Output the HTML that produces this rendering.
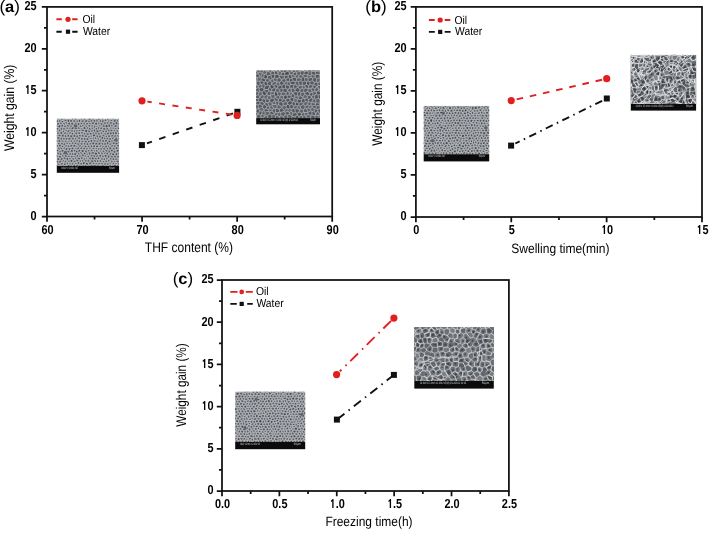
<!DOCTYPE html>
<html><head><meta charset="utf-8"><title>Weight gain figure</title>
<style>
html,body{margin:0;padding:0;background:#fff;}
body{width:709px;height:533px;overflow:hidden;}
svg{display:block;}
text{font-family:"Liberation Sans",Arial,Helvetica,sans-serif;fill:#000;text-rendering:geometricPrecision;}
.tk{font-size:13px;font-weight:bold;}
.one{font-family:NanumGothic,"Liberation Sans",sans-serif;font-size:11.6px;font-weight:800;}
.pl{font-size:16px;font-weight:bold;}
.pp{font-weight:normal;font-size:16.5px;}
.ti{font-size:14px;}
.ti2{font-size:13.5px;}
.lg{font-size:11.5px;}
.sb{font-size:3.2px;fill:#d0d0d0;}
</style></head>
<body>
<svg width="709" height="533" viewBox="0 0 709 533">
<defs><filter id="sb" x="-2%" y="-2%" width="104%" height="104%"><feGaussianBlur stdDeviation="0.38"/></filter></defs>
<rect width="709" height="533" fill="#fff"/>
<g filter="url(#sb)">
<rect x="56.8" y="118.8" width="62.3" height="47.1" fill="#abafb4"/>
<path fill="#44484d" d="M58.3 119.3L58.9 118.8L57.6 118.8L57.6 119.1ZM87.3 118.8L86.6 118.8L86.6 118.8L87.2 119ZM90.1 119.5L91 118.9L91 118.8L88.7 118.8L88.3 119.4ZM103.2 119.1L103.2 118.8L101.6 118.8L102.1 119.2ZM61.4 121.5L62.8 122.2L63.3 121.6L63.1 120.9L63 120.9L61.6 120.9ZM69 120.1L68.2 119.5L67.8 119.8L67.6 121.1L68.2 121.9L69.2 121.6ZM79.6 122L80 121.7L80.2 120.5L79.6 119.7L78.8 120.1L79.1 121.8ZM82.9 121.8L83.8 121.3L83.8 120.7L83 120.2L81.4 120.9L81.3 121.5ZM88.7 122.2L89.6 121.9L89.6 120.8L88.4 120.7L88.4 121.9ZM97.7 121.3L96.9 119.4L96.3 119.6L96.4 121.5L97.4 121.4ZM100.7 119.7L99.5 121.4L100.2 121.9L100.6 121.8L101.2 120.1ZM101.9 122L102.9 122.3L103.7 121.3L103.4 120.3L102.4 120.4ZM116 123.9L117.1 124.2L117.2 124.2L117.6 123L116.3 122.3L115.4 122.8ZM83.7 125.7L82.7 125L82 125.2L82.8 126.6ZM106 125.3L105.5 127.1L105.9 127.3L107.6 126.9L107.3 125.1L106.7 125ZM114.6 126.8L116.3 126.8L116.5 125.3L115.7 125.1L114.2 126.4ZM57.8 129.5L58.5 128.4L57.5 127.9L57 128.1L56.8 128.4L56.8 129.2ZM90.3 129.8L90.5 129.4L90 128L89.6 128L88.6 129.4ZM108.1 128L106.3 128.5L106.3 129.2L107.2 129.7L108.3 128.1ZM83.1 129.5L81.6 130.6L81.5 131L83.8 131L83.8 130.2ZM89.1 132.3L90.1 131.6L90 131L88.5 130.6L88.3 132ZM95.3 130.2L94.5 129.4L94.3 129.3L93.8 129.7L93.9 131.2L94.5 131.4L95 131ZM97.5 132.4L98.5 131.5L98.3 130.6L98 130.5L96.4 130.6L96.3 131.2ZM99.7 131.3L99.8 131.3L101.3 131L101.4 130.4L99.6 130.1L99.5 130.3ZM102.5 131.4L103.5 132.3L103.9 131.9L104 131.1L102.7 130.4ZM108.7 134L108.7 132.7L108 132.5L107 133L107.3 134.5L107.5 134.6ZM68.8 136.5L69.1 135.1L68.8 134.7L67.3 135.7L67.7 136.6L68 136.7ZM94.4 134.6L92.8 134.8L92.8 134.8L93.3 136.2L94.2 136.2L95 135.8L95.2 135.3ZM113.2 136.3L113.4 135.5L112.3 135.2L111.1 135.7L111.2 136.6ZM95 137.2L95.2 138.8L95.9 139.1L96 139L96.3 138.3L95.3 137ZM102.2 138.9L102.9 138.7L103.2 137.5L102 136.8L101.4 138.1ZM104.1 139L104.5 139.2L105.3 138.9L105.2 137.9L104.8 137.5L104.4 137.6ZM107.9 138.2L107.5 137.8L106.5 138.1L106.5 138.9L107.6 139.4ZM60.1 141.8L60.2 140.7L59.5 140L58.5 140.2L58.5 141.6ZM71.3 140.3L71.1 140.4L70.7 141.9L71.1 142.1L72.2 140.9ZM90.9 141.8L91.5 141.9L92.2 141.2L92.1 140.4L92 140.3L90.3 140.3ZM92.7 144.4L94 144L94.2 142.9L93 142.2L92.4 142.8L92.6 144.3ZM115.6 144.1L116.3 144.6L117.5 143.7L117.2 142.7L115.8 142.7L115.8 142.7ZM106.7 145.5L105.2 146.1L105.2 146.4L105.9 147.4L106.7 146.9L106.8 145.5ZM61 149.1L62.1 148.7L62.1 148.5L60.9 147.3L60.4 147.5ZM76.3 148.1L75 147.8L74.7 148L74.7 148.1L76.3 149ZM77.7 149.4L79.1 148.6L79 147.9L78.3 147.3L77.6 147.9L77.5 149.3ZM117.3 148.6L117.4 147.6L116.6 147.1L115.7 148L116 149.3ZM57.2 151.3L58.1 151.2L58.4 150.6L57.5 149.7L56.8 150.3L56.8 151ZM70.8 151.5L71.7 151.8L72.8 151.7L72.7 150.6L71.2 150.1L70.6 150.9ZM75.6 152L77 152.7L77.4 152.3L77.1 150.5L76.8 150.3ZM112.9 150.3L111.9 149.4L110.9 150.3L111.3 151.2L112.1 151.6ZM78.8 154.5L79.8 154.3L78.8 153.1L78.4 153.1L77.9 153.6ZM97.2 154.1L96.8 152.9L95.6 152.6L95.3 152.7L94.8 154L95.9 154.8ZM112 154.7L113.5 155.2L114.1 154.6L114.1 154.1L112.7 153.2ZM66.2 157L66.8 156.6L66.9 156.1L65.6 155.1L64.9 155.7L64.8 156.3ZM73.9 155.9L73.8 156L73.6 156.9L74 157.1L75.1 156.3ZM77.8 156.7L77.9 155.4L77.2 154.7L76.5 156L76.6 156.2L77.3 156.9ZM61.5 160L62.5 159L62.2 157.8L62.1 157.8L60.6 158.9L60.7 159.5ZM67 159.9L68.2 159.3L68 158.1L67.4 157.7L66.8 158.1L66.6 159.5ZM76.4 158.1L76.4 157.9L75.9 157.3L74.9 158L75.3 159.1ZM93.6 159.1L93.7 158.1L92.8 157.5L91.9 157.7L91.9 159.2L93.4 159.3ZM99.6 158.4L98.6 157.2L97.7 157.9L98.1 158.9L98.8 159.1L99.6 158.6ZM70.6 160.4L70.8 161.9L71.1 162.1L72.4 161.6L72.5 160.8L71.5 159.8ZM85.8 161.7L86.1 161.7L86.6 159.8L85.9 159.7L85 161ZM95.8 161.9L95.8 160.6L94.3 160.1L94.3 160.1L94.4 161.3L95.4 162ZM85.8 163.7L87.5 164.7L88.1 164.2L87.8 163.3L86.6 162.9L86.1 163ZM118 163.7L117.9 163.9L119.1 164.7L119.1 163ZM60.1 165.7L59.7 165.9L60.4 165.9ZM100.1 165.7L100 165.9L100.6 165.9L100.5 165.6ZM113.9 165.9L115.9 165.9L115.9 165.2L114.8 165L113.7 165.3ZM117.2 165L117.2 165L117.1 165.9L118.7 165.9Z"/>
<path fill="#565a5f" d="M61.4 119.7L62.5 119.6L62.3 118.8L60.7 118.8ZM64.6 118.9L64.6 118.8L63.6 118.8L63.7 119.6ZM67.1 118.8L67.1 118.8L67 118.8ZM70.6 118.8L70.6 118.8L69.4 118.8L69.8 119.1ZM78.5 118.8L77.9 118.8L77.9 118.9L78 119ZM98.7 120.4L99.8 118.8L98.1 118.8ZM109.8 119.1L109.9 119.2L110.9 118.8L109.7 118.8ZM56.8 120.5L56.8 121.6L57.1 121.9L58 121.9L57.9 120.5L57.1 120.3ZM77.5 120.1L77.4 120.1L76.4 120.7L76.4 121.4L77.5 121.9L77.9 121.9ZM112.6 121.1L112.6 120.7L111.6 119.9L110.4 120.3L110.5 120.9ZM118 121.8L117.9 120.2L117.6 119.8L116.9 119.9L116.9 121.2ZM76.1 124L76.3 123.9L76.7 122.9L75.9 122.5L74.9 123.2ZM80.5 122.9L80.7 124L81.2 124.2L82.3 123.8L82.4 122.9L80.7 122.7ZM89.1 123.9L90.6 124.2L90.4 123.2L90.1 123L89.1 123.3ZM94 122.9L93.1 122.1L91.7 123.1L91.9 124L93.6 124.1L93.8 124ZM99.4 123.7L99.4 122.9L98.5 122.3L98.2 122.4L98.3 124.5ZM100.6 123.1L100.6 123.8L101.7 125.4L102.6 123.6L102.6 123.5L101 123ZM112.4 122.4L110.3 122.1L109.7 123L109.7 123.2L110.6 123.6L111.8 123.4ZM113.7 125.2L114.8 124.3L114.2 123.1L113.5 122.8L112.9 124ZM65.4 127.2L65.9 126.6L65.8 125.4L64.3 125.8L64 126.6ZM90.3 125.4L88.7 125.1L88.3 125.5L88.3 125.7L89.5 126.8L90 126.8ZM92.7 126.5L93 125.3L91.6 125.3L91.4 126.5ZM93.9 127L94.5 128.1L94.5 128.1L95.2 127.1L94.9 125.7L94.3 125.1ZM103 126.7L104.4 126.7L104.7 125.2L103.5 124.6L102.6 126.4ZM111.2 124.8L111.3 126.2L112.2 126.4L112.8 126.1L111.9 124.7ZM91.6 128.8L93 128.8L93.3 128.5L92.9 127.8L91.2 127.8ZM98.9 129.1L99.3 127.6L98.5 127.1L98 127.6L98.5 129.3L98.6 129.4ZM104.4 129.9L105 129.3L105.1 128.3L104.6 127.9L103.4 127.9L103.2 129.3ZM114.9 128.6L116.3 129.3L116.6 129L116.2 128L114.9 128.1ZM57.8 131.4L57.6 130.7L56.8 130.5L56.8 131.7ZM68.3 132.2L69.4 130.9L69.4 130.6L68.7 130.2L68.1 130.3L67.1 132ZM78.8 131L80.3 131.2L80.3 130.5L79.8 130L78.7 130.2ZM91.6 130L91.2 130.6L91.4 131.5L91.7 131.7L92.7 131.3L92.6 130ZM59 132.8L58.5 132.5L56.9 132.9L57.1 133.7L57.8 134.1L59.1 133.3ZM76.2 134.3L77.3 134L77.1 132.8L75.9 132.6L75 133.5ZM98.1 133.6L97.9 134.2L98.6 134.6L100.1 134.3L99.2 132.5ZM60.5 135.2L59.7 134.4L58.5 135.2L58.4 135.9L60.5 136.3ZM62.5 136.8L63.5 136.5L63.8 135L63.2 134.6L61.8 135.3L61.7 136.3ZM71 135.2L70.3 135.4L70 136.8L71.1 137.5L72.3 136.6L72.3 135.6ZM80.7 136.5L80.5 134.9L78.9 135.1L79.1 136.3ZM89.8 137L89.5 135.7L89.4 135.7L88.1 136.5L88.1 136.9L89 137.8ZM108.7 137.3L109.9 136.7L109.9 135.6L109.3 135.2L108.1 135.6L108.3 136.8ZM57.9 137.1L57.3 137.7L57.5 138.6L58.1 139L59.2 138.8L59.7 137.4ZM84 137.7L83.8 137.9L84 139.8L84.3 140.1L85.2 139.7L85.4 138.2ZM88.5 139L87.3 137.9L86.6 138.2L86.4 139.8L87.4 140.3L88.6 139.4ZM115.9 138.7L117 138.4L117.2 137.9L116.8 137.2L115.3 138.3ZM77.9 139.9L77.3 139.4L76.3 140.6L76.6 141.5L77.2 141.8ZM84.7 141.9L86.1 142.4L86.9 141.9L86.9 141.4L85.7 140.8L84.7 141.2ZM103.5 142L103.8 141.8L103.8 140.3L103.3 139.9L102.5 140.1L102.1 141.6ZM58.1 144L58.4 144.2L59.8 143.5L59.8 143L58.1 142.8ZM76.2 144.2L76.5 142.9L76 142.6L74.6 143.1L74.5 143.7ZM77.4 144.6L78.1 145.2L79.4 144L79.3 143.7L77.7 143.1ZM82.7 143.5L81 143.1L80.6 143.5L80.6 143.9L81.7 144.8L82.7 144.3ZM85.5 144.5L85.5 143.6L84.2 143L83.9 143.3L83.9 144.3L84.2 144.6ZM97.2 144.3L97.3 143.2L96 142.6L95.4 142.9L95.3 144.2L95.7 144.7ZM101.6 144L102.5 144.8L103.2 144.7L103.1 143.2L101.6 142.8ZM104.3 143L104.5 144.9L104.6 145L105.9 144.5L105.5 142.9L104.6 142.7ZM65.8 146.8L66.6 146.7L66.7 145.2L66.2 145L65 146.1ZM71.6 144.8L70.2 145.3L70.7 146.8L70.9 146.8L72.2 146.3L72.2 145.2ZM76.8 146.9L77.5 146.3L76.7 145.6L76 146.7ZM107.9 146.9L108.5 147.1L109.3 146.1L108.6 145.4L108 145.5ZM117 145.6L117 145.8L118.1 146.6L118.9 146.2L118.9 144.9L118.3 144.7ZM90 149.1L90.8 148.3L90.1 147.5L89 148.1L89.4 148.7ZM100.5 149.5L101.9 149.8L102.1 149.6L101.9 148.6L101 147.9L100.4 148ZM103.2 148.6L103.3 149.3L104.4 149.5L105.1 148.8L105.1 148.5L104.5 147.5ZM114 149.5L114.7 149.5L114.5 148.2L113.2 147.7L112.5 148.2L112.5 148.3ZM64.5 151.8L65.7 152.7L66.3 152.2L66.3 151.1L64.8 150.7ZM68 150.6L67.5 150.9L67.6 152.1L68.7 152.5L69.6 151.7L69.4 151.3ZM74.3 151.7L75.5 150L74.4 149.4L73.9 150.3L74 151.7ZM87.5 150.5L88.4 151.4L89.4 150.9L89.4 150.2L88.9 149.9ZM104.3 151.3L104.1 150.7L102.9 150.5L102.7 150.8L102.7 151.2L103.5 152.4ZM108.3 151.9L108.9 152.9L110.1 151.5L109.8 150.6L109 150.5L108.7 150.6ZM68.1 154.5L68.1 153.7L67 153.2L66.2 153.8L66.2 154L67.6 155ZM70.5 154.9L70.5 154.8L70.9 152.9L70.4 152.7L69.4 153.5L69.4 154.4ZM91.8 153.5L93 153.9L93.6 153.7L94 152.6L93 152.1L91.7 152.5ZM102.9 153.6L101.9 152.3L101.3 152.9L101.2 153.9L102 154.2L102.9 154.1ZM118.1 152.9L118.7 154.5L119.1 154.6L119.1 152.5L119.1 152.5ZM68.7 157L69.9 156.8L69.9 156L68.9 155.6L68.1 156.1L68.1 156.6ZM91.4 156.5L92.4 156.3L92.4 155L91.5 154.7L90.5 155.8ZM98 156.1L97.9 155.1L96.3 156L96.2 156.7L96.9 157ZM100.5 154.9L99.2 155.3L99.3 156.1L100.4 157.4L100.6 157.3L101.2 155.2ZM71 158.6L70.4 157.9L69.2 158.2L69.4 159.2L69.9 159.4L71 158.6ZM83.5 159.2L84.2 159.9L84.9 158.9L84.5 158.1L84.1 157.9ZM96.4 159.5L96.9 159.2L96.5 158.2L95.5 157.8L94.9 158.2L94.8 158.9ZM111.3 159.5L111.5 158.5L110.3 158.1L109.8 158.8L110.6 159.8ZM116.7 161.8L117.5 162.5L118.6 161.8L118.7 161L118.2 160.5L116.5 161ZM70.1 163L69.5 163.2L69.2 164L70.3 164.5L70.5 164.3L70.5 163.2ZM81.6 164.8L82 164.6L81.6 162.7L81.6 162.7L80.5 163L80.3 164.3ZM89 163L89.3 164.1L89.8 164.4L91.5 163.8L91.5 163.6L90.1 162ZM115.4 163.8L116.4 164.1L116.6 163.8L116.7 163.5L116 162.9L115.4 163.1ZM58.1 165.9L56.8 165L56.8 165.9L58.1 165.9ZM73.6 165.9L74.9 165.9L75 165.1L74.3 164.7L73.6 165.7ZM76.2 165.9L77.8 165.9L77.9 165.3L77.1 164.8L76.3 165.2ZM79.1 165.9L81 165.9L79.6 165.3L79.2 165.5ZM85.4 165.9L86.6 165.9L86.7 165.7L85.2 164.8L85 165Z"/>
<path fill="#4a4e53" d="M72.7 119.4L73.5 118.8L73.5 118.8L71.9 118.8L71.8 119ZM76.6 119.1L76.6 118.8L74.7 118.8L74.7 118.9L75.7 119.6ZM92.9 119.5L94.1 118.8L92.3 118.8L92.3 118.9ZM107.4 119.7L108.5 119.1L108.4 118.8L107 118.8L107 118.9ZM118.6 119.1L118.8 119.3L119.1 119.3L119.1 118.8L118.8 118.8ZM66.4 120.8L66.5 120L65.5 119.7L64.3 120.7L64.5 121.2ZM71.9 121.4L72.1 120.5L71.1 120L70.3 120.2L70.4 121.7L70.8 121.9ZM90.9 122.1L92.4 121.1L92.2 120.6L91.6 120L90.8 120.5L90.8 122ZM93.5 120.6L93.7 120.9L94.8 121.9L95.2 121.7L95 119.7ZM114.5 121.9L115.6 121.2L115.7 119.7L115.2 119.4L113.9 120.7L113.8 121.6ZM58.9 124L58.6 123.1L58.5 123.1L57.3 123.2L56.8 124L58 124.7ZM63.4 123.3L63.3 123.6L64.1 124.6L65.1 124.3L64 122.7ZM57.3 125.8L56.8 125.5L56.8 126.8L57.1 126.7ZM60.4 126.8L60.1 125.2L59.7 125L58.6 125.8L58.3 126.9L59.5 127.6L59.5 127.6ZM67.3 124.9L67 125.1L67.1 126.3L68.4 126.6L68.9 126.2L69 125.8ZM70.3 125.8L70.2 126.3L71 126.9L72.2 126.1L70.8 125.5ZM109.2 124.3L108.5 124.8L108.8 127L109 127.1L110 126.4L109.9 124.7ZM63.5 129.6L64.2 129.7L65 128.4L65 128.4L63.2 127.7L63.2 127.7ZM71.6 128.9L73.2 128.9L73.5 128.7L73.6 127.6L73 127L71.6 128ZM79.5 128.8L79.7 128L78.7 127.1L78.4 127.5L78.5 129ZM97.2 129.3L96.8 127.9L96.1 127.9L95.6 128.7L96.2 129.4ZM111.7 129.7L110.6 129.9L110.6 131.1L111.9 131.3L112.6 130.9L112.6 130.4ZM66.4 134.4L66.7 134.6L68.2 133.7L68.1 133.4L67 133.3ZM72.9 132.9L72 132.9L71.7 134.1L72.7 134.4L73.5 133.5ZM81.4 133.7L82.2 133.5L83.2 132.3L81.3 132.2ZM90.1 134.6L91.7 134.3L91.7 134.3L91.2 132.9L90.8 132.7L89.8 133.3L89.9 134.5ZM115.4 134L116.5 134.1L116.8 133.9L117 133.1L115.5 132.1L115 132.3ZM76.7 135.5L76.4 137.1L77.2 137.7L77.9 136.7L77.7 135.2ZM85.8 135.1L84.9 135.9L84.7 136.6L86 137.1L86.8 136.8L86.9 136.3ZM106.9 135.7L106.8 135.6L105.8 136L105.6 136.6L106 136.9L107 136.6ZM114.4 136.8L114.6 137.2L116.3 136.1L116.1 135.4L115 135.2L114.6 135.4ZM78.9 139.1L79.7 139.1L80.3 137.7L78.9 137.5L78.1 138.5ZM108.9 139.3L110.5 139.7L110.9 139.3L110.4 137.9L109.1 138.5ZM57.3 140L57 139.8L56.8 139.9L56.8 141.8L57.2 141.9ZM105.9 140L105 140.4L105.1 141.6L105.8 141.7L107 140.9L107.1 140.5ZM108.3 141.1L109.4 142.4L110.1 142.1L110 140.8L108.3 140.4ZM56.9 143.1L56.8 143.1L56.8 143.8L56.9 143.8ZM87.2 145.1L88.2 144.4L88.2 143.7L87.4 143.1L86.8 143.5L86.8 144.7ZM112.6 143L112.9 143.7L113.8 144.1L114.4 143.9L114.6 142.7L113.5 142.2ZM57.3 145L56.8 145.2L56.8 146.6L57.6 146.7L57.9 146.6L57.6 145.3ZM59.1 146.3L59.6 146.5L60.5 146L61 145.3L60.3 144.6L58.9 145.3ZM74.5 146.6L75.4 145.2L73.9 144.8L73.5 145.1L73.4 146.4L74.1 146.9ZM89.5 146.4L89.4 145.7L88.9 145.5L87.8 146.3L87.7 146.8L88.1 147.1ZM97.6 145.5L96.1 145.9L96 147L97.7 147.1L98.3 146.6L98.3 146.2ZM58.7 147.5L58.4 147.7L58.2 148.6L59.3 149.7L59.8 149.5L59.2 147.7ZM63.4 148.8L64.2 149.3L64.9 147.6L64.3 147.2L63.4 148.4ZM70.3 149.1L70.3 148L70.2 147.9L68.6 148.4L68.6 149.5L69.7 150ZM81.3 147.2L80.3 147.9L80.4 148.6L80.9 149L82 148.7L82 147.9ZM83.3 148.8L84.5 149.4L84.6 149.3L85 148.4L84 147.4L83.3 147.9ZM93.3 149.3L94.4 148.7L94.4 148.4L92.8 148.1L92.4 148.4ZM109.3 148L109.5 149.3L110 149.4L111.3 148.3L111.3 148L110.2 147ZM80.2 150L79.7 149.7L78.4 150.4L78.6 151.9L78.9 151.9L80.1 151ZM87.4 152.3L87.4 152.2L86.1 150.8L85.2 150.5L85.1 150.5L85 151.3L86.4 152.5ZM101.4 151.1L101.4 150.9L100.1 150.7L99.7 151L100.6 151.8ZM118.8 150.3L117.9 149.7L116.4 150.5L116.7 151.6L117.3 151.8L118.6 151.3ZM60 153.6L59.7 154.8L60.9 155L61.6 153.7L61.6 153.4ZM75.6 155.2L76.3 153.8L74.5 152.9L74.3 152.9L74.3 154.8ZM84.7 154.4L85.2 154.2L85.5 153.4L84.3 152.4L83.5 153.2ZM105.1 153.8L105.5 152.4L105.1 152.2L104.1 153.6L104.1 154ZM107.6 154.4L108.2 154.2L108.2 154.2L107.3 152.6L106.7 152.7L106.4 153.9ZM72.4 157L72.5 156.1L71.2 155.8L71.2 155.9L71.2 157L71.7 157.5ZM79.2 155.7L79.1 156.6L80.1 156.8L80.6 156.2L80.5 155.5ZM95.1 155.8L94 154.9L93.7 155L93.6 156.5L94.4 157L94.9 156.7ZM59.3 158.9L58 158L57.3 158.4L57.1 159.5L58.7 160.1L59.4 159.6ZM79 159.6L80 158.9L79.8 158L78.5 157.8L77.7 158.1L77.6 158.2ZM114.1 159.7L114.1 158.8L113.5 158.2L112.7 158.6L112.6 159.6L113.5 160.1ZM57.3 162.5L58.2 162.3L58.2 161.3L56.8 160.7L56.8 161.9ZM83.5 161L82.5 160L82 160.1L82.2 161.6ZM91.5 160.5L90.8 160.8L90.8 160.9L92.1 162.4L93.2 161.4L93.1 160.5ZM84.2 162L82.9 162.6L83.2 164.2L84 164.2L84.5 163.6L84.9 162.6ZM95.5 164L96.4 164.5L96.9 163.7L96.9 163.4L96.3 163.1L95.8 163.2ZM68.1 165.9L69.6 165.9L69.7 165.6L68.6 165.1L67.8 165.7ZM101.8 165.6L101.9 165.9L103.8 165.9L103.8 165.7L103.4 165.3ZM106.4 165.6L105.3 165.9L106.8 165.9ZM109.9 165L108.8 165.9L110.4 165.9L110.8 165Z"/>
<path fill="#5c6065" d="M81.1 119.6L82.4 119.1L82.3 118.8L80.5 118.8L80.5 118.8ZM75.1 120.7L74.1 119.9L73.3 120.5L73.2 121.6L74 122.3L75.2 121.5ZM86.2 120L85.1 120.8L85 121.4L85.6 122.2L87.2 121.7L87.2 120.3L87.2 120.2ZM72.6 124.9L73.4 123.4L72.4 122.6L71.3 123L71.3 124.4ZM79.5 124.3L79.2 123.2L78.6 123L77.9 123.1L77.5 124.3L78.6 125.4ZM84.9 124.4L84.8 123.1L84.2 122.5L83.6 122.8L83.5 124L84.5 124.7ZM107 123.8L107.7 123.9L108.5 123.3L108.5 123.1L106.9 121.9L106.5 122.1ZM97.7 126.2L97.6 125.9L97.5 125.8L96.2 125.9L96.4 126.7L97.1 126.7ZM99.8 124.9L98.9 125.7L99 126L100.1 126.6L100.7 126.3ZM61.5 130.2L62.2 129.8L61.9 127.8L61.3 127.7L60.5 128.4ZM68 127.8L66.7 127.5L66.2 128.2L66.2 128.2L67.8 129.1L68.2 129ZM69.3 127.6L69.4 129.2L70 129.5L70.3 129.2L70.4 128L69.5 127.3ZM77.1 127.8L75.3 127.6L74.9 127.8L74.8 128.7L75.6 129.3L77.2 129.1ZM81 129.5L82.4 128.5L82.3 128.2L80.9 128.3L80.7 129.2ZM100.6 127.7L100.2 128.9L102 129.3L102 129.3L102.2 127.6L101.7 127.2ZM58.8 130.3L59.1 131.4L59.4 131.6L60.4 130.8L59.5 129.1ZM66.8 130L65.8 129.4L65.2 130.4L65.4 130.8L66.1 131.2ZM62.5 133.5L61.3 131.6L60.2 132.6L60.3 133.3L61.3 134.2ZM64.6 134L65.3 133.9L66 132.6L65.9 132.5L65.1 132.1L63.9 133.6ZM70.8 132.5L70.1 132L69.3 133L69.5 133.6L70 134.2L70.5 134.1ZM85.3 133.3L84.5 132.7L83.4 134L84.3 134.8L85.3 134ZM93.3 132.3L92.5 132.7L92.8 133.6L94 133.4L94 132.5ZM105.5 134.8L106.1 134.6L105.8 133.2L104.7 132.9L104.1 133.4ZM118.1 133.8L118.9 134L119.1 134L119.1 132.8L118.7 132.6L118.2 133.2ZM73.5 135.3L73.5 136.5L74.6 137L75.2 136.8L75.4 135.3L74.3 134.5ZM97.9 135.7L97.2 135.2L96.4 135.5L96.2 136.1L97.2 137.4L98 137.2ZM102.3 135.5L103.9 136.5L104.4 136.3L104.6 135.7L103.3 134.4L102.3 135.3ZM60.4 139.2L61 139.7L62.1 139.4L61.9 137.8L61.1 137.4ZM73 137.6L71.7 138.5L71.8 139.1L72.9 139.8L73.5 139.5L73.9 138ZM75.6 138L75.1 138.1L74.8 139.5L75.5 139.7L76.4 138.6ZM92.8 139.4L92.9 139.4L93.9 138.9L93.8 137.5L93.1 137.4L92.9 137.7ZM112.1 139L112.8 139.1L113.7 138.3L113.4 137.6L111.7 137.8ZM118.4 138.2L118.2 138.8L119.1 139.9L119.1 138ZM65 142.1L67 141.3L66.9 141L65.1 140.7L64.7 140.9L64.7 141.9ZM78.4 142L79.8 142.5L80.2 142.1L80.1 140.7L79.8 140.3L79.1 140.3ZM93.5 141.1L94.9 141.8L95.4 141.5L95.4 140.2L94.6 140L93.4 140.5ZM112.4 140.3L111.8 140.2L111.3 140.6L111.3 142L111.7 142.2L112.7 141.2ZM65.9 143.1L66.4 143.8L67.3 144.1L67.6 143.9L67.8 142.9L67.4 142.4ZM73.4 142.7L72.9 142L71.9 143.1L72.1 143.7L72.8 144.1L73.2 143.8ZM91.1 143.1L90.6 143L89.4 143.8L89.5 144.4L90 144.6L91.3 144.2ZM99.6 146.6L99.9 146.8L100.9 146.7L101.5 145.6L101 145.1L99.5 146.2ZM112 147L112.6 146.6L113 145.1L112.5 144.9L111 146.1ZM113.9 146.7L114.9 147L115.8 146.1L115.7 145.7L114.8 145.1L114.3 145.3ZM56.8 147.8L56.8 148.6L56.9 148.5L57.1 147.9ZM87.7 148.3L87.1 147.9L86.3 148.6L85.9 149.4L86.4 149.6L88.1 148.9ZM99.3 149.7L99.1 147.7L99 147.7L98.5 148.1L98.2 149.4L98.7 150.2ZM118.6 147.7L118.5 148.7L119.1 149.1L119.1 147.5ZM59.2 151.7L59.8 152.4L60.9 152.2L60.3 150.6L59.6 151ZM97.2 150.1L96 150.1L96.1 151.4L97.1 151.7L97.7 151ZM114.6 152.9L115.5 152L115.2 150.7L114.1 150.8L113.3 152.1ZM65 154L65 153.8L63.7 152.7L62.8 153.2L62.8 153.5L64.3 154.6ZM72.1 153L71.8 154.7L73 155L73.1 154.9L73 152.9ZM82 153.2L80.7 152.1L80 152.6L81.1 153.9ZM87 155L87.8 154.7L87.4 153.5L86.7 153.7L86.4 154.6ZM100 153.8L100 152.9L98.7 151.8L98 152.5L98.5 154L98.6 154.1ZM117.5 154.8L116.8 153L116.4 152.8L115.4 154L115.4 154.5L116.8 155.2ZM57.5 156.9L57.9 155.7L56.8 155.1L56.8 157.2L56.8 157.2ZM83.8 155.2L82.7 154.1L81.7 155L81.8 155.9L83.4 156.3ZM108.8 158.1L109.5 157.1L109.4 155.7L108.8 155.3L108.1 155.6L107.5 156.8ZM116.3 157.3L116.2 156.3L114.9 155.6L114.3 156.1L114.3 157.2L114.9 157.8ZM63.7 158.7L64.9 159.3L65.4 159.2L65.5 158.1L64.1 157.3L63.5 157.7ZM81.5 157.1L81 157.7L81.2 158.8L81.4 158.9L82.4 158.8L82.9 157.5ZM62.5 161.5L63.1 161.8L64 160.2L63.3 159.9L62.3 160.9ZM68.9 160.4L67.5 161.1L67.5 161.2L69.1 162.1L69.5 161.9L69.4 160.5ZM73.6 161.9L74.1 162.3L75.7 161.6L75.1 160.4L73.7 161ZM79.5 161L80.2 161.8L81 161.6L80.7 159.9L79.5 160.8ZM102.8 161.2L102.7 161.6L103.7 162.5L104.3 162L104.1 161.2L103 161.1ZM111.9 162.5L112.8 161.5L112.8 161.2L111.8 160.6L110.9 161L110.9 161.2ZM114.9 162L115.4 161.8L115.2 161L114.7 160.8L114.1 161.2L114.1 161.5ZM62.1 162.7L60.6 163.9L60.6 164.6L61.1 164.8L62.6 164.2L62.8 163.1ZM93.9 162.5L92.7 163.6L92.7 164L93.2 164.4L94.2 163.8L94.5 162.9ZM98.1 163.3L98.2 163.5L99.8 164.5L100 164.4L100.1 163.2L99 162.7ZM103 164.1L103 163.6L102 162.7L101.3 163.1L101.3 164.5ZM104.2 163.6L104.2 164.4L104.7 164.8L106 164.4L106.1 163.4L105.1 163ZM113 164.2L114.1 163.9L114.2 163.1L113.5 162.6L112.5 163.7L112.5 163.9ZM63 165.4L61.8 165.9L63.4 165.9ZM88.8 165.2L88 165.9L88 165.9L89.2 165.9L89.2 165.4ZM97.2 165.5L97.2 165.9L98.5 165.9L98.8 165.3L97.8 164.7ZM111.8 165.9L112.6 165.9L112.4 165.3L112.1 165.2Z"/>
<path fill="#505459" d="M85.4 118.8L83.6 118.8L83.7 119.1L84.5 119.7L85.4 119.1ZM59.3 121.9L60.1 121.4L60.4 120.4L59.8 119.7L59.2 120.3ZM104.9 121L105.6 121.1L106.4 120.7L106.5 120.6L105.9 119.6L104.6 120ZM62.1 123.3L62.1 123.2L60.6 122.5L59.9 123L60.1 123.8L60.6 124.1ZM70.1 122.9L69.8 122.7L68.4 123.1L68.1 123.9L69.7 124.7L70.1 124.5ZM86.1 123.4L86.1 124.2L87.4 124.6L87.8 124.2L87.9 123.1L87.6 122.9ZM96 122.7L95.3 123.1L95 124.1L95.7 124.7L97 124.6L97 122.7ZM103.8 123.2L103.8 123.3L105.4 124.2L105.8 124L105.2 122.3L104.6 122.2ZM118.4 124.3L119 124.6L119.1 124.6L119.1 123.1L118.9 123.1ZM62.4 126.7L62.8 126.5L63.1 125.4L62.4 124.6L61.3 125.2L61.6 126.5ZM73.6 125.9L74.4 126.7L74.7 126.5L75.2 124.9L74.3 124.3L73.6 125.8ZM76.6 125.1L76.5 125.2L76.1 126.4L77.5 126.6L77.8 126.3ZM80.7 127.1L81.6 127L80.7 125.3L80.3 125.2L79.6 126.2ZM86.2 126.9L87.1 125.9L87.1 125.9L85.6 125.4L85.1 125.8ZM85.6 128.1L84.4 126.8L83.5 127.8L83.7 128.4L84.6 129.2L85.5 128.7ZM88.4 127.5L87.8 126.9L86.8 128.1L86.8 128.6L87.5 128.8ZM117.9 128.8L118.7 129.1L119.1 128.9L119.1 127.8L117.4 127.6ZM62.5 131.1L63.3 132.4L64.2 131.2L64 130.9L63.1 130.8ZM72.6 131.7L72.8 130.2L71.2 130.2L70.6 130.6L70.6 130.8L71.7 131.6ZM76.2 130.5L76.3 131.4L77.4 131.6L77.6 131.3L77.5 130.3ZM86 132.3L87 131.9L87.3 130L86.2 129.7L85.1 130.3L85 131.5ZM105.2 131.7L106.2 132L107.1 131.5L106.9 131L105.8 130.3L105.2 131ZM108.1 130.6L108.3 131.3L109.2 131.5L109.4 131.3L109.4 129.6L109.1 129.2ZM78.5 133.9L80.1 133.7L80 132.5L78.6 132.2L78.4 132.4ZM95.2 132.4L95.2 133.6L96 134.3L96.7 134.1L96.9 133.4L95.5 132.2ZM110 134.1L110.6 134.6L111.6 134.1L111.4 132.5L110.1 132.3L109.9 132.5ZM112.6 132.3L112.8 134L114 134.4L114.1 134.3L113.7 132.3L113.2 132ZM57.1 136.2L57.2 135.2L56.8 135L56.8 136.5ZM64.8 136.7L65.3 137.1L66.4 136.7L66 135.8L65.4 135.1L65 135.2ZM82.4 134.8L81.7 134.9L81.9 136.5L83.1 136.8L83.5 136.6L83.6 135.8ZM101.1 135.8L101 135.5L101 135.5L99.1 135.8L99.3 137.3L100 137.7L100.2 137.6ZM63.4 139.4L64.1 139.8L64.3 139.7L64.5 138.1L64 137.7L63.1 137.9ZM67.3 137.8L67.2 137.7L65.8 138.2L65.6 139.5L67 139.7ZM70.5 138.6L69.2 137.7L68.6 137.9L68.3 139.6L70.3 139.5L70.6 139.2ZM81 139.8L82.7 139.5L82.6 138L81.7 137.8L80.8 139.6ZM98.6 138.3L97.5 138.7L97.3 139L98.6 139.7L99.1 138.6ZM74.3 141.9L75.3 141.5L75.1 140.9L74.1 140.6L73.6 140.9ZM88.1 141.3L88.1 142L88.9 142.6L89.7 142.1L89 140.6ZM61 143.6L62 144.5L62.2 144.4L62.7 143.2L61 142.8ZM64.1 145.2L65.2 144.2L64.6 143.3L64.1 143L64 143.1L63.4 144.7ZM98.6 143.1L98.5 144.6L98.9 145.1L100.3 144L100.3 142.8L99.3 142.6ZM108.2 144.1L108.5 143.3L107.5 142.1L106.7 142.6L107.1 144.3L107.4 144.4ZM61.8 146.4L62.7 147.3L63.4 146.3L62.6 145.6L62.2 145.7ZM79.6 146.8L80.9 146L80.9 145.8L80 145L78.9 146.2ZM83.4 146.3L83.4 145.5L83.2 145.4L82.2 145.9L82.1 146.2L82.7 146.8ZM84.7 146.4L85.8 147.4L86.5 146.8L86.5 146.2L85.9 145.7L84.7 145.8ZM91.7 147.3L92 147.1L92 145.4L91.9 145.3L90.7 145.7L90.8 146.4ZM93.3 146.9L94.7 147.2L94.9 145.6L94.4 145.2L93.2 145.5ZM103.9 146L103.7 145.9L102.7 146L102 147.2L102.5 147.5L103.9 146.3ZM67.4 148.3L66.9 147.9L66.1 148L65.4 149.6L66.8 149.9L67.3 149.5ZM72.7 147.4L71.6 147.9L71.6 148.9L73 149.4L73.5 148.4L73.4 147.9ZM95.7 148.8L95.7 148.9L97 148.9L97.2 148.3L95.6 148.2ZM106.4 148.6L106.4 148.7L108.2 149.5L108.2 149.5L108.1 148.3L107.4 148ZM63.2 151.6L63.6 150.4L62.7 149.8L61.5 150.3L62.2 152.1ZM83.7 151.2L83.9 150.5L82.6 149.9L81.4 150.2L81.4 151L82.8 152.2ZM93.7 151.1L94.8 151.6L94.9 151.5L94.8 149.9L93.8 150.5ZM105.9 149.8L105.3 150.3L105.5 151L106.4 151.5L107.1 151.4L107.4 150.5ZM58.8 153.2L58.2 152.4L57.5 152.5L57.2 153.8L58.4 154.6ZM109.5 154.2L110.1 154.7L110.7 154.6L111.5 152.7L111 152.4L109.5 154.2ZM58.8 157L59.9 157.8L61.2 156.9L60.8 156.2L59.1 155.9ZM84.9 156.9L86.1 156.3L86.2 156L85.5 155.4L85 155.6L84.6 156.8ZM89.2 156.1L88.5 155.8L87.4 156.2L87.4 156.5L88.3 157.5ZM105.1 156.9L106.3 156.4L106.8 155.4L105.5 155L104.5 155.2L105 156.8ZM118 157.7L119.1 156.7L119.1 156L119.1 155.9L118.4 155.7L117.5 156.2L117.5 157.4ZM73.3 159.8L74.1 159.5L73.6 158.3L73.1 158.1L72.2 158.7L72.2 158.7ZM102.7 158.5L101.3 158.3L100.8 158.7L100.8 158.7L102.3 160L102.4 160ZM104.4 160L105 159.5L104.5 158L104 158.3L103.7 159.9ZM115.8 159.9L117.6 159.3L117.5 158.9L116.8 158.4L115.3 159L115.3 159.7ZM119.1 159.6L119.1 158.4L118.7 158.8L118.9 159.4ZM59.5 161.2L59.4 162.5L59.9 162.8L61.3 161.7L61.1 161.2L60.2 160.6ZM76.2 160L77 161.4L78.3 160.8L78.3 160.6L76.9 159.3ZM97.4 162.3L98.3 161.6L98.3 160.3L97.7 160.2L97 160.5L97 162.1ZM106.6 162.3L106.9 162.1L106.6 160.6L105.9 160.4L105.3 160.9L105.5 161.8ZM58.7 163.5L57.5 163.7L57.4 163.9L58.9 164.9L59.4 164.6L59.3 163.9ZM64 163.5L63.9 164.5L64.4 165.1L65.8 164.8L65.4 163.6ZM74.7 163.5L75.7 164.1L76.5 163.7L76.4 162.7L74.7 163.4ZM77.8 163.7L78.7 164.3L79 164.2L79.3 162.7L78.7 162L77.6 162.5ZM107.2 164.6L107.8 165.1L108.8 164.3L107.9 162.9L107.8 162.9L107.4 163.3ZM70.9 165.9L72.2 165.9L71.2 165.3L71 165.5ZM83.9 165.5L82.8 165.5L82.4 165.8L82.4 165.9L84.1 165.9ZM92 165L90.4 165.5L90.5 165.9L92.6 165.9L92.5 165.5ZM93.9 165.9L96 165.9L96 165.7L94.7 165L93.8 165.5Z"/>
<path fill="#62666b" d="M113.2 119.6L114.1 118.8L112.4 118.8L112.4 118.9ZM109 121.9L109.3 121.3L109.2 120.2L107.7 120.9ZM66.8 123.7L67.2 122.7L66.7 122L65.2 122.3L66.4 123.9ZM117.6 126.4L118.6 126.5L118.3 125.7L117.7 125.4ZM110.3 128.7L111.4 128.5L111.5 127.5L110.8 127.4L109.8 128ZM112.6 128.8L113.1 129.3L113.6 128.7L113.7 127.7L113.3 127.2L112.8 127.4ZM75 131.7L74.9 130.3L74.1 129.8L74.1 129.8L73.9 132.1L74.2 132.5ZM113.8 130.4L113.8 130.9L114.3 131.2L115.2 130.9L115.5 130.3L114.4 129.8ZM117.5 130L116.8 130.4L116.4 131.2L117.6 132L118 131.6L118.1 130.2ZM88.6 133.4L87.6 133.1L86.5 133.4L86.5 134L87.7 135.3L88.7 134.6ZM102.7 133.3L101.6 132.2L100.6 132.4L101.5 134.3ZM92 136.8L92.2 136.6L91.7 135.6L90.8 135.8L91 136.6ZM118.9 136.7L118.4 135.2L117.5 134.9L117.3 135L117.5 136.1L118.1 137ZM91.6 139L91.6 138L90.7 137.9L89.7 138.8L89.8 139ZM63.4 142L63.5 140.9L62.7 140.5L61.4 140.9L61.4 141.6L63.4 142ZM68.2 141.4L68.7 142L69.5 141.7L69.7 140.8L68.2 140.9ZM81.4 141L81.4 141.9L83.1 142.3L83.4 142L83.5 141L83.2 140.7ZM96.6 141.5L97.9 142L98.5 141.6L98.3 141L96.7 140.1ZM100.3 138.9L99.5 140.6L99.7 141.4L100.8 141.6L101.3 139.7L100.4 138.9ZM115 141.5L115.1 139.7L114.5 139.3L113.6 140L113.9 141ZM117.3 139.6L116.4 139.8L116.3 141.4L117.3 141.4L118.1 140.7ZM70.8 143.7L70.7 143.4L70 142.9L69 143.2L68.9 143.9L69.5 144.2ZM110.2 145.2L111.6 144L111.3 143.4L110.7 143.2L109.7 143.6L109.4 144.5ZM118.3 142.2L118.7 143.5L119.1 143.6L119.1 142.1L118.8 141.7ZM68.9 145.4L68.2 145L68 145.1L67.8 147L68.1 147.3L69.4 146.9ZM90.7 151.1L91.1 151.4L92.5 151L92.5 150.3L91.5 149.3L90.7 150.2ZM89.1 154.6L89.6 154.9L90.6 153.7L90.4 152.4L89.9 152.1L88.6 152.7L88.5 152.9ZM63.5 156.2L63.6 155.6L62.4 154.7L61.9 155.7L62.4 156.6L62.7 156.7ZM102.4 155.4L101.9 157.1L103.3 157.3L103.8 157L103.2 155.3ZM111.2 155.7L110.7 155.9L110.7 156.9L112.1 157.5L113.1 157L113.1 156.3ZM86 158.4L87.3 158.6L87.5 158.5L86.6 157.5L85.8 157.9ZM90.3 159.7L90.7 159.5L90.7 157.5L90.1 157.1L89 158.6ZM106.2 159.2L107 159.4L107.7 158.8L106.6 157.6L105.8 157.9ZM65.6 162.4L66.3 161.4L66.3 161L65.7 160.4L65.3 160.5L64.3 162.3ZM89.6 160.7L88.2 159.5L88 159.7L87.4 161.8L88.2 162.1L89.6 160.8ZM100.1 159.7L99.6 160.1L99.6 161.5L100.6 162.1L101.4 161.5L101.5 161ZM108.1 161.7L108.1 161.7L109.7 161L109.7 160.7L108.8 159.5L107.8 160.3ZM67.1 164.7L67.9 164L68.2 163L67.1 162.4L66.5 163.1ZM71.8 164.2L72.7 164.8L73.5 163.8L73.4 163.4L72.8 162.8L71.8 163.2ZM109.2 162.6L110 163.7L111.3 163.7L111.3 163.7L110.1 162.2Z"/>
<circle cx="65.5" cy="152.7" r="1.6" fill="#5e6268"/>
<circle cx="116" cy="140" r="1.6" fill="#5e6268"/>
<circle cx="75.5" cy="125.9" r="1.6" fill="#5e6268"/>
</g>
<rect x="56.8" y="165.9" width="62.3" height="6.9" fill="#0b0b0b"/>
<text x="61.2" y="168.5" class="sb" textLength="17" lengthAdjust="spacingAndGlyphs">10kV x1.00k SE</text>
<text x="109" y="168.5" class="sb" textLength="6" lengthAdjust="spacingAndGlyphs">50&#956;m</text>
<g filter="url(#sb)">
<rect x="256.2" y="70.4" width="63.8" height="47.7" fill="#9fa2a8"/>
<path fill="#5c6065" d="M256.3 70.6L256.3 70.4L256.2 70.4L256.2 70.7ZM257.2 70.7L258.3 72.4L259.6 71.9L259.8 70.4L257.2 70.4ZM260.5 72L262 72.7L263.1 70.4L260.8 70.4ZM301.8 70.4L299.6 70.4L299.7 71.2L299.9 71.2ZM312.2 71.1L314.9 71.2L315 71L315.2 70.4L312.2 70.4ZM257.6 72.9L256.7 71.5L256.2 71.7L256.2 73.9ZM260.4 76.5L260.5 76.5L261.9 73.6L260 72.7L258.6 73.2ZM266.6 74L267.7 75.7L270.5 74.5L270.6 74.3L270.2 72.9L268.1 71.8L267.3 72.1ZM310.7 75.3L311.2 74.1L311 72.3L308.7 72.3L308.3 74.5ZM270.4 79.4L271.7 78.5L270.6 75.5L268 76.6L267.7 77.9ZM283.8 78.1L283.9 76.4L280.6 75.7L279.9 76L279.8 77.2L281.6 79.1ZM291.6 75.1L292.5 77.3L294.9 76.6L294.9 76.4L292.7 74.8ZM299.3 75.7L299.2 77.1L301.1 78.1L302.6 76.4L302.5 76L300.7 75.1ZM265.9 80.8L267.4 82.2L269.7 80.1L267.2 78.7L266.2 79.4ZM276.7 79.1L274.6 78.2L273.5 78.9L274.8 81L276.5 81.3ZM281 80.3L281 79.8L279.2 77.9L277.6 79L277.4 81.5L279.3 82.1ZM300.8 78.9L298.7 77.9L296.9 78.7L296.8 80.7L298.3 81L300.7 80.4ZM307.6 80.7L307.6 78.6L307 77.9L305.1 78L305.3 80.8L306.5 81.2ZM290 84.3L289.6 82.5L289 82L288.6 82L287.3 84.6L289.3 85.4ZM298.9 85.2L298 81.8L296.5 81.5L295.8 82.1L295.5 83.6L297.9 85.8ZM319.7 82.3L318.2 82.9L318.5 85.1L320 85L320 82.5ZM257.9 87.3L257.9 86.1L256.9 85.5L256.2 85.7L256.2 88ZM260.5 84.5L258.8 86.1L258.8 87.4L259 87.6L261.7 87.3L261 84.7ZM262.7 87.4L263.9 88.1L264.9 85.9L263.5 84.3L262 84.7ZM294.9 88.8L297.3 86.8L297.4 86.6L295 84.4L294.3 85L293.9 87.9ZM299.9 89L301.7 87.8L301.7 85.7L299.6 85.9L298.3 86.7L298.2 86.9ZM309 87.8L310.6 88.1L312.1 87L312.5 85.4L310.3 84.7L309 86ZM318.3 86L317.8 86.7L319.2 88.8L320 88.6L320 85.9ZM268.6 89.4L269.3 90.6L271.1 91.2L271.1 91.2L271.3 89.5L269.7 87.2ZM292.3 92L293 92.5L293.1 92.5L294.7 91.2L294.5 89.7L293.2 88.6L291.3 88.7ZM303.3 89.6L302.1 88.6L300.3 89.9L300.1 91.3L301.1 91.8L303.3 91.9ZM314.4 91.1L314.3 89.2L312.5 87.9L311.3 88.7L312.7 91.4ZM280.7 92.9L279.8 92.3L277.8 92.8L278.4 95.3L279.6 95.7L280.6 94.9ZM286.3 92.9L286.4 94.4L286.9 94.9L289.1 94.6L288.5 92.2L287.5 91.6ZM303.7 92.8L301.3 92.7L301 95.5L302.8 96.5L304.2 93.9L304 93.1ZM313.2 94.7L314.9 94.8L316.1 93.7L315.7 92.5L314.8 92L313 92.3ZM262.6 95L260.1 96.9L260.1 97.2L262.6 98.4L263.4 98.1L263.6 95.9ZM271.9 97.5L273.7 97.9L274.6 96.9L274.7 96.7L274 95L270.7 95.6ZM291.5 95.6L291.6 96.7L293.7 97.4L294.5 96.1L293.1 93.5ZM312.1 97.2L313.4 98.3L313.7 98.3L314.4 95.7L313 95.6L311.9 96.8ZM278.1 99.6L275.1 97.8L274.4 98.5L274.8 100.3L275.6 100.7L277.9 100.7ZM319.8 101.9L319.2 99.3L318.2 98.7L316.2 99.5L316.5 102.4L319.2 102.5ZM278.1 101.6L276 101.6L276.3 104.3L277.2 104.9L278.1 104.2L278.6 102.2ZM283.4 103.3L283.7 105L285.6 105.3L287.2 104L287.1 102.8L286 101.8ZM299.2 105.1L300.3 105.9L302.8 104L302.8 103.6L301.5 102.6L299.3 103.6ZM308.1 104.2L309.1 105.2L310.9 104.5L310.7 102.8L308.7 102.3ZM311.8 104.7L312.3 105.5L315 104.7L315.1 103.7L311.6 102.7L311.6 102.7ZM272.5 109L273.2 108.4L271.8 106.1L270 106.7L269.9 108ZM285.4 106.2L283.4 105.9L282.5 106.8L282.3 107.3L284.3 109.7L286 108ZM300.8 106.6L301.2 108.5L303.4 109L304.7 107.8L304.6 106.6L303.2 104.8ZM305.5 106.6L305.6 107.7L306.6 108L308.3 107.7L308.5 105.9L307.6 104.9ZM309.2 107.7L310.4 108.1L311.5 107.1L311.6 106.1L311.2 105.4L309.4 106.1ZM316.5 106.4L316.6 108.5L317.6 109L319.6 108.3L319.5 106.5L319.1 105.8ZM269.1 109.8L269.4 111.1L269.7 111.5L271.6 110.6L272 109.8L269.6 108.9ZM272.4 110.8L274.5 112.9L275.1 112.2L275 109.1L273.9 109L273 109.8ZM290.8 109.3L289.9 108.8L288.7 109.3L288.3 111.1L289.4 112L290.6 110.8ZM307.5 112.1L306.2 108.8L305.3 108.5L304 109.7L304.1 111.9L304.3 112ZM308.7 108.5L307.2 108.8L308.2 111.5L310.5 110.5L310.1 109ZM318.1 110.9L319.9 113.2L320 113L320 109.1L318.1 109.8ZM257.5 114.1L256.2 112.5L256.2 115.3L256.2 115.3ZM276.9 115.2L277.7 113.1L275.8 112.9L274.9 113.8L274.8 114.2L275.7 115.4ZM279.8 112.7L278.6 113.1L277.8 115.3L279.5 116.1L280.5 115.2L279.9 112.8ZM280.8 112.9L281.3 115L283.5 115.9L285 114.5L284.6 112.4L284.1 111.9ZM304.7 115.4L303.7 112.7L303.7 112.7L302.2 113.7L301.9 115.2L302.6 115.7ZM305.8 115.5L307.7 114.1L307.4 113L304.7 112.9L305.6 115.4ZM267.3 117.8L266.8 116.3L265.7 115.8L264 117.9L264.1 118.1L267 118.1ZM275.1 116.1L274.1 114.8L272.3 115.4L272.2 118.1L274.9 118.1ZM278.9 117.7L279.1 116.9L277.2 116L276 116.3L275.8 118.1L278.3 118.1ZM287 115.6L285.6 115.2L284.1 116.6L284.3 118.1L287.1 118.1L287.5 117.9ZM287.9 115.5L288.4 117.7L289.2 118.1L290.8 118.1L290.9 118L291.6 116.2L291.4 115.8L289.5 114.8ZM315.8 115.7L315.5 115.9L315.4 118.1L318.6 118.1L318.3 116ZM319.2 115.8L319.6 118.1L320 118.1L320 115.4L319.7 115.3Z"/>
<path fill="#565a5f" d="M267 71.2L267.8 71L268 70.4L266.1 70.4ZM270.5 72.1L271.7 70.7L271.6 70.4L269 70.4L268.7 71.1ZM274.3 71.1L275 70.4L272.5 70.4L272.6 70.5ZM278.1 72L279.1 70.6L279.1 70.4L276.5 70.4ZM291.4 70.4L288.2 70.4L288.2 70.7L289.3 71.9L291.3 70.7ZM296.3 71.6L296.6 71.9L298.8 71.2L298.7 70.4L296 70.4ZM307.1 70.7L307.1 70.4L303.7 70.4L304.4 71.1ZM271.4 73.9L274.2 73.9L274 72L272.3 71.4L271.1 72.7ZM282.2 72.9L281.2 74.9L284.1 75.6L284.5 75.1L284 73.1L283.2 72.5ZM299.6 72.1L299.3 72L297 72.7L297.2 73.9L299 74.9L300.2 74.3ZM302.9 70.9L300.5 72L301.1 74.3L302.8 75.1L303.4 74.2L303.8 71.8ZM315.4 74.5L314.7 72.1L311.9 72L311.8 72L312.1 73.9L315.1 75.1ZM319.4 73.8L319.9 73.2L319.9 73L319.2 72.2L315.6 71.7L315.5 71.8L316.2 74ZM257.9 73.8L256.2 75L256.2 76.4L257.3 77.2L259.4 76.6ZM287.8 75.7L285.2 75.7L284.8 76.2L284.7 78.2L285.6 78.8L287.9 77.3ZM303.4 75.8L303.4 76.2L304.8 77.1L306.8 77L307.1 75.3L304 74.9ZM320 74.4L319.5 77.9L320 78.2L320 74.4ZM285.2 79.7L284.2 78.9L281.9 80L281.9 80.3L284.2 82.4L285.6 80.7ZM309.6 81.2L311.9 80.2L312.1 78.6L311 77.8L308.5 78.7L308.5 80.6ZM312.8 80.3L314.5 82.1L315.8 81.6L316.2 78.5L315.1 77.7L313 78.7ZM256.4 84.7L256.2 83.6L256.2 84.7ZM257.1 81.4L256.7 81.7L257.3 84.8L258.3 85.3L259.9 83.9L259.4 82ZM260.3 81.7L260.8 83.7L261.4 83.9L263.3 83.5L263.7 82.2L260.9 81.1ZM273.5 85L275.7 83.6L276.2 82.2L274.6 81.9L272.1 84.1L272 84.3ZM298.9 81.8L299.8 84.9L301.8 84.8L301.9 82.1L301 81.3ZM304.8 81.6L302.8 82.3L302.7 84.7L304.3 85L306 84L306.1 82ZM313 84.6L313.3 84.4L313.9 82.7L312.2 81L310.1 82L310.5 83.9ZM317.3 82.9L316.2 82.4L314.8 82.9L314.2 84.5L316.9 86.3L317 86.3L317.6 85.4ZM275.9 84.5L274.1 85.7L274.9 87.1L276.1 88L277 87.6L277.6 86.5ZM289.1 86.3L286.7 85.3L286 85.4L286 88.1L287.5 89.1L289.2 87.7ZM293 87.7L293.4 85.1L290.7 84.9L290 86.1L290.1 87.6L290.7 87.8ZM256.2 91L258.8 91.8L259.1 91.6L258.4 88.3L258.3 88.1L256.2 89L256.2 90.9ZM264.4 90.3L266.8 92.9L268.4 91L267.8 89.9L264.6 89.9ZM272.2 89.6L272 91.1L274.5 91.6L274.9 91.3L275.5 88.7L274.5 88ZM282.1 88.6L280.1 89.6L280.3 91.6L281.2 92.1L282.5 91.5L282.5 88.9ZM287.1 89.9L285.5 88.8L283.4 89.1L283.4 91.4L285.8 92.2L287 90.9ZM307.2 91L307.6 88.9L306 88.5L304.2 89.6L304.3 92.2L304.5 92.3ZM257.8 94.5L258.3 92.6L256.2 91.9L256.2 94.9ZM269.1 91.5L267.2 93.7L267.3 94.2L268.5 95.1L269.8 95.1L269.9 95L270.6 92ZM299.6 92L298 92.6L298.1 95.5L298.3 95.8L300.1 95.4L300.4 92.5ZM305 93.7L307.8 95.5L309 94.9L309.3 93.4L307.5 91.8L304.9 93.1ZM312.4 94.9L312.2 92.5L310.2 93.5L309.9 95L311.4 96.1ZM278.5 98.7L279.3 97.6L279.3 96.6L278 96.1L275.6 97ZM300.4 96.2L298.7 96.7L298.7 98.5L301.2 99.3L302.6 97.7L302.5 97.4ZM262.9 99.2L262.4 101L264.5 103.1L265.4 102.3L265 99.5L263.8 98.9ZM269.1 100.4L267.1 99.1L265.9 99.5L266.3 102.1L267.8 102.3L269.2 101.3ZM282.1 101.7L282.9 102.5L285.5 101.1L285.2 99.9L283.8 99.3L282.8 99.8ZM286.1 99.7L286.4 101L287.6 102L289.6 100.4L289.4 99L287.6 98.4ZM291.4 97.6L290.3 98.8L290.5 100.3L292.4 101.4L293 101.2L293.6 98.4L293.6 98.3ZM302 101.9L303.2 102.8L305.1 101.4L304.2 98.9L303.2 98.4L301.8 99.9ZM305.1 98.9L305.9 101.2L308.1 101.4L308.1 99.7L307.1 98.3ZM309 99.8L309 101.4L311 102L311.2 101.9L312.7 98.9L311.7 98ZM256.3 103.9L258 104.5L259.5 103.8L259.6 102.3L258.6 101.6L256.4 102.2ZM260.4 103.8L262.5 105.2L263.9 103.9L264 103.8L261.8 101.7L260.5 102.4ZM267.6 103.2L266 102.9L264.9 104L264.8 104L267 106L268.2 105.6ZM292.8 102.2L292.3 104.1L293.8 105.7L294.9 104.9L295.2 102.7L293.4 102ZM319.8 105.2L320 105.6L320 103L319.8 103.1ZM256.7 108.6L258 108.2L257.6 105.4L256.2 104.8L256.2 108.2ZM262 106.9L262.1 106L259.9 104.6L258.5 105.3L258.9 108ZM293.1 108L293.3 106.4L291.7 104.8L290 105.5L290.4 108.1L291.4 108.6ZM259.3 111L258.3 109L257 109.4L256.4 111.4L258.1 113.3ZM268.2 110L265.9 109L264.4 109.7L264.3 110.4L265.1 111.4L268.4 111ZM276.7 108.7L275.9 109L276 112L278.2 112.3L279.3 111.9L278.9 109.7ZM281.8 108.1L279.8 109.5L280.3 112L280.4 112.1L283.8 111.1L283.8 110.5ZM294.5 109.6L293.5 108.9L291.7 109.4L291.5 110.8L293.4 112.6L294.8 112ZM297 112.9L298.7 111.6L299.1 109.9L296.9 109.1L295.4 109.6L295.7 112ZM260.6 114.8L260.9 114.6L262 111.6L260 111.5L258.7 113.9ZM270.1 113.5L272 114.6L273.9 113.9L274 113.7L271.8 111.4L270.1 112.3ZM289 112.8L287.7 111.8L285.5 112.5L285.8 114.3L287.3 114.8L289 114ZM293.6 113.5L292.3 115.5L292.4 115.8L294.7 116.2L296.8 114.7L296.6 113.7L295.2 112.8ZM310.8 115L311.3 114.7L311.5 111.8L310.9 111.3L308.3 112.5L308.3 112.6L308.6 113.9ZM313.6 111.6L312.4 111.9L312.2 114.6L315 115.1L315.2 115L315.2 113.7ZM260.5 117L260.2 115.6L258.2 114.7L256.9 115.9L257.5 118.1L259 118.1ZM268.2 117.6L269.3 118.1L271.3 118.1L271.4 115.3L269.7 114.3L267.7 116.1ZM294.5 117.1L292.4 116.7L291.8 118.1L294.8 118.1ZM302.1 116.4L301.3 115.9L299.4 116.7L299.5 117.7L300 118.1L302.3 118.1ZM311.3 115.8L310.9 117.5L312.2 118.1L314.5 118.1L314.6 116L311.8 115.5Z"/>
<path fill="#505459" d="M280 70.6L281.9 72L282.8 71.7L282.9 70.4L280 70.4ZM283.7 71.8L284.5 72.3L287.3 70.7L287.3 70.4L283.8 70.4ZM294 72.1L295.4 71.6L295.1 70.4L292.3 70.4L292.2 70.8ZM308.5 71.4L311.2 71.4L311.3 71.3L311.3 70.4L308 70.4L308 70.9ZM319.8 71.6L320 71.7L320 70.4L319.7 70.4ZM277.5 73.8L277.6 72.9L275.7 70.9L274.9 71.8L275.1 74ZM293.4 74.2L295.2 75.5L296.3 74L296.1 72.6L295.8 72.4L294.2 72.9ZM304.3 74L307.4 74.4L307.9 72L307.4 71.6L304.7 72ZM271.3 74.9L272.5 78.3L272.7 78.3L274.1 77.4L274.3 74.8L271.4 74.8ZM278.9 77.1L279 75.9L277.7 74.7L275.2 74.9L275.1 77.4L277.1 78.3ZM291.7 77.8L290.7 75.2L289.5 74.7L288.7 75.5L288.8 77.3L289.8 78.4ZM315.7 77L316.8 77.9L318.6 77.7L319 74.7L316.2 74.9L315.7 75.7ZM263.3 78.5L261.8 78.5L261.3 80.3L264.2 81.5L265 80.7L265.3 79.4ZM289.2 79L288.3 78.1L286.2 79.6L286.5 80.5L288.3 81.2L288.8 81.1ZM290.1 81.7L292.6 80.7L291.8 78.7L290.1 79.3L289.6 81.4ZM293.5 80.6L295.3 81.3L295.9 80.8L296 78.6L295.1 77.5L292.5 78.2ZM302.5 81.4L304.4 80.8L304.2 77.8L303.1 77.1L301.7 78.8L301.6 80.6ZM265.4 81.6L264.7 82.2L264.2 83.7L265.6 85.3L267.5 84.7L267 83.1ZM268.4 84.7L269.6 85.2L271.1 84.3L271.2 83.9L270.2 80.8L267.9 83ZM281.7 85L283.7 83.8L283.7 83.3L281.4 81.1L279.9 82.7L280.6 84.5ZM293.8 84.2L294.6 83.6L294.9 82.1L293.1 81.4L290.5 82.5L290.8 84ZM306.9 84L308.5 85.2L309.6 84.1L309.2 82L308 81.4L307 81.9ZM265.8 86.1L264.5 88.8L264.6 89L267.8 89L269.1 86.2L269.2 86L268 85.5ZM278 87.8L279.6 88.9L281.7 87.8L281.3 85.8L280.3 85.4L278.5 86.8ZM285.1 85.3L284.1 84.6L282.2 85.7L282.6 87.8L283.1 88.2L285.1 87.9ZM306.4 84.8L305 85.6L306.2 87.6L308 88.1L308.1 88L308.1 86ZM313 87.1L314.7 88.4L316.1 86.8L313.7 85.2L313.5 85.3ZM262.2 88.1L259.4 88.5L260 91.3L261.8 91.5L263.5 90.1L263.8 89.4L263.7 89.1ZM295.4 89.6L295.6 91.1L297.5 91.8L299.2 91.2L299.4 89.8L297.7 87.7ZM293.9 93L295.3 95.6L297.2 95.3L297.1 92.6L295.2 91.9ZM317 93.6L318.2 94.7L320 94.1L320 92.5L318.4 91.1L316.6 92.4ZM258.6 98.1L259.3 97.4L259.2 96.9L258 95.3L256.2 95.8L256.2 98.1ZM290.6 95.8L289.6 95.4L287.4 95.8L287.8 97.5L289.6 98.1L290.8 96.9ZM309.4 95.7L308.1 96.3L307.8 97.7L308.7 99L311.1 97.3L311 97ZM314.6 98.4L315.7 98.8L317.8 97.9L317.7 95.4L316.6 94.4L315.4 95.5ZM318.6 95.5L318.7 98L319.6 98.5L320 98.3L320 95ZM258.3 100.8L258.3 99L256.2 99L256.2 101.3ZM270 100.3L270.1 101.3L272.1 102.4L273.9 100.5L273.5 98.8L271.8 98.4ZM279.9 98.3L279 99.5L278.8 101L279.3 101.6L281.3 101.4L281.9 99.7ZM298.1 99.5L297.4 101.8L298.9 102.8L301.1 101.8L300.9 100.1L298.3 99.4ZM279.5 102.5L279 104.3L282 106L282.8 105.3L282.4 103.3L281.5 102.3ZM288 102.8L288.1 103.9L289.5 104.7L291.5 103.9L291.9 102.1L290.1 101.1ZM316.3 103.3L316 103.5L315.8 104.9L316.2 105.6L318.9 104.9L318.9 103.4ZM266.3 106.6L264.3 104.8L263 106L262.9 107.1L264.1 108.8L265.6 108.1ZM269.1 106.6L268.7 106.4L267.2 106.8L266.5 108.2L268.4 109.1L269 108.2ZM315.2 105.6L312.5 106.4L312.4 107L315.4 108.6L315.7 108.5L315.6 106.2ZM316.1 109.3L315.6 109.4L314.3 111.1L315.7 112.8L317.2 110.9L317.2 109.8ZM297.7 114.7L299.1 115.9L301 115.1L301.3 113.7L299.1 112.4L297.5 113.7ZM304.1 118.1L305.4 118.1L305.7 117.8L305.4 116.4L305.2 116.2L303 116.5L303.2 117.9ZM260.9 117.8L260.5 118.1L261.2 118.1Z"/>
<path fill="#62666b" d="M316 70.9L318.9 71.2L318.7 70.4L316.1 70.4ZM264.6 73.8L265.8 73.6L266.4 71.9L264.7 70.4L264.1 70.4L262.7 73.2ZM278.5 72.9L278.4 74.1L279.6 75.2L280.2 74.9L281.3 72.7L279.7 71.4ZM289.7 72.7L289.9 73.8L291.1 74.3L292.5 73.9L293.3 72.7L291.6 71.5ZM264 74.6L262.6 74.1L261.3 77L261.7 77.6L263.1 77.6ZM296.9 74.7L295.8 76.3L295.8 76.8L296.6 77.9L298.3 77.1L298.5 75.6ZM307.7 77.3L308.2 77.9L310.6 77L310.5 76.2L308.1 75.3ZM311.9 74.8L311.4 76L311.5 77L312.7 77.9L314.8 76.9L314.8 75.9ZM256.8 77.9L256.2 77.5L256.2 80.9L256.6 80.7ZM257.7 78.1L257.5 80.6L259.6 81.1L260.4 80.4L261 78.1L260.5 77.4L260.1 77.3ZM271.9 83.1L273.9 81.3L272.6 79.2L272.3 79.2L270.9 80.1ZM319.8 79.1L318.9 78.6L317.1 78.7L316.7 81.7L317.7 82.1L319.4 81.5ZM276.5 83.8L278.2 85.9L279.7 84.7L279 83L277.1 82.4ZM286.2 81.4L284.7 83.3L284.6 83.9L285.6 84.6L286.4 84.5L287.7 81.9ZM302.6 87.8L303.7 88.8L305.3 87.9L304.1 85.9L302.6 85.6ZM276.4 88.9L275.8 91.4L277.3 92L279.4 91.5L279.2 89.6L277.3 88.5ZM289.8 88.5L288 89.9L287.9 90.8L289 91.5L291.3 91.8L290.3 88.6ZM308.5 88.8L308.1 91.1L309.8 92.6L311.8 91.7L310.4 89L308.7 88.7ZM316.1 91.6L318.1 90.2L318.4 89.4L317 87.2L315.2 89.1L315.3 91.2ZM319.3 89.7L319 90.4L320 91.3L320 89.5ZM259.7 96.1L262.1 94.2L261.6 92.4L259.8 92.2L259.2 92.6L258.6 94.7ZM270.9 94.7L273.9 94.1L274.1 92.4L271.6 91.9L271.5 92ZM283 92.2L281.6 92.9L281.5 94.8L283.5 95.6L285.5 94.4L285.4 93.1ZM291.8 92.7L289.5 92.5L290.1 94.6L290.9 94.9L292.3 93.1ZM264.3 98.1L265.4 98.7L266.8 98.2L267.8 95.7L266.8 94.9L264.5 96ZM269.8 96L268.7 96L267.7 98.4L269.5 99.6L271 97.9ZM283.3 98.5L283.2 96.4L281.2 95.7L280.2 96.5L280.2 97.5L282.4 99ZM297.6 98.7L297.8 98.6L297.8 96.5L297.5 96.2L295.3 96.5L294.4 97.9ZM303.4 97.1L303.5 97.5L304.6 98.1L306.9 97.4L307.2 96.2L304.8 94.6ZM297.2 99.6L294.4 98.9L294 101.2L295.8 101.9L296.6 101.6ZM315.3 99.6L314 99.1L313.6 99.2L312.2 101.9L315.4 102.8L315.6 102.6ZM271.7 105.2L271.9 104.5L271.7 103.3L269.7 102.1L268.4 102.9L269.1 105.6L269.6 105.9ZM274.5 101.2L272.6 103.1L272.8 104.1L275.4 104.1L275.1 101.4ZM305.7 102L303.7 103.5L303.8 104L305.1 105.8L307.2 104.1L307.8 102.3ZM274.1 108.1L275.3 108.3L276.3 107.9L276.7 105.6L275.8 105L272.7 105L272.5 105.5ZM277.6 105.7L277.2 107.9L279.2 108.8L281.4 107.2L281.5 106.8L278.5 105ZM296.6 108.3L297 106.3L295.4 105.7L294.2 106.5L294 108.2L295 108.8ZM297.5 108.3L299.6 109.1L300.3 108.7L299.9 106.7L298.7 105.9L297.9 106.3ZM262.2 107.7L259.2 108.8L260.1 110.6L262.5 110.7L263.4 110.2L263.5 109.5ZM286.6 108.7L284.7 110.5L284.7 111.2L285.1 111.7L287.4 111L287.8 109.2ZM301.8 112.9L303.2 111.9L303.1 109.8L300.9 109.4L300 109.9L299.6 111.7ZM312 107.8L311 108.8L311.4 110.5L312 111.1L313.5 110.7L314.7 109.2ZM263.7 111.1L263 111.5L261.9 114.4L264.8 114.4L264.5 112ZM269.2 113.6L269.2 112.2L268.8 111.8L265.4 112.2L265.7 114.7L265.8 114.9L267.1 115.4ZM291 111.6L289.9 112.8L289.9 114L291.6 114.9L292.7 113.2ZM316.1 113.7L316.1 114.8L318.6 115.1L319.2 114.6L319.3 114L317.7 111.8ZM256.2 116.8L256.2 118.1L256.5 118.1ZM264.9 115.3L261.4 115.3L261.1 115.5L261.4 117L262 117.6L263.1 117.5ZM279.8 117.8L280.1 118.1L283.4 118.1L283.2 116.7L281.1 115.9L280 116.8ZM306.6 117.5L309.4 118.1L310 117.5L310.3 115.8L308.2 114.8L306.3 116.3Z"/>
<path fill="#4a4e53" d="M287.7 71.5L284.9 73L285.4 74.8L288.1 74.8L289 74L288.8 72.7ZM266.8 77.9L267.1 76.4L265.9 74.5L264.9 74.7L264 77.8L265.7 78.6ZM270 86.2L271.8 88.7L273.9 87.3L273.2 85.9L271.6 85.1L270.1 86ZM262.5 92.1L263.1 94.1L264.2 95.2L266.4 94.1L266.3 93.8L263.9 91ZM275.4 96.1L277.4 95.4L276.9 92.8L275.3 92.1L275 92.3L274.8 94.4ZM285.9 95.2L284.1 96.3L284.2 98.5L285.5 99L287 97.7L286.4 95.7ZM259.2 98.7L259.2 100.9L260.1 101.6L261.5 100.8L262 99.1L259.8 98.1ZM296.1 102.7L295.8 104.9L297.5 105.5L298.3 105L298.4 103.5L296.8 102.5ZM289.5 108L289.1 105.5L287.7 104.8L286.3 105.9L286.9 107.8L288.3 108.4ZM297.3 115.5L295.4 116.9L295.7 118.1L298.3 118.1L298.6 117.8L298.5 116.7Z"/>
</g>
<rect x="256.2" y="118.1" width="63.8" height="6.2" fill="#0b0b0b"/>
<text x="260.2" y="120.7" class="sb" textLength="37.8" lengthAdjust="spacingAndGlyphs">10.0kV 15.2mm x1.00k SE(M) 2/12/2013</text>
<text x="310.3" y="120.7" class="sb" textLength="5.7" lengthAdjust="spacingAndGlyphs">50&#956;m</text>
<g filter="url(#sb)">
<rect x="423.7" y="105.9" width="65.5" height="48.3" fill="#abafb4"/>
<path fill="#5c6065" d="M426.7 106.2L426.5 105.9L424.8 105.9L424.8 106.4L425.6 107.2ZM468.2 106.3L468.6 106.8L469.5 106L469.4 105.9L468.2 105.9ZM489.2 105.9L489.2 105.9L489.1 105.9ZM424 107.4L423.7 107.6L423.7 108.6L423.9 108.8L424.9 108.3ZM436.9 108.5L436.3 107.1L436.2 107L434.6 108L434.6 108.4L435.5 109.2ZM469.2 107.9L469.2 108.1L470.6 108.4L470.8 107.1L470.4 106.9ZM427.3 110.9L428.9 111.6L429.6 111.3L429.5 110.3L428.2 109.8L427.4 110.3ZM441.5 110.2L441.5 110.7L443.1 111.3L443.4 111.2L443.8 110.1L442.2 109.5ZM447 109.5L447.7 110.9L448.7 111.2L449.1 111L449.2 110.2L448.2 109.2ZM450.4 110.4L450.3 111.2L451.1 111.9L452.7 111.3L452.5 110L451.6 109.6ZM470.2 109.6L468.8 109.3L468.1 109.9L468.1 110L469.1 110.7ZM475.5 110.2L474.5 110.1L473.8 110.7L474.3 111.8L475.5 111.5ZM434.6 112.6L434.3 113.9L434.8 114.2L435.5 113.6L435.2 112.4ZM436.8 113.4L437.9 114L438.9 113.2L438.9 112.3L438.6 112.1L436.5 112.3ZM428.4 115L427 115.3L426.9 115.6L427.9 116.1L428.8 115.5L428.8 115.5ZM448 114.8L447.6 115.1L447.6 115.2L449.1 116.3L449.6 116L449.7 115.4ZM451 115.2L450.9 116.1L451.5 116.5L452.3 115.9L452.2 115.3L451.2 114.9ZM463.7 115.5L463.7 115.2L462.9 114L461.9 115.2L462.1 116.2ZM470.3 116L471.6 116.7L472.7 115.8L472.5 115.2L472 115.1L470.3 115.9ZM427.3 118.3L427.3 117.2L426.4 116.7L425.6 117.6ZM437.8 119.4L438.9 118.5L438.8 117.8L438.1 117.2L436.6 117.9L436.6 118.4ZM448 118.4L448.3 117.2L447.2 116.4L446.6 117.2L447 118.6ZM459 118.1L459 118L458.3 117.2L457.2 117.6L457.6 118.3L458.3 118.7ZM465.7 118.8L466.9 119.4L468.1 118.9L468 117.8L467.1 117.4L466 117.9ZM475.9 119.2L476.2 119L476.3 117.3L476.2 117.1L474.8 117.4L474.8 118.8ZM479.1 117.7L477.5 117.7L477.5 118.7L479 118.8L479.7 118.3L479.7 118ZM487.3 119.3L488.6 118.4L488.6 117.9L488 117.5L487 118.1L486.7 119ZM425.2 118.7L424.5 119.5L424.7 120.4L425.3 120.8L425.7 120.7L426.6 119.4ZM435.9 121.4L436 121.5L437 120.9L437.1 120.4L436.1 119.5L435.5 120.2ZM467.5 120.5L467.3 121.6L468.2 122.2L469.2 121.6L469 120.2L468.7 120ZM444.4 123.7L444.2 123.1L443.6 122.4L442.7 123.7ZM434.6 125.5L434 125.3L433.2 125.7L433.1 125.8L434 126.7L434.4 126.5ZM437.3 125.5L436.7 125.1L435.9 125.5L435.7 126.5L436.3 126.8L437.4 125.6ZM439.8 123.9L438.6 125.2L438.6 125.4L439.6 126.2L441 125.2L441 124.6ZM448.9 126.4L449.4 126.2L449.4 125.4L448.1 124.6L447.4 125.1L447.5 125.9ZM462.4 125L462.5 126.3L462.7 126.4L463.7 126.3L463.7 124.5L463.5 124.5ZM479.3 126L480.7 127L480.9 126.8L481 125.5L480.4 125.2L479.3 125.7ZM483 125L482.3 125.4L482.2 126.8L483.2 127.2L483.7 126.3L483.3 125.2ZM427.7 127.9L426.6 127.4L426 127.8L426 129.1L426.6 129.5L428.2 129.1ZM452.1 128.5L452.4 129.2L453.8 128.6L453.5 127.7L453.1 127.6L452.2 127.9ZM461.6 129.3L461.9 129.1L461.9 127.4L461.9 127.4L461.1 127.7L460.9 128.8ZM463.1 129.1L463.8 129.3L464.8 128.3L464.8 127.9L464.1 127.5L463.2 127.6ZM474.4 127.4L474.4 128.6L475.9 128.7L476.5 128.3L476.4 127.8L475.8 127.3ZM489.2 127.1L489.2 127L489.2 127ZM427.1 130.6L427.1 131.5L427.4 131.8L428.8 130.4L428.7 130.2ZM450.6 130.8L451.3 130.4L451.4 130.1L451.1 129.4L450.2 129.8L450.6 130.8ZM463.5 131L463.4 130.5L462.5 130.2L462.2 130.4L462.1 131.1L462.9 131.3ZM440.1 132.8L439.6 134.1L441 134.8L441.4 133.7L441.1 132.9L440.9 132.7ZM447.2 133.9L447.7 133.5L447.8 132.5L447.3 131.9L445.8 132.5L445.8 133.5ZM465.2 132.8L464.1 132L463.6 132.3L463.7 133.7L464.4 133.8L465.2 133.2ZM444.9 136.5L445.4 137L446.8 136.5L446.7 135L445.5 134.7ZM455.1 135.3L455.2 134.9L453.9 133.9L453.5 134.2L453.7 135.9L453.8 135.9ZM468.4 136.4L469.7 136.1L469.6 134.6L469.2 134.4L468 135L468.2 136.2ZM464.6 139.2L464.7 139.1L464.3 137.8L462.8 138.1L462.8 139ZM465.8 138.6L467.3 138.8L467.6 137.4L467.4 137.2L465.5 137.5ZM445 139.4L444.3 139.9L444.3 141.2L444.8 141.4L446.1 140.7ZM451.1 141.8L452.5 141.3L452.4 140.2L452 140.1L451.2 140.6L451 141.8ZM436.9 143.9L437.8 144.2L438.9 143.3L438.9 142.4L438.3 141.8L437.2 142.4ZM455.7 143.6L455.9 143.5L456.6 142.2L456 141.8L455.2 143.3ZM434.3 146.9L434.9 146.3L434.9 145.2L433.3 145.9ZM448 146.2L448.1 146.2L449.7 145.9L449.8 145.5L448.5 144.5L447.8 145.2ZM450.8 146.4L451.3 147.2L452.6 146.9L452.3 145.3L452.2 145.3L451 145.7ZM456.5 146.4L456.5 146.5L457.6 145.8L457.4 145.2L456.4 144.7ZM476.6 146.1L477.2 146.5L478 145.6L478.1 145.2L477.1 144.6ZM482.6 145.5L482.5 146.9L482.8 147.2L485 146.9L484 145.3L482.8 145.2ZM446.1 147.9L446.7 149L446.9 149.2L447.6 148.9L447.3 147.3ZM448.8 148.7L450.3 148.1L450.3 148L449.8 147.1L448.6 147.4ZM460.5 147.5L460.1 148.9L460.2 149.1L461.2 149.7L462.6 148.9L462.5 148.6L461 147.3ZM465.8 148.3L465.6 147.7L464.9 147.5L463.8 148.5L463.8 148.9L463.9 149ZM478.6 146.8L478 147.5L478.1 148.4L478.8 148.8L479.1 148.6L479.6 147.8ZM427.9 150L427.6 150.2L427 151.2L428.8 151.6L429.1 151.4ZM464.9 150.6L465.9 151.2L466.6 149.5L466.4 149.3L464.6 150ZM479.6 149.8L479.6 149.8L479.8 151.3L480.5 151.7L481.1 151.3L481.6 150.4ZM437.6 152.1L437.9 153.3L438.5 153.6L439.1 153.5L439.2 153L437.9 151.9ZM444.3 152.5L443.5 152.1L443 152.3L442.9 153.8L443.8 154.2L444.4 154.2ZM447.5 153.3L446.1 152.1L445.6 152.5L445.7 154L446.3 154.2L446.6 154.2L447.5 153.4ZM463.5 153.9L464.1 154.1L464.7 153.7L465.2 152.2L464.4 151.8L463 152.9ZM482.9 153.6L482.9 153L481.6 152.5L481.2 152.7L481.4 153.8Z"/>
<path fill="#4a4e53" d="M428.6 106.1L429.1 105.9L429.2 105.9L428.1 105.9ZM432.5 106.1L432.4 105.9L430.5 105.9L430.3 106.3L430.7 106.7ZM426.9 109.1L427.6 108.7L427.9 107.2L427.6 107.1L426.2 108.4ZM438.9 107.8L439.1 107.2L438.4 106.4L437.6 106.9L438.1 108.1ZM464.3 107L463.1 107.3L463.6 108.6L464 108.9L465 108.2L465 108.1ZM477 108.6L476.8 107.6L475.3 106.8L474.7 107L474.9 108.9L476 109ZM487.4 108.5L488.2 108.3L488.5 106.9L487.8 106.5L486.9 108.2ZM424.4 109.9L424.3 110.5L426 111.1L426.1 111L426.1 110.1L425.5 109.4ZM454.9 110.8L454.9 109.8L454.3 109.4L453.7 109.8L454 111.1ZM463.5 111.4L463.5 110L463.1 109.8L462.1 110.3L462 111.4L462.9 111.9ZM466.8 110L465.7 109.3L464.7 109.9L464.7 111.2L465.8 111.4L466.9 110.1ZM469.9 111.7L470.7 111.9L471.9 110.6L471.3 110.2L469.9 111.7ZM488.7 109.5L488 109.6L488.1 110.8L489.2 111.7L489.2 111.7L489.2 109.8ZM425 113L425.3 112.2L423.7 111.7L423.7 113.3ZM449.3 112.3L448.7 113.7L450.2 114.2L450.4 114L450.4 112.9L449.5 112.2ZM451.6 113L451.7 113.7L452.7 114.2L453.5 113.5L453.1 112.5ZM456.1 113.5L456.5 112.3L455.6 111.9L454.4 112.2L454.8 113.3L455.7 113.7ZM461.2 112.4L460.3 112.5L460.3 114L461 114.3L462.2 112.9ZM467.6 111.2L466.7 112.2L467.2 113.2L468.2 113.2L468.7 112.2L468.6 111.9ZM476 112.7L474.5 113.1L474.4 113.5L476.5 113.7L476.5 113.2ZM481.7 113.6L482.2 113.5L482.4 112.1L482 111.6L481 112.2L481.2 113.2ZM425.2 114.3L423.7 114.6L423.8 115.5L424.9 116.5L425.7 115.7L425.8 115ZM459.7 115.1L459.1 115.5L459.1 116.2L459.8 117L460.9 116.4L460.7 115.5ZM467.6 116.3L468.4 116.6L469 116L469.1 115.6L468.3 114.4L467.2 114.5ZM487.3 116.5L487.1 115L485.6 114.8L485.1 115.1L485.1 115.3L486.6 116.9ZM424.4 117.7L424.3 117.6L423.7 117.1L423.7 118.5ZM460.3 118.2L460.3 118.2L461.2 119.1L462.3 118.6L461.7 117.4ZM473.6 118.8L473.6 117.1L473.3 116.9L472.3 117.7L472.3 118.7L473.1 119.1ZM426.9 121.2L427.7 121.8L428.9 121L428.8 120.2L427.8 119.8ZM447.6 121.3L448.3 121.9L448.9 121.4L449 120.2L448.3 119.6L447.3 119.8ZM464.7 120L464.5 120.7L465.8 121.7L466.1 121.5L466.2 120.4L465 119.8ZM472.3 120.9L472.4 120.1L471.6 119.8L470.3 120.2L470.5 121.5L471.4 122.1ZM476.8 120.8L478.2 121.6L478.3 121.5L478.5 120L477 119.9L476.7 120.2ZM426.9 122.8L425.9 122L425.8 122L425.8 123.4L426.7 123.7ZM432.8 124.5L433.3 124.2L433.3 123L432.5 122.8L431.9 123.1ZM454.3 122.5L454.3 122.9L455.5 124L456.1 123.8L456.2 122.1L455.7 122ZM457.3 124L458.2 124.5L459.5 123.3L459.4 122.9L458 121.9L457.4 122.1ZM475.7 123.3L476.2 123.6L477.2 123.5L477.5 122.6L476.3 122L475.8 122.7ZM481 124.1L481.6 124.4L482.5 123.9L482.5 122.7L482 122.3L480.9 122.8ZM426.3 124.9L425.2 124.5L424.4 124.8L424.2 126.2L425.3 126.7L426 126.3ZM427.3 126.3L428.1 126.7L429.2 125.8L429.1 125.4L427.5 125.1ZM450.6 125.3L450.7 126.1L451.7 126.8L452.3 126.5L451.9 124.8L451.4 124.8ZM459 125.8L460.5 126.6L461.3 126.3L461.1 124.9L460.2 124.3L459 125.6ZM464.9 124.6L464.9 126.6L465.3 126.8L466.8 125.7L466.8 125.6L465.2 124.5ZM471.1 124.7L470.9 125.9L471.4 126.2L472.6 125.8L472.6 124.6L471.7 123.8ZM430.3 128.1L430.3 127L430 126.8L428.9 127.6L429.4 128.7ZM444.3 129.7L445.5 128.6L445.4 128.1L443.9 127.8L443.2 129ZM449.5 127.5L449.3 128.7L449.4 128.8L450.9 128.1L450.9 127.8L450 127.2ZM481.2 128.1L481.1 128.5L481.5 129.1L483 128.5L483 128.5L481.6 127.9ZM484.7 126.9L484.1 128L484.3 128.5L484.6 128.7L485.9 128L486.2 127ZM443.9 131L443.9 130.8L442.5 130.1L441.9 131.8ZM478.2 130.6L478.1 130.1L477.1 129.4L476.7 129.7L476.6 130.7L477.1 131.1ZM485 129.9L485.1 130.8L485.9 131.5L487.1 130.8L487.1 129.8L486.4 129.2ZM423.8 132.9L423.7 132.6L423.7 133.4ZM433.4 132.7L432.5 131.9L431.2 132.4L431.1 133L433.4 133.7L433.5 133.7ZM454.7 132.3L454.6 132.9L455.9 133.9L456.8 133.5L456.9 132.5L455 132ZM458.1 133.5L458.4 133.7L460 133.2L459.9 132.7L458.5 132L458.2 132.3ZM469.6 133.2L470.1 133.5L470.7 133L469.7 132L469.2 132.2ZM479 133.2L478.9 131.9L478.7 131.7L477.7 132.2L477.6 133ZM424.5 134.5L424.5 134.5L424.9 135.3L425.7 135.7L425.9 135.6L426.5 134.7ZM433.9 134.9L433 136.1L433.6 136.9L434.3 136.5L433.9 134.9ZM435.6 136.3L436.2 136.6L437.1 135.5L437.2 135.1L436.4 134.5L435.1 134.7ZM443.7 136L444.3 134.5L442.5 134.3L442 135.7L442.1 136.2ZM462.3 136.9L464.2 136.6L464 135L463.1 134.8L462.1 135.2L461.8 136.5ZM426.3 136.8L426.2 136.9L426.2 138.6L426.3 138.6L426.8 138.5L427.3 137.4ZM442.6 138.1L443.7 138.8L444.5 138.2L444.6 137.9L443.9 137.3L442.4 137.4ZM476.9 138.9L476.6 137.4L476.5 137.4L475.5 138.1L475.4 138.5L476 139.7ZM482.6 138.5L482.7 138.3L481.6 136.7L480.7 137.9L480.9 138.5L481.5 138.8ZM485.9 137.6L485.3 137.3L483.9 138.5L483.8 138.9L484.1 139.1L486.1 138.6ZM439 140.7L439.7 141.4L441 141.1L440.9 140.3L439 140.1ZM435.5 143.9L435.7 143.9L435.9 142.4L435.3 142L434.4 142.5L435.3 143.9ZM441.9 143.2L442 142.4L441.7 142.3L440.2 142.6L440.1 143.3L440.8 143.8ZM445.5 142.4L445.9 144.1L447 144.3L447.9 143.4L447.9 143.2L446.8 141.8ZM463.8 144L464.9 143.1L465 142.7L464.7 142.3L463.1 142.3L463.1 144ZM466.2 142.9L466.2 143.1L467.3 143.9L468.6 143.5L468.7 143.3L467.6 142.2ZM473.2 141.8L472.9 142.7L473.2 143.5L473.5 143.6L474 143.3L474 141.8ZM481.8 143L481.1 142.6L480.5 142.8L480.3 144.1L481.8 144.5L482 144.3ZM484.1 144L484.9 143.2L485 142.7L484.1 142L483 142.9L483.2 144ZM424.2 145.1L424.1 145.1L424 146.2L424.8 146.9L426.4 146.2L426.5 145.7ZM431.7 145.5L431.2 144.6L430.2 145.3L430.8 146.2ZM440.4 145.8L440.2 144.9L439.5 144.4L438.7 145.1L439.1 146.4ZM458.7 145L458.8 145.7L460 146.4L460.5 146.1L460.9 145.1L459.7 144.1ZM461.8 146.3L463.1 147.4L464 146.6L463.5 145.3L462.5 145.2L462.1 145.3ZM465.3 146.3L465.9 146.5L466.5 145.9L466.5 144.9L465.6 144.2L464.7 144.9ZM467.8 145.1L467.7 145.7L469.6 146.4L469.6 145.6L468.9 144.7ZM428.9 148.6L428.8 149.1L429.7 150.1L430.8 148.5L430.4 147.8ZM443.5 148.1L443.9 149L445.2 148.9L444.8 148.2L443.6 147.7ZM476.9 148.5L476.7 147.7L475.7 147.1L474.7 147.3L474.7 148.4L475.8 148.9ZM426.3 150L425 149.5L424.2 150.6L424.2 150.6L425.6 151.2ZM433.9 149.8L433.4 151.5L434 151.8L435.3 151.3L434.6 149.6L434.4 149.5ZM441.1 149.9L441.6 150.9L442.4 151.2L442.9 151L442.9 149.7L442.6 149ZM449.5 149.8L450.1 150.9L451.2 151.3L451.6 151L450.5 149.4ZM460.1 152.2L460.7 151.9L460.6 150.8L459.9 150.4L458.9 151.9ZM467.2 151.4L468.4 152L469.6 151.3L469.6 151.1L467.8 150ZM472.6 150L471.7 149.9L470.8 151L470.9 151.3L471.6 151.9L472.6 151.7ZM477.6 151.9L478.5 151.4L478.3 149.9L477.5 149.5L476.4 150L476.4 151.2ZM482.4 151.5L483.5 151.9L484.5 151.3L484.4 151L482.9 150.6ZM487.4 151L487.6 150.5L485.8 150L485.5 150.5L485.7 151.1ZM488.6 151.5L489.1 152.4L489.2 152.4L489.2 150.2L489.1 150.2L489 150.4ZM435.1 154.2L435.5 154.2L436.6 153.5L436.4 152.4L436.1 152.3L434.7 152.9ZM453.5 153.3L452.5 151.9L451.8 152.3L451.6 153.6L452.3 154.2L452.6 154.2ZM456.9 152.7L455.6 153.6L455.8 154L457.2 154.1L457.1 152.8ZM484.2 153L484.1 153.9L484.4 154.2L485.1 154.2L485.1 154.2L484.9 152.6ZM486.1 152.3L486.4 153.9L486.7 153.9L487.9 152.9L487.5 152.2ZM488.3 154.2L488.9 154.2L488.7 153.8Z"/>
<path fill="#505459" d="M435.4 106.1L435.3 105.9L433.7 105.9L433.8 106.3L434.2 106.8ZM436.8 105.9L436.7 105.9L436.7 105.9ZM440 106.4L440.9 106.1L440.8 105.9L439.6 105.9ZM448.5 106.4L448.9 106L448.9 105.9L447.4 105.9L447.5 106ZM466.9 105.9L465.4 105.9L465.3 106.2L465.8 107L466.9 106.2ZM482.6 106.8L483.2 105.9L481.9 105.9L481.5 106.5ZM486.7 105.9L484.9 105.9L486 107.2ZM429.8 109L430.2 108.5L429.9 107.7L429.4 107.2L429.2 107.2L428.9 108.7ZM440.3 107.6L440.1 108.2L440.9 109L441.4 108.6L441.5 107.3ZM455.6 108.8L456.5 108.6L455.7 107.3L455.2 107.7L455.1 108.4ZM467.4 108.9L468 108.3L468 107.9L467.5 107.4L466.3 108.2ZM485.3 108.3L484.1 106.8L483.6 107.6L484 108.7L484.5 108.8ZM439.6 111.2L440.2 110.8L440.3 110.1L439.2 109L438.7 109.2L439.2 111ZM459.7 109L459.1 109.6L459.1 110.9L459.8 111.3L460.8 111.2L460.9 110.2ZM485.6 111.1L486.9 110.7L486.7 109.5L486.2 109.2L485.4 109.8ZM430.3 112.3L429.5 112.7L429.3 114.2L429.5 114.4L431 113.6L430.8 112.5ZM432.1 112.4L432.3 113.6L432.4 113.7L433.1 113.6L433.3 112.6L432.1 112.4ZM443.7 114.6L444.9 113.7L444.8 113.1L443.8 112.4L443.5 112.5L443.2 113.7ZM447.4 112.1L446 113L446.2 113.5L446.9 114L447.4 113.7L447.9 112.2ZM469.3 113.7L470 114.6L471.1 114.2L470.5 113.1L469.7 113ZM431.6 116L431.6 114.7L430.1 115.6L430.1 115.6L431 116.6ZM441.8 116.2L442.7 116.3L442.7 116.3L442.8 115.6L442.2 114.5L441.5 114.7ZM455.1 114.8L454.3 114.5L453.5 115.1L453.6 115.7L454.8 116.3ZM477.1 116.3L477.2 116.5L478.5 116.4L478.1 115.1L477.4 115ZM483.3 116.4L483.8 115.4L483.8 115.2L482.7 114.7L482 114.8L481.7 116.4ZM434.6 119.3L435.4 118.4L435.4 117.9L434.9 117.6L433.8 119ZM441.3 117.4L440.1 117.9L440.1 118.6L440.7 119.3L442.4 118.3L442.3 117.5ZM449.8 119.2L451.3 118.8L451 117.7L450.1 117.1L449.6 117.4L449.2 118.8ZM453.9 118L454.2 117.4L453.1 116.8L452.2 117.5L452.5 118.6ZM440.1 120.8L440 120.4L439.4 119.7L438.3 120.5L438.2 121L439.5 121.7ZM443.5 120.2L442.9 119.5L441.3 120.4L441.3 120.4L443.2 121.1ZM456.8 121L457.5 120.7L457.7 119.8L457.2 119.5L456.1 120.1L456.2 120.8ZM475 121.6L475.5 121L475.4 120.4L474.2 119.9L473.7 120.2L473.6 120.8ZM480.3 119.4L479.8 119.8L479.6 121.5L480.2 121.8L481.4 121.2L481.3 120.2ZM424.6 123.4L424.6 121.8L424.2 121.6L423.7 122.2L423.7 123.3L424 123.6ZM428 123.9L429.3 124.2L430.3 122.9L429.5 122.1L428.2 122.9ZM445.5 123.1L445.7 123.6L446.7 124.1L447.5 123.5L447.6 122.9L446.9 122.4ZM448.8 123.5L449.9 124.3L450.5 123.9L450.2 122.8L449.6 122.5L448.9 123ZM470.6 123.1L469.9 122.6L468.8 123.3L468.8 123.6L470.2 123.8ZM472.4 122.8L473.4 123.6L474.5 123.1L474.5 122.8L473.1 122ZM488.5 122.8L488.2 122.7L486.6 123.2L486.6 123.9L486.9 124.1ZM453.5 126.4L453.8 126.4L454.2 126.2L454.6 124.9L453.7 124L453.1 124.5ZM473.8 126L474 126.2L475.3 126.1L475.4 124.6L474.9 124.3L473.9 124.7ZM476.6 126.4L477.1 126.7L478 126L478.1 125.4L477.5 124.7L476.6 124.8ZM485.8 124.8L484.6 125.2L484.8 125.7L486.3 125.8L486.2 125.2ZM424.7 129L424.7 127.8L423.7 127.3L423.7 129.5L423.8 129.6ZM439.1 128L439 127.3L438.2 126.6L437.1 127.7L437.3 128.7L438.2 128.8ZM456.8 128.4L456.9 127.7L454.8 127.2L454.7 127.3L455.2 128.6L455.3 128.7ZM468.2 128.6L468.2 127.1L467.5 126.7L466 127.8L466.1 128.2L467.3 129.2ZM424.8 131.9L425.9 131.4L425.8 130.5L425.3 130.1L424.2 130.8ZM466.6 130.3L465.5 129.4L464.6 130.2L464.7 130.9L465.9 131.7L466.6 131.1ZM469.4 130.8L469.8 130L468.9 129.6L467.9 130.3L467.9 131L468.4 131.2ZM429.3 133.7L429.8 133.2L430 132.1L429.5 131.5L428.1 132.8L428.3 133.4ZM442.5 132.9L442.5 133.1L444.5 133.2L444.6 132.2L444.5 132.1ZM449 133.5L450.2 133.9L450.6 133.6L450.2 132L449.1 132.6ZM461.7 134L462.4 133.7L462.4 132.5L461.6 132.2L461.2 132.6L461.2 133.4ZM467.4 132.1L466.5 132.9L466.4 133.2L467.3 133.9L468.3 133.4L467.9 132.3ZM473.7 132.7L473.2 132.5L472.5 133.1L473.4 134.5L474.5 134ZM458.1 135.9L457.7 134.8L457.4 134.6L456.4 135.1L456.4 135.6L457.2 136.7ZM460.9 134.9L460.4 134.4L459 134.8L459.3 135.6L460.7 135.9ZM471 136.2L471.3 136.4L472.1 136.1L472.5 135.4L471.5 133.9L470.9 134.5ZM487.7 134.9L486.3 134.2L485.5 135.2L485.7 136.1L486.4 136.5L487.5 135.8ZM428.6 137.7L428 138.8L429.2 139.6L430 138.6L429.5 137.3ZM438.3 138.8L439.1 137.6L437.8 136.7L437.1 137.5L437.2 138.1ZM440.4 138L439.7 139L441 139.1L441.4 138.4L441.2 137.6ZM450.6 139.6L451.1 139.2L450.5 137.5L449 138L449 139ZM455.1 138.9L456.4 138L456.4 137.8L455.5 136.5L454.5 137L454.6 138.8ZM479.6 138.7L479.5 138.2L478 137.3L477.8 137.4L478.1 138.6L479.1 139.1ZM448.7 142.2L449.8 141.7L449.9 140.7L448.5 140.1L447.7 140.9ZM454.3 142.3L455 140.9L454.8 140.1L454.1 140L453.7 140.1L453.7 141.5ZM465.6 141.5L465.8 141.7L467.2 141L467.4 140.1L465.6 139.9L465.5 140ZM483.4 140.9L483.3 140.1L482.9 139.7L482 139.9L481.9 141.6L482.3 141.9ZM423.7 141.9L423.7 143.9L424.4 142.4ZM427.4 143.2L426 142.6L425.6 142.7L425 144L426.9 144.5L427.3 144.1ZM444.3 142.6L443.6 142.4L443.3 142.5L443.1 143.5L443.9 144.9L444.7 144.3ZM449.1 143.4L450.6 144.5L451.2 144.3L450.6 143L450.3 142.8L449.1 143.4ZM461.7 144.1L461.8 144.1L461.9 142.2L460.4 143.1ZM428.9 145.6L428 145.2L427.7 145.5L427.7 146.4L428.5 147.4L429.6 146.8ZM442.9 146.3L443.1 145.8L442.2 144.4L441.4 144.8L441.6 145.8ZM453.6 145.1L453.8 146.3L455.2 146.1L455.1 144.7L454.4 144.4ZM486.7 146.3L487 145.3L485.5 144.3L485.2 144.7L486.2 146.4ZM488.7 147.1L489.2 146.8L489.2 144.8L489 144.7L488.3 145.4L487.9 146.6ZM424.1 148.5L424 148L423.7 147.6L423.7 149.1ZM427.7 148.3L426.9 147.4L425.3 148.1L425.3 148.3L427.2 149L427.6 148.8ZM432 148.1L433.3 148.7L433.7 148.4L433.7 148.1L432.3 146.6L431.5 147.2ZM483.3 149.4L484.5 149.8L484.8 149.1L484.9 148.2L483.2 148.4ZM431.7 149.3L430.4 151.3L430.5 151.4L431 151.8L432.2 151.4L432.6 149.7ZM435.9 149.6L436.5 151.1L436.7 151.2L437.4 150.7L437.4 150.5L436.5 149.5ZM456.1 151.8L455.4 150.3L454.5 150.3L453.5 151.2L454.6 152.7ZM429.2 152.8L428.2 153.8L428.9 154.2L429.9 154.2L430.2 154L430.2 152.7L429.8 152.5ZM431.5 152.9L431.4 154L431.7 154.2L433.8 154.2L433.4 152.9L432.6 152.5ZM474.7 153L474.7 153.1L476.4 154L476.6 153.8L476.8 152.9L475.8 152.3Z"/>
<path fill="#565a5f" d="M442.5 105.9L442.2 105.9L442.2 106ZM445.4 107.3L446.2 106.3L446.2 105.9L444.9 105.9L444.6 106.1ZM460.2 106.4L460.9 106.1L460.9 105.9L459.7 105.9ZM433.4 107.9L433 107.3L431.2 107.8L431.3 108.1L433 108.4L433.4 108.2ZM446.1 108.4L447.8 108L447.9 107.6L447.1 107.2L446 108.4ZM458 108.4L458.3 108.6L459.1 107.8L459.3 107.3L458.7 106.6L456.8 106.6ZM472.9 109.8L473.7 109.2L473.4 107L472.9 106.8L472.1 107.1L471.8 109ZM482.7 109L482.4 108L481.3 107.7L481 108.3L482.5 109.1ZM434.8 110.3L433.9 109.4L433.6 109.5L432.9 111.3L434 111.5L434.9 111.2ZM437.9 110.9L437.5 109.6L436.1 110.3L436.2 111.1ZM458.5 114.4L459.1 114.1L459.1 112.3L458.5 112L457.8 112.4L457.4 113.7ZM471.7 112.6L472.4 113.9L472.8 114L473.1 113.7L473.3 112.7L472.7 111.5ZM477.7 113.8L478.5 113.9L479.9 113.2L479.7 112.2L479.3 111.9L477.7 113.2ZM483.6 112.4L483.5 113.7L484.4 114L484.8 113.8L484.7 112.2ZM487.4 111.8L486 112.3L486 113.6L487.5 113.8L488.3 113.2L488.5 112.7ZM434 115.9L434.1 115.2L433.5 114.8L432.8 114.9L432.8 115.7ZM436 116.8L437.5 116.1L437.4 115.2L436.3 114.6L435.4 115.3L435.2 116.4ZM439.5 114.2L438.7 115L438.7 116.2L439.6 116.8L440.5 116.4L440.2 114.6ZM456 116.5L456.3 116.6L457.8 116L457.8 115.5L456.6 114.7L456.3 114.9ZM464.9 115.8L465.6 116.7L466.4 116.4L466.1 115.1L464.9 115.6ZM488.8 114.4L488.4 114.7L488.6 116.4L489.2 116.8L489.2 116.7L489.2 114.6ZM429.4 116.7L428.6 117.2L428.5 118.7L429.3 119L430.3 118.1L430.3 117.7ZM443.7 118.4L444.5 119.4L445.8 118.9L445.4 117.7L443.6 117.3ZM455.1 118.4L455.6 119L456.3 118.6L455.9 117.8L455.5 117.6ZM469.4 118.9L469.6 119.1L471 118.7L471 117.8L469.7 117.1L469.2 117.6ZM480.9 118.3L481.9 119.1L483.2 118.4L483.1 117.6L481.2 117.6L480.9 117.9ZM433.2 121.7L433.9 121.8L434.6 121.5L434.3 120.5L433.4 120.2ZM446.1 120.2L444.7 120.6L444.4 121.5L444.9 122L446.3 121.3ZM450.2 121.4L450.7 121.7L452.1 121L451.8 120L450.2 120.4ZM454.8 120.1L454.2 119.3L453.1 119.7L453.4 121L453.9 121.4L455 120.9ZM462.8 121L463.3 120.6L463.4 119.8L463.1 119.6L461.7 120.3L461.7 121ZM482.5 120.2L482.7 121.2L483.3 121.7L484.3 121.4L484.8 119.8L484 119.4ZM439.1 122.9L437.5 122L436.8 122.4L437.2 124L437.7 124.3ZM485.4 123.7L485.3 123L484.7 122.6L483.8 122.9L483.7 124L483.9 124.2ZM445.6 126.9L446.2 126.2L446.2 125.2L445.3 124.8L444.3 126.6ZM468.4 124.8L468 125.4L468 125.5L468.9 126L469.7 125.8L469.8 125ZM488.3 126L489.2 125.6L489.2 124.5L488.9 124L487.5 125.2L487.5 126ZM433.2 127.7L432.3 126.7L431.6 127L431.6 128L433 128.6ZM435.9 128L435 127.6L434.4 127.9L434.3 128.6L435.9 129.2L436.1 129ZM447.5 128.9L448.1 128.7L448.2 127.5L447.1 127.1L446.6 127.8L446.8 128.4ZM473 127L472 127.3L471.9 129.1L472.6 129.5L473.2 128.9L473.2 127.1ZM433.4 131L434 131.6L435.4 130.6L435.4 130.3L433.7 129.8ZM437 129.9L436.6 130.2L436.6 130.7L437.2 131.5L438.2 131.2L438 130ZM439.8 129L439.2 129.6L439.6 131.3L439.9 131.5L440.7 131.5L441.3 129.8ZM448 130.9L448.6 131.5L449.4 131.1L448.9 129.9L448.6 129.8L448.1 130ZM475.4 129.9L474 129.8L473.5 130.4L473.7 131.3L474.1 131.5L475.3 130.7ZM479.7 130.9L480.7 130.6L480.7 130L480.2 129.5L479.4 130.1L479.4 130.6ZM488.3 130L488.3 130.7L489.2 130.9L489.2 129.6L489.1 129.6ZM451.8 133.3L452.6 133.3L453.4 132.8L453.4 132.4L451.9 131.5L451.5 131.8ZM481.4 133.9L482.1 132.1L481.3 131.7L480.2 132.1L480.2 133.5ZM484.6 134.4L485.4 133.2L485.3 132.6L484.4 131.9L483.4 132.3L482.7 134.1ZM487.8 131.8L486.6 132.6L486.6 133L488.4 133.9L488.9 133.6L489.2 132.2ZM440.8 136.1L438.7 135.1L438.4 135.3L438.4 135.5L440.1 136.8L440.9 136.4ZM449.9 136.4L449.8 135.1L448.4 134.6L447.9 134.9L448.1 136.6L448.5 136.9ZM452.4 135.8L452.3 134.5L451.5 134.5L451 134.9L451.1 136.3ZM481 135.4L481 135.1L479.9 134.8L479 136.4L479.9 137ZM483.5 137.2L484.5 136.3L484.3 135.6L482.2 135.3L482.2 135.4ZM461.6 139.4L461.5 137.9L461.2 137.6L459.4 139.5L459.5 139.6L461.6 139.5ZM474.2 138.2L472.5 137.3L471.9 137.5L472.1 139.1L472.2 139.1L474.2 138.2ZM424.6 139.7L424.3 140.8L425.3 141.5L425.4 141.5L425.5 139.6L425.5 139.6ZM457.5 141.2L458.3 141L458.4 140.3L458.2 139.8L457 139.1L456 139.8L456.2 140.5ZM462.8 141L462.8 141L464.3 141.1L464.3 140.4L462.6 140.3ZM477.3 141.3L478.3 140.9L478.5 140.1L477.7 139.8L476.8 140.6ZM486.4 141.4L486.7 139.8L486.7 139.8L484.6 140.3L484.7 140.8L485.8 141.7ZM487.7 141.5L488.5 142L489.2 141.3L489.2 140.1L488.9 139.9L487.9 140.1ZM430.9 143.4L430.9 143.1L429.5 142.5L428.6 143.1L428.5 144L429.2 144.4ZM452.5 144.1L452.7 144.1L453.6 143.5L452.9 142.5L451.9 142.9ZM475.2 141.6L475.2 143.1L476.3 143.2L476.5 142.2L475.7 141.3ZM477.5 143.4L478.8 144.2L479 144.1L479.3 142.5L478.7 142.1L477.7 142.5ZM436.2 146.1L437.4 146.8L437.8 146.6L437.5 145.4L436.2 145L436.2 145ZM473.1 146L472.9 144.7L472.8 144.6L470.9 145.7L470.9 146.2ZM475.3 145.9L475.8 144.4L474.8 144.3L474.2 144.6L474.4 146.1ZM435.7 147.3L435 148.1L435 148.4L435.2 148.5L436.3 148.2L436.5 147.8ZM437.5 148.7L438.3 149.7L439.1 149.3L438.5 147.6L437.9 148ZM452.7 150.4L453.4 149.5L452.8 148.1L451.5 148.5L451.4 148.5ZM468.8 149.1L470.1 149.9L470.7 149.2L470 147.7ZM423.7 151.8L423.7 151.8L423.7 154.2L424.6 154.2L425.5 154.1L425.5 154.1L425.1 152.3ZM426.6 153.5L427 153.4L427.6 152.6L426.4 152.3ZM469.1 153L469.2 154.2L469.3 154.2L470.5 154.2L470.8 152.8L470.2 152.4Z"/>
<path fill="#44484d" d="M451.4 106.1L451.6 105.9L450.9 105.9ZM462.1 106.2L462.3 106.3L463.7 105.9L462.2 105.9ZM474 105.9L474.1 105.9L474 105.9ZM477.2 106.4L477.6 105.9L476.2 105.9ZM443.6 106.9L442.7 107.1L442.7 108.4L444.4 109L444.7 108.7L444.7 108.6ZM449.2 107.5L449 108.3L450 109.2L450.9 108.6L450.8 107.2L449.8 106.8ZM460.4 108L461.7 109.2L462.3 108.8L461.7 107.4L461.4 107.3L460.5 107.6ZM432.2 109.5L431.1 109.4L430.7 110L430.9 111.2L431.3 111.3L431.5 111.3ZM457.8 110.9L457.8 109.7L457.5 109.6L456.2 110L456.2 110.8L457.3 111.3ZM480.3 111.1L481.7 110.3L481.8 110.1L480.2 109.3L479.5 109.8L479.8 110.7ZM426.8 112.1L426.7 112.1L426.2 113.5L426.7 114.1L428.1 113.8L428.2 112.7ZM442 113.3L442.3 112.3L440.9 111.8L440.2 112.3L440.1 113.1L440.9 113.6ZM464.7 114.3L466.1 113.8L465.6 112.7L464.3 112.4L463.6 112.9ZM444 116.1L445.6 116.4L446.4 115.3L446.4 115.1L445.7 114.7L444.1 115.9ZM431.5 118L432.6 118.5L433.7 117.1L432.4 116.9L431.5 117.7ZM463 117.2L463.6 118.5L464.2 118.8L464.5 118.7L464.8 117.6L464 116.7ZM430.1 120L430.2 121L431.2 122L431.9 121.7L432.2 119.7L431 119.1ZM460 121.7L460.5 121.3L460.5 120.1L459.6 119.3L458.9 119.8L458.7 120.9ZM485.5 121.6L486.1 122L487.4 121.6L486.8 120.5L486 120.1ZM489.1 121.6L489.2 121.4L489.2 119.5L488.1 120.2L488.8 121.5L489.1 121.7ZM435.6 122.6L435.4 122.6L434.5 122.9L434.6 124.1L435.3 124.4L435.9 124.1ZM452.3 123.6L453.1 122.9L453.1 122.4L452.8 122.1L451.4 122.7L451.7 123.5ZM463.9 121.7L463.7 121.9L464 123.3L464.3 123.4L464.8 123.3L465 122.6ZM442.2 124.9L442.2 125.2L443.3 126L443.8 125ZM442.8 127.2L441.6 126.3L440.2 127.3L440.3 127.9L442 128.7ZM470.6 129L470.6 129L470.7 127.2L470.2 127L469.4 127.2L469.4 128.5ZM430.1 130.3L430.9 131.2L432.1 130.7L432.4 129.7L431 129.2L429.9 129.9ZM445.4 131.3L446.8 130.7L446.8 129.9L446.3 129.6L445.1 130.6L445.2 131ZM454 131.3L454.2 131.1L454.4 129.7L452.6 130.4ZM455.5 130.9L457.4 131.3L457.8 130.9L457.8 130.2L457.2 129.6L455.7 129.9ZM459 130.8L460.4 131.6L460.8 131.2L460.9 130.3L460.2 129.9L459 130.4ZM482 130.2L482 130.7L482.9 131.2L483.8 130.7L483.8 129.8L483.6 129.6ZM426.8 133L426.4 132.6L425 133.2L425 133.3L427 133.4ZM438.9 132.3L437.5 132.7L437.3 133.6L438 134.1L438.3 134L438.9 132.4ZM476.3 133.2L476.4 132.1L475.9 131.8L475 132.4L475.7 133.6ZM427.2 135.9L428.1 136.5L429.2 136L429 134.9L427.9 134.6ZM431.9 135.5L432.4 134.8L430.6 134.2L430.2 134.6L430.4 135.7ZM466.7 135L465.7 134.3L465.2 134.7L465.4 136.3L466.9 136.1ZM473.7 135.8L473.4 136.3L474.8 137.1L475.7 136.4L475.2 135ZM488.9 135L488.8 135.9L489.2 136.3L489.2 134.9ZM434.9 139.1L436 138.2L435.9 137.8L435.1 137.5L433.9 138.2L433.7 138.8ZM453.4 138.9L453.2 137L453.1 136.9L451.8 137.4L452.3 138.9L453 139.1ZM458.6 138.6L460 137.1L458.9 136.9L457.7 137.9L457.7 138ZM470.2 139.5L470.8 139.1L470.7 137.5L470.3 137.2L468.9 137.6L468.5 139.4ZM488.5 138.7L488.7 137.6L488 136.9L487.1 137.5L487.4 138.8L487.6 138.9ZM428.8 141.4L428.7 140.7L427.1 139.7L426.8 139.8L426.7 141.5L427.9 142.1ZM434.5 140.3L433.4 140L433.3 141.6L433.5 141.6L434.6 141ZM442.3 139.4L442 139.9L442.3 141.1L442.8 141.3L443 141.2L443.1 139.9ZM461.5 141L461.5 140.7L459.6 140.8L459.4 141.4L459.8 142ZM471.8 142L472.1 141.2L471.6 140.3L471.5 140.2L471 140.5L471 141.9ZM474.5 139.5L473 140.1L473.2 140.5L474.4 140.6L474.9 140.3ZM433.2 142.8L432.7 142.7L432.1 143L432.1 143.5L432.7 144.8L434 144.2ZM469.8 143.9L470.4 144.6L472 143.6L471.8 143.3L470.5 143.1L469.9 143.4ZM487.7 144.2L488.2 143.8L488 143.2L487 142.6L486.2 142.9L486.2 143.2ZM445.5 145.2L444.3 146.2L444.1 146.6L445.2 147L446.8 146.1L446.6 145.5ZM479.6 145.2L479.3 145.3L479.3 145.7L480.5 147L481.3 146.7L481.3 145.6ZM458.3 146.8L457.1 147.6L457.1 148.2L459 148.3L459.3 147.4ZM468.6 147.4L467.3 146.9L466.8 147.4L467.1 148.3L467.5 148.7ZM486.1 148.8L488.2 149.3L488.3 149.3L488.1 148.2L487 147.5L486.2 147.7L486.2 147.7ZM444.1 151.1L444.9 151.4L445.7 150.9L446 150.1L445.9 150.1L444.1 150.2ZM462.1 151.9L463.6 150.9L463.3 150.1L463.1 150L461.8 150.7L462 151.8ZM449.8 153.7L450.3 153.5L450.5 152.4L449.8 152.1L448.7 153.2L448.7 153.2ZM458.4 154.1L459.5 153.6L459.5 153.3L458.3 153ZM473.1 152.9L472 153.1L471.8 154L472.5 154.2L473.2 154.2L473.5 153.5L473.4 153.1ZM477.9 153.7L478.8 154.2L480 154.2L480.1 154.1L479.9 152.8L479.2 152.4L478.1 153Z"/>
<path fill="#62666b" d="M452.9 106L454.5 106.7L455.3 106L455.3 105.9L452.9 105.9ZM471.5 106L471.8 105.9L471.3 105.9ZM452.2 108.5L453 108.8L453.8 108.3L453.9 107.8L452.2 107L452.1 107.1ZM479.7 108.2L480.2 107L478.9 106.3L478 107.4L478.2 108.5L478.7 108.8ZM445.1 110L444.7 111.4L445.3 112L446.5 111.2L445.6 109.6L445.6 109.6ZM478.5 110.9L478.2 109.9L477.6 109.7L476.8 110.1L476.8 111.7L477.1 112ZM482.9 110.7L483.3 111.2L484.3 111L484.1 110L483.6 109.9L483.1 110.3ZM476.1 115L474 114.7L473.7 114.9L473.9 115.7L474.4 116.2L475.9 115.9ZM479.9 116.6L480.2 116.9L480.3 116.7L480.8 114.5L480.6 114.3L479.3 114.9ZM485.5 118.7L485.8 117.9L484.6 116.6L484.3 117.1L484.5 118.3ZM441 121.6L440.3 122.6L440.3 122.7L441.4 123.4L442.3 122.1ZM460.7 122.8L460.7 123.2L461.8 123.9L462.8 123.4L462.6 122.3L461.3 122.2ZM467.5 123.2L466.6 122.6L466.3 122.8L466 123.6L467.2 124.4L467.5 123.9ZM478.7 122.7L478.4 123.8L479 124.5L479.7 124.1L479.6 122.9L479 122.6ZM431.9 125.5L431.9 125.4L431 124L430.2 125L430.4 125.6L431 125.9ZM457.7 126L457.7 125.7L456.6 125L455.9 125.2L455.5 126.1L457.3 126.5ZM458.5 129.2L459.6 128.7L459.8 127.6L458.6 127L458.2 127.4L458.1 128.7ZM477.7 127.8L477.7 128.3L478.7 129L479.8 128.3L479.9 128L478.6 127.1ZM487.5 127.2L487.2 128.3L487.8 128.8L488.3 128.6L487.9 127.2ZM471.6 132.2L472.4 131.5L472.2 130.7L471.2 130.2L471 130.2L470.6 131.2ZM436.1 133.3L436.3 132.3L435.8 131.8L434.6 132.7L434.8 133.4ZM478.7 134.5L477.1 134.2L476.4 134.6L476.9 136.2L477.1 136.3L477.7 136.1ZM425 136.8L424.6 136.6L423.7 137.9L423.7 138L424.3 138.5L425 138.4ZM431.1 138.2L432.5 138.5L432.7 137.8L431.9 136.8L430.7 136.9ZM447.7 139.2L447.7 137.9L447.4 137.6L445.8 138.2L445.8 138.3L447 139.8ZM430.9 139.5L430 140.6L430 141.3L431.4 141.9L432 141.6L432.2 139.7ZM436.6 141.3L437.8 140.6L437.8 139.9L436.7 139.2L435.7 140L435.9 140.9ZM468.4 141.2L469.4 142.3L469.7 142.1L469.7 140.7L468.6 140.6ZM480.1 141.6L480.7 141.4L480.8 139.8L480.4 139.7L479.8 140.1L479.5 141.1ZM457.9 144L459.1 143.1L458.5 142.2L457.9 142.4L457.2 143.7ZM440.3 149L442.3 147.7L442.4 147.4L441.1 146.9L439.8 147.5ZM454.6 149L455.5 149L455.9 148.6L455.8 147.5L455.6 147.3L453.9 147.5ZM473.4 148.4L473.4 147.2L471.2 147.4L471.8 148.7L473 148.8ZM481.7 147.9L480.8 148.3L480.5 148.7L482 149.3L482 148.1ZM438.7 150.9L439.9 151.9L440.4 151.3L439.8 150.3L438.7 150.9ZM448.9 151.3L448.2 150L447.3 150.4L447 151.2L448 152.1ZM458.9 149.6L456.8 149.5L456.6 149.8L457.3 151.5L457.6 151.6ZM475.2 150L474.1 149.5L473.8 149.7L473.9 151.9L474 151.9L475.2 151.2ZM440.3 153.7L440.8 154.1L441.6 153.7L441.8 152.3L441.3 152.2L440.5 153.1ZM460.7 153.9L460.9 154.2L462.2 154.2L461.7 153.1L461.4 152.9L460.8 153.2ZM466 153.9L466.6 154.2L467.9 154.2L467.9 153.1L466.4 152.4ZM454.4 154.1L454.3 154.2L454.5 154.2Z"/>
<circle cx="432.9" cy="140.7" r="1.6" fill="#5e6268"/>
<circle cx="485.9" cy="127.6" r="1.6" fill="#5e6268"/>
<circle cx="443.3" cy="113.1" r="1.6" fill="#5e6268"/>
</g>
<rect x="423.7" y="154.2" width="65.5" height="7.2" fill="#0b0b0b"/>
<text x="428.2" y="156.8" class="sb" textLength="17" lengthAdjust="spacingAndGlyphs">10kV x1.00k SE</text>
<text x="478.7" y="156.8" class="sb" textLength="6.3" lengthAdjust="spacingAndGlyphs">50&#956;m</text>
<g filter="url(#sb)">
<rect x="630.8" y="55" width="65.3" height="49" fill="#666a6f"/>
<path fill="#54585d" d="M631.4 55.1L631.4 55L630.8 55L630.8 55.3ZM665.8 56.1L666.9 56.5L670 55L665.7 55ZM672.1 55.4L675.5 55.1L675.5 55L671.8 55ZM675.5 55.1L677.9 56.5L679.2 56.1L679.2 55L675.5 55ZM684.7 56.9L687.5 55.2L687.5 55L683.7 55ZM644 60.6L647.3 61.6L647.3 57.3L644.2 56.6L642.8 57.4ZM655 58.4L657 62L659.9 60.3L660.7 56.6L660.6 56.5L655.1 57.7ZM666.9 56.5L665.8 56.1L663.7 57.6L663.9 59.9L666.3 60.7L669 59.7ZM632.4 63L633.7 62.9L634 60.1L632 58.4L630.8 59.2L630.8 60.7ZM652.5 64.8L654.6 64.7L657.1 62.9L657 62L655 58.4L651.9 60.1L651.2 61.5ZM638.2 68.4L638.5 67.8L638.8 63.3L635 63.8L634.2 67.4L636.2 69.2ZM671.9 68.9L673.1 64.3L673.1 64.2L669.3 64.1L668.9 67L671.5 69.2ZM678 65.6L682.4 66.8L683.7 64.8L680 62L678.8 62.5ZM633.9 71.8L635.8 70.6L636.2 69.2L634.2 67.4L630.8 68.2L630.8 69.6ZM662.7 68.7L659.6 67L658.1 68.7L658.5 71L660.7 72.3L663.5 71.9L663.5 71.7ZM688.3 67.4L682.7 69.7L682.5 70.9L683.7 71.8L688.7 70.3L688.9 67.7ZM641.6 74.2L644.5 75.8L646.9 74.7L646.3 71.5L644.2 69.8L642.5 70.5ZM689.7 72.2L689.5 73.4L692 74.7L694.6 74L695.6 71.8L693.1 71.1ZM638 74.8L635 76.1L634.9 77.2L638 80.4L640.4 79.4L640.6 79.1L638.7 75.3ZM664.9 80.7L661 80.1L660.6 80.3L660.7 82.1L661.2 83.6L665.9 83.5L666 83.1ZM671.2 83.8L668.4 82.6L666 83.1L665.9 83.5L665.7 87L667 88.1L669.9 87.5ZM644.6 85.5L641.4 88.5L641.6 90L644.3 92L647.4 89.1L647.4 89ZM686.6 91.1L686.5 88.2L683.7 85.8L682.1 88.5L682.6 91.5L683.9 92.9ZM690.9 91L692.6 91.5L695.9 90.8L694.3 86.5L692 86.5L690.5 87.3ZM649 90.1L647.4 89.1L644.3 92L644.4 92.4L647.4 94.9L648.6 94.4ZM692.9 94.2L694.3 95.3L696.1 92.8L696.1 90.9L695.9 90.8L692.6 91.5ZM669.7 99L673.2 97.8L672.8 95.1L671.2 94.8L668.9 95.9L669.4 98.8ZM642.1 101.5L638.8 98.2L636.1 100.6L638.4 103.5L641.3 102.7ZM638.8 97.7L638.8 98.2L642.1 101.5L644 101L645 98.6L642.1 96ZM653.4 100.7L654.7 102.1L657.2 101.8L657.7 97.8L654.9 96L654.4 96.3L653.4 100.5Z"/>
<path fill="#64686d" d="M636.6 55L631.4 55L631.4 55.1L632.2 56.2L636.2 56.5ZM684.7 56.9L683.7 55L682.7 55L679.5 56.3L681.7 59.2L682.2 59.2L684.4 58.7ZM642.8 62.8L644 60.6L642.8 57.4L641.5 57.5L641.2 57.8L639.2 62.2L639.2 63L641 63.6ZM650 66.4L651.9 65.5L652.5 64.8L651.2 61.5L647.5 62L646.8 63.9L646.9 64.3ZM669.3 64.1L673.1 64.2L674.2 60.4L672.2 58.9L669.2 59.8L669.2 63.9ZM694.8 60.4L692.3 60.6L691 63.1L691.2 64.1L696.1 63.8L696.1 62.4ZM635 63.8L633.7 62.9L632.4 63L630.8 64L630.8 68.2L634.2 67.4ZM662.8 63.4L659.6 64.9L659.6 67L662.7 68.7L664.9 66.4L664.7 64.6ZM691.2 64.1L691 63.1L686.8 62.2L685.4 64.2L688.3 67.4L688.9 67.7L691 66.6ZM688.9 67.7L688.7 70.3L689.7 72.2L693.1 71.1L691.1 66.7L691 66.6ZM631.9 74.8L630.8 74L630.8 76.6ZM640.6 79.1L642.4 78.7L644.5 75.8L641.6 74.2L638.7 75.3ZM669.1 75.1L665.6 75.7L665.6 78.3L669.3 80L670 79.2L669.9 75.6ZM677.4 80.7L677.8 80.7L680 79.7L680.7 79L679.3 76.3L676.6 75.5L674.9 77.6L675.1 79.3ZM694.6 74L692 74.7L691.9 79.1L694.8 79.2L696.1 78.6L696.1 78.6ZM638 80.4L634.9 77.2L633.2 79.6L633.8 82.4L634 82.4L637.1 81.6ZM691.8 83.4L694.4 82.8L694.8 79.2L691.9 79.1L690.9 79.4L690.7 82.2ZM694.8 79.2L694.4 82.8L695.6 85.1L695.7 85.1L696.1 84.9L696.1 78.6ZM649.6 86.2L647.6 83.3L645.9 83.4L644.7 84.7L644.6 85.5L647.4 89ZM665.7 87L665.9 83.5L661.2 83.6L660.4 85.2L663.8 87.6ZM655.8 90.9L658.2 90.2L658.5 86L658.2 85.8L654.1 85.5L654.8 90.5ZM672.6 89.9L674.4 92.1L677.4 90.9L677.9 88.3L676.9 86.7L675.4 86.2L672.5 89.3ZM696.1 90.9L696.1 85.5L695.7 85.1L695.6 85.1L694.3 86.5L695.9 90.8ZM667.2 91.6L665.5 94.2L668.9 95.9L671.2 94.8L670 91.9ZM631.6 93.6L630.8 94.2L630.8 98.2L633.9 96.8L635.6 93.9L634 93.2ZM657.2 101.8L658 102.2L660.3 101.8L661.6 99.8L660.3 96.4L657.7 97.8ZM696 97.9L696.1 98L696.1 97.8ZM676.7 102.6L675.2 101.8L672.3 102.8L671.5 104L676.8 104ZM685.6 103.1L684.1 99.5L683.2 99.8L681.7 104L681.7 104L685.3 104Z"/>
<path fill="#6c7075" d="M636.2 56.5L636.4 56.9L641.2 57.8L641.5 57.5L640.3 55L636.6 55ZM641.5 57.5L642.8 57.4L644.2 56.6L644.2 55L640.3 55ZM679.2 56.1L679.5 56.3L682.7 55L679.2 55ZM692.5 55L687.5 55L687.5 55.2L689.6 57.8L690.1 57.9ZM686.8 62.2L686.7 59.9L684.4 58.7L682.2 59.2L684.7 64.3L685.4 64.2ZM643.1 66.8L641 63.6L639.2 63L638.8 63.3L638.5 67.8ZM646.9 64.3L646.8 63.9L642.8 62.8L641 63.6L643.1 66.8L644.2 67.8ZM644.2 68.4L649.9 67L650 66.4L646.9 64.3L644.2 67.8ZM695.5 67L696.1 68.2L696.1 65.4ZM646.3 71.5L649.6 69.6L649.9 67L644.2 68.4L644.2 69.8ZM671.5 69.2L668.9 67L667 68L666.8 69.9L669.4 71.5L671.4 69.8ZM673.7 72.6L676.1 72.5L675.1 69L671.9 68.9L671.5 69.2L671.4 69.8ZM638 73.9L635.8 70.6L633.9 71.8L633 74.7L635 76.1L638 74.8ZM653.1 76.8L653.3 76.8L655 74.5L655 74L653 71.2L652.9 71.2L648.1 75.2ZM683.8 77.3L685.2 74.5L683.7 71.8L682.5 70.9L680.9 71.5L680.7 74.3ZM688.4 74.6L689.5 73.4L689.7 72.2L688.7 70.3L683.7 71.8L685.2 74.5ZM633.8 82.4L631.4 83.9L631.3 85.3L632.6 88L636.2 87.8L637 87L634 82.4ZM638.4 86.6L641.4 88.5L644.6 85.5L644.7 84.7L641.4 83.2L638.9 84.9ZM653.2 84.6L653 82.4L650 81.9L647.6 83.3L649.6 86.2L651.3 86.3ZM692 86.5L694.3 86.5L695.6 85.1L694.4 82.8L691.8 83.4ZM632.2 88.7L632.6 88L631.3 85.3L630.8 85.6L630.8 89.5ZM652.9 90.7L654.8 90.5L654.1 85.5L653.2 84.6L651.3 86.3L651.7 90ZM682.1 88.5L677.9 88.3L677.4 90.9L678.8 92.2L682.6 91.5ZM690.3 87.2L686.5 88.2L686.6 91.1L689.9 91.7L690.9 91L690.5 87.3ZM631.6 93.6L630.8 92.2L630.8 94.2ZM630.8 89.5L630.8 92.2L631.6 93.6L634 93.2L632.2 88.7ZM635.6 93.9L636.5 94.4L639.7 93L641.1 90.4L636.6 90.9ZM644.4 92.4L644.3 92L641.6 90L641.1 90.4L639.7 93L642.2 95.3ZM642.1 96L645 98.6L646.7 97.6L647.4 94.9L644.4 92.4L642.2 95.3ZM631.9 100.7L630.8 98.9L630.8 102.5ZM633.9 96.8L630.8 98.2L630.8 98.9L631.9 100.7L634.4 101.5L636 100.6ZM638.4 103.5L636.1 100.6L636 100.6L634.4 101.5L634.1 104L638.2 104ZM672.3 102.8L671 101.6L666.2 102.4L666.1 102.9L666.9 104L671.5 104Z"/>
<path fill="#5c6065" d="M644.2 56.6L647.3 57.3L648.1 56.9L648.4 56.5L648.1 55L644.2 55ZM694 55L694.4 55L693.9 55ZM632 58.4L632.2 56.2L631.4 55.1L630.8 55.3L630.8 59.2ZM651.2 61.5L651.9 60.1L648.1 56.9L647.3 57.3L647.3 61.6L647.5 62ZM690.1 57.9L692.3 60.6L694.8 60.4L695.4 59.4L694 55L693.9 55L692.5 55ZM632.4 63L630.8 60.7L630.8 64ZM639.2 63L639.2 62.2L636 58.9L634 60.1L633.7 62.9L635 63.8L638.8 63.3ZM642.8 62.8L646.8 63.9L647.5 62L647.3 61.6L644 60.6ZM682.2 59.2L681.7 59.2L680 62L683.7 64.8L684.7 64.3ZM684.7 64.3L683.7 64.8L682.4 66.8L682.7 69.7L688.3 67.4L685.4 64.2ZM691.2 64.1L691 66.6L691.1 66.7L695.5 67L696.1 65.4L696.1 63.8ZM640.6 70.4L638.2 68.4L636.2 69.2L635.8 70.6L638 73.9ZM664.9 66.4L662.7 68.7L663.5 71.7L666.8 69.9L667 68ZM676.1 72.5L676.5 72.7L679.7 71.3L677 66.7L675.1 69ZM644.5 75.8L642.4 78.7L645.4 81L647.7 78L647.5 75.2L646.9 74.7ZM665.6 75.7L665.2 75.4L662 76.8L661 80.1L664.9 80.7L665.6 78.3ZM640.6 79.1L640.4 79.4L641.4 83.2L644.7 84.7L645.9 83.4L645.4 81L642.4 78.7ZM690.9 79.4L689.2 78.8L685.5 80.1L685.4 83.4L688.3 84.2L690.7 82.2ZM683.7 85.3L682.4 84.7L679.3 84.6L676.9 86.7L677.9 88.3L682.1 88.5L683.7 85.8ZM688.3 84.2L685.4 83.4L683.7 85.3L683.7 85.8L686.5 88.2L690.3 87.2ZM692 86.5L691.8 83.4L690.7 82.2L688.3 84.2L690.3 87.2L690.5 87.3ZM659 90.6L662.6 89L663.8 87.6L660.4 85.2L658.5 86L658.2 90.2ZM665.7 87L663.8 87.6L662.6 89L665.3 94.2L665.5 94.2L667.2 91.6L667 88.1ZM670 91.9L671.2 94.8L672.8 95.1L674.2 93.8L674.4 92.1L672.6 89.9ZM678.8 92.2L677.4 90.9L674.4 92.1L674.2 93.8L677.8 95.8L678 95.8L678.4 95.2ZM683.9 93.9L683.9 92.9L682.6 91.5L678.8 92.2L678.4 95.2L683.8 93.9ZM684.9 95.3L689.4 94.6L689.9 91.7L686.6 91.1L683.9 92.9L683.9 93.9ZM689.9 91.7L689.4 94.6L690.4 96.1L692.9 94.2L692.6 91.5L690.9 91ZM638.8 98.2L638.8 97.7L636.5 94.4L635.6 93.9L635.6 93.9L633.9 96.8L636 100.6L636.1 100.6ZM639.7 93L636.5 94.4L638.8 97.7L642.1 96L642.2 95.3ZM648.6 94.4L647.4 94.9L646.7 97.6L648.9 98.9L650.9 97.2L651.5 95.3L651 94.7ZM661.6 99.8L665 99.2L665 94.5L661.2 94.5L660.7 95.2L660.3 96.4ZM650.9 97.2L648.9 98.9L649.9 100.9L653.4 100.7L653.4 100.5ZM666.2 102.4L671 101.6L669.7 99L669.4 98.8L666.1 100.4ZM645.3 102.4L644 101L642.1 101.5L641.3 102.7L641.5 104L645.5 104ZM645.5 104L649.5 104L649.1 102.2L645.3 102.4ZM662.7 103.9L660.3 101.8L658 102.2L658.3 104L662.7 104ZM692.6 100.1L690.9 103.9L690.9 104L695 104L696.1 103.1L696.1 102.8ZM653.8 104L654.1 104L654 103.9Z"/>
<path fill="#74787d" d="M648.4 56.5L651.7 55L648.1 55ZM654.5 56.1L655.1 57.7L660.6 56.5L660.5 55L655.7 55ZM632.2 56.2L632 58.4L634 60.1L636 58.9L636.4 56.9L636.2 56.5ZM672.2 58.9L674.2 60.4L675.5 60.1L677.9 56.5L675.5 55.1L672.1 55.4ZM694 55L695.4 59.4L696.1 59.1L696.1 55L694.4 55ZM666.3 60.7L663.9 59.9L662.9 61.7L662.8 63.4L664.7 64.6L666.6 63.8ZM669.2 59.8L669 59.7L666.3 60.7L666.6 63.8L669.2 63.9ZM651.9 65.5L653.9 69.7L656 68.4L654.6 64.7L652.5 64.8ZM642.5 70.5L644.2 69.8L644.2 68.4L644.2 67.8L643.1 66.8L638.5 67.8L638.2 68.4L640.6 70.4ZM647.5 75.2L648.1 75.2L652.9 71.2L649.6 69.6L646.3 71.5L646.9 74.7ZM680.9 71.5L679.7 71.3L676.5 72.7L676.6 75.5L679.3 76.3L680.7 74.3ZM647.7 78L649.5 79.8L653.1 76.8L648.1 75.2L647.5 75.2ZM634 82.4L637 87L638.4 86.6L638.9 84.9L637.1 81.6ZM658.2 85.8L657.5 83.2L655.7 80.9L654.6 80.8L653 82.4L653.2 84.6L654.1 85.5ZM677.8 80.7L677.4 80.7L675 85.6L675.4 86.2L676.9 86.7L679.3 84.6ZM651.7 90L651.3 86.3L649.6 86.2L647.4 89L647.4 89.1L649 90.1ZM669.9 87.5L667 88.1L667.2 91.6L670 91.9L672.6 89.9L672.5 89.3ZM651.5 95.3L654.4 96.3L654.9 96L655.5 94.8L655.8 90.9L654.8 90.5L652.9 90.7L651 94.7ZM660.7 95.2L661.2 94.5L659 90.6L658.2 90.2L655.8 90.9L655.5 94.8ZM654.9 96L657.7 97.8L660.3 96.4L660.7 95.2L655.5 94.8ZM665 99.2L661.6 99.8L660.3 101.8L662.7 103.9L666.1 102.9L666.2 102.4L666.1 100.4ZM678 95.8L677.8 95.8L674.6 99.2L675.2 101.8L676.7 102.6L677.4 102.3L680.2 99.1L679.9 98.2ZM631.9 100.7L630.8 102.5L630.8 104L634.1 104L634.4 101.5ZM654 103.9L654.7 102.1L653.4 100.7L649.9 100.9L649.1 102.2L649.5 104L653.8 104ZM666.1 102.9L662.7 103.9L662.7 104L666.9 104ZM690.9 103.9L688.3 102.2L685.6 103.1L685.3 104L690.9 104Z"/>
<path fill="#7c8085" d="M654.5 56.1L655.7 55L653.4 55ZM672.2 58.9L672.1 55.4L671.8 55L670 55L666.9 56.5L669 59.7L669.2 59.8ZM692.3 60.6L690.1 57.9L689.6 57.8L686.7 59.9L686.8 62.2L691 63.1ZM669.3 64.1L669.2 63.9L666.6 63.8L664.7 64.6L664.9 66.4L667 68L668.9 67ZM682.7 69.7L682.4 66.8L678 65.6L677.1 66.4L677 66.7L679.7 71.3L680.9 71.5L682.5 70.9ZM631.9 74.8L633 74.7L633.9 71.8L630.8 69.6L630.8 74ZM660.7 72.3L659.3 75.5L662 76.8L665.2 75.4L663.5 71.9ZM666.8 69.9L663.5 71.7L663.5 71.9L665.2 75.4L665.6 75.7L669.1 75.1L669.4 71.5ZM633.2 79.6L634.9 77.2L635 76.1L633 74.7L631.9 74.8L630.8 76.6L630.8 78.6ZM660.6 80.3L661 80.1L662 76.8L659.3 75.5L658.3 75.9L658.4 79.6ZM679.3 76.3L680.7 79L683.7 78.4L683.8 77.3L680.7 74.3ZM688.4 74.6L685.2 74.5L683.8 77.3L683.7 78.4L685.5 80.1L689.2 78.8ZM638.9 84.9L641.4 83.2L640.4 79.4L638 80.4L637.1 81.6ZM645.4 81L645.9 83.4L647.6 83.3L650 81.9L649.5 79.8L647.7 78ZM657.5 83.2L660.7 82.1L660.6 80.3L658.4 79.6L655.7 80.9ZM669.3 80L665.6 78.3L664.9 80.7L666 83.1L668.4 82.6ZM669.3 80L668.4 82.6L671.2 83.8L672.3 83.5L673.2 80.7L670 79.2ZM654.4 96.3L651.5 95.3L650.9 97.2L653.4 100.5ZM669.4 98.8L668.9 95.9L665.5 94.2L665.3 94.2L665 94.5L665 99.2L666.1 100.4ZM694.8 97.8L694.3 95.3L692.9 94.2L690.4 96.1L690.8 97.9L692.6 99Z"/>
<path fill="#4c5055" d="M660.6 56.5L660.7 56.6L663.7 57.6L665.8 56.1L665.7 55L660.5 55ZM659.9 60.3L662.9 61.7L663.9 59.9L663.7 57.6L660.7 56.6ZM686.7 59.9L689.6 57.8L687.5 55.2L684.7 56.9L684.4 58.7ZM659.6 64.9L662.8 63.4L662.9 61.7L659.9 60.3L657 62L657.1 62.9ZM673.1 64.3L677.1 66.4L678 65.6L678.8 62.5L675.5 60.1L674.2 60.4L673.1 64.2ZM654.6 64.7L656 68.4L658.1 68.7L659.6 67L659.6 64.9L657.1 62.9ZM675.1 69L677 66.7L677.1 66.4L673.1 64.3L671.9 68.9ZM693.1 71.1L695.6 71.8L696.1 71.4L696.1 68.2L695.5 67L691.1 66.7ZM658.3 75.9L659.3 75.5L660.7 72.3L658.5 71L655 74L655 74.5ZM669.4 71.5L669.1 75.1L669.9 75.6L671.1 75.5L673.7 72.6L671.4 69.8ZM694.6 74L696.1 78.6L696.1 71.4L695.6 71.8ZM669.9 75.6L670 79.2L673.2 80.7L675.1 79.3L674.9 77.6L671.1 75.5ZM690.9 79.4L691.9 79.1L692 74.7L689.5 73.4L688.4 74.6L689.2 78.8ZM631.4 83.9L633.8 82.4L633.2 79.6L630.8 78.6L630.8 83.6ZM680 79.7L677.8 80.7L679.3 84.6L682.4 84.7ZM685.5 80.1L683.7 78.4L680.7 79L680 79.7L682.4 84.7L683.7 85.3L685.4 83.4ZM631.3 85.3L631.4 83.9L630.8 83.6L630.8 85.6ZM658.5 86L660.4 85.2L661.2 83.6L660.7 82.1L657.5 83.2L658.2 85.8ZM675.4 86.2L675 85.6L672.3 83.5L671.2 83.8L669.9 87.5L672.5 89.3ZM695.7 85.1L696.1 85.5L696.1 84.9ZM634 93.2L635.6 93.9L635.6 93.9L636.6 90.9L636.2 87.8L632.6 88L632.2 88.7ZM674.2 93.8L672.8 95.1L673.2 97.8L674.6 99.2L677.8 95.8ZM679.9 98.2L680.2 99.1L683.2 99.8L684.1 99.5L685.2 98.4L684.9 95.3L683.9 93.9L683.8 93.9ZM685.2 98.4L687.7 99L690.8 97.9L690.4 96.1L689.4 94.6L684.9 95.3ZM694.3 95.3L694.8 97.8L696 97.9L696.1 97.8L696.1 92.8ZM671 101.6L672.3 102.8L675.2 101.8L674.6 99.2L673.2 97.8L669.7 99ZM680.2 99.1L677.4 102.3L681.7 104L683.2 99.8ZM684.1 99.5L685.6 103.1L688.3 102.2L687.7 99L685.2 98.4ZM692.6 100.1L692.6 99L690.8 97.9L687.7 99L688.3 102.2L690.9 103.9ZM654.1 104L658.3 104L658 102.2L657.2 101.8L654.7 102.1L654 103.9ZM695 104L696.1 104L696.1 103.1Z"/>
<path fill="#84888d" d="M636 58.9L639.2 62.2L641.2 57.8L636.4 56.9ZM648.4 56.5L648.1 56.9L651.9 60.1L655 58.4L655.1 57.7L654.5 56.1L653.4 55L651.7 55ZM677.9 56.5L675.5 60.1L678.8 62.5L680 62L681.7 59.2L679.5 56.3L679.2 56.1ZM695.4 59.4L694.8 60.4L696.1 62.4L696.1 59.1ZM653 71.2L653.9 69.7L651.9 65.5L650 66.4L649.9 67L649.6 69.6L652.9 71.2ZM658.5 71L658.1 68.7L656 68.4L653.9 69.7L653 71.2L655 74ZM641.6 74.2L642.5 70.5L640.6 70.4L638 73.9L638 74.8L638.7 75.3ZM674.9 77.6L676.6 75.5L676.5 72.7L676.1 72.5L673.7 72.6L671.1 75.5ZM655.7 80.9L658.4 79.6L658.3 75.9L655 74.5L653.3 76.8L654.6 80.8ZM653.3 76.8L653.1 76.8L649.5 79.8L650 81.9L653 82.4L654.6 80.8ZM672.3 83.5L675 85.6L677.4 80.7L675.1 79.3L673.2 80.7ZM636.6 90.9L641.1 90.4L641.6 90L641.4 88.5L638.4 86.6L637 87L636.2 87.8ZM652.9 90.7L651.7 90L649 90.1L648.6 94.4L651 94.7ZM661.2 94.5L665 94.5L665.3 94.2L662.6 89L659 90.6ZM678.4 95.2L678 95.8L679.9 98.2L683.8 93.9ZM648.9 98.9L646.7 97.6L645 98.6L644 101L645.3 102.4L649.1 102.2L649.9 100.9ZM696 97.9L694.8 97.8L692.6 99L692.6 100.1L696.1 102.8L696.1 98ZM641.3 102.7L638.4 103.5L638.2 104L641.5 104ZM681.7 104L677.4 102.3L676.7 102.6L676.8 104L681.7 104Z"/>
<path stroke="#2a2c30" stroke-width="1.9" stroke-linecap="round" opacity="0.7" d="M633.6 57.9h0M638 59.1h0M651.3 57.9h0M659.2 58.8h0M683.2 56.9h0M686.6 57.5h0M693.2 57.3h0M636.1 60.6h0M642.4 61.2h0M644.6 61.9h0M654.1 61.6h0M660.6 61.7h0M667 61.6h0M671.2 61.8h0M676.6 63.6h0M632.5 65.8h0M647.2 67.2h0M654.3 67h0M657.1 66.7h0M662.2 66.6h0M671.2 66.8h0M673.8 66.8h0M680.7 64.6h0M684.9 67.7h0M688.7 64h0M693.5 64.9h0M633 69.9h0M638.3 71.2h0M652 68h0M655.6 71h0M660.9 70.2h0M664.8 68.4h0M668.7 68.6h0M677.3 70.1h0M693.7 69.6h0M631.6 71.7h0M635.7 73.1h0M643.2 73.2h0M649.8 71.6h0M651.6 74.3h0M658.9 73.8h0M661.7 75.1h0M671.6 72.5h0M674.2 74.3h0M682 74.5h0M686.9 71.9h0M692.2 73.2h0M637.7 78.1h0M642.2 75.3h0M645.4 78.1h0M650.5 78h0M660.5 78.1h0M663.4 78.5h0M667.8 78.9h0M672 78.2h0M677.8 77.7h0M686.5 77.2h0M691 76.3h0M692.9 75.7h0M635.9 80.1h0M642.9 82.1h0M647.7 80.5h0M651.3 79.1h0M658.4 82.1h0M662.4 82.3h0M667.2 79.9h0M670.5 80.8h0M675.2 82.1h0M679.6 83.1h0M682.6 81.1h0M688.4 82.2h0M633.9 85.8h0M636.6 83.8h0M641.3 85.2h0M647.9 86.7h0M662.6 85.3h0M669.1 84.9h0M672.2 86.7h0M677.6 84.1h0M680.1 86.3h0M693.1 84.1h0M644.3 88.8h0M656.3 87.4h0M664.3 90.6h0M679.2 90.1h0M684.8 89h0M688.1 89.1h0M693.2 88.5h0M641.8 92.8h0M647.7 92h0M650.6 91.9h0M657.6 93.9h0M662.8 91.3h0M669.5 94h0M671.5 92.9h0M677.3 93.1h0M680.6 93.5h0M687.6 93.1h0M693.9 93.8h0M632.7 96.1h0M635.6 97.8h0M640 94.7h0M667.8 97.3h0M670.9 96.7h0M675.3 96.1h0M680.7 96.3h0M682.2 97h0M687.8 96.3h0M692.8 95.5h0M633.6 98.9h0M638.7 101.4h0M642.2 98.1h0M647.2 100.7h0M655.9 99h0M659.8 98.9h0M663 101h0M669.1 100.9h0M677.5 99h0M681.5 102.1h0M689.5 100.6h0M669.5 102.8h0M683.3 102.2h0"/>
<path stroke="#a8abb0" stroke-width="0.7" stroke-linecap="round" fill="none" d="M695 104L696.1 103.1M696.1 71.4L695.6 71.8M662 76.8L665.2 75.4M644.2 56.6L644.2 55M653.9 69.7L656 68.4M682.7 69.7L682.5 70.9M632.2 56.2L632 58.4M632.4 63L633.7 62.9M631.9 100.7L634.4 101.5M672.1 55.4L671.8 55M676.9 86.7L679.3 84.6M653 71.2L655 74M630.8 78.6L633.2 79.6M633.2 79.6L633.8 82.4M659 90.6L658.2 90.2M687.7 99L688.3 102.2M675.1 69L671.9 68.9M671.2 94.8L668.9 95.9M675.4 86.2L672.5 89.3M669.1 75.1L669.9 75.6M664.9 66.4L667 68M688.3 67.4L688.9 67.7M685.5 80.1L685.4 83.4M653 71.2L652.9 71.2M653.1 76.8L653.3 76.8M672.3 102.8L675.2 101.8M657.5 83.2L658.2 85.8M658.2 85.8L654.1 85.5M662.7 103.9L666.1 102.9M645 98.6L642.1 96M688.3 84.2L690.3 87.2M647.7 78L647.5 75.2M638.2 68.4L640.6 70.4M635 76.1L638 74.8M661.6 99.8L660.3 96.4M678.4 95.2L683.8 93.9M687.7 99L685.2 98.4M651.5 95.3L650.9 97.2"/>
<path stroke="#c4c6ca" stroke-width="0.7" stroke-linecap="round" fill="none" d="M692 74.7L691.9 79.1M677.1 66.4L673.1 64.3M675.5 60.1L674.2 60.4M660.7 72.3L663.5 71.9M665.2 75.4L663.5 71.9M679.7 71.3L677 66.7M696 97.9L696.1 97.8M644.2 56.6L642.8 57.4M631.9 100.7L630.8 98.9M630.8 94.2L631.6 93.6M641.1 90.4L639.7 93M634.4 101.5L636 100.6M665.2 75.4L665.6 75.7M662.7 68.7L664.9 66.4M665.8 56.1L666.9 56.5M633.7 62.9L635 63.8M658.3 75.9L655 74.5M638.4 86.6L638.9 84.9M694.8 97.8L692.6 99M692.9 94.2L690.4 96.1M667 88.1L669.9 87.5M669.9 75.6L671.1 75.5M663.5 71.7L666.8 69.9M673.7 72.6L671.4 69.8M691.9 79.1L690.9 79.4M635 63.8L634.2 67.4M658.4 79.6L655.7 80.9M650 81.9L649.5 79.8M691.1 66.7L691 66.6M694.4 82.8L691.8 83.4M642.4 78.7L644.5 75.8M644.5 75.8L646.9 74.7M638 74.8L638.7 75.3M660.3 96.4L657.7 97.8M682.1 88.5L682.6 91.5M686.6 91.1L683.9 92.9M684.1 99.5L685.2 98.4M676.7 102.6L676.8 104M648.9 98.9L649.9 100.9M652.9 90.7L651 94.7"/>
<path stroke="#dcdde0" stroke-width="0.9" stroke-linecap="round" fill="none" d="M692 74.7L694.6 74M696.1 84.9L695.7 85.1M678.8 62.5L675.5 60.1M651.9 65.5L652.5 64.8M688.7 70.3L683.7 71.8M636.4 56.9L636.2 56.5M635.6 93.9L634 93.2M664.9 80.7L665.6 78.3M660.6 80.3L660.7 82.1M662.8 63.4L664.7 64.6M674.2 60.4L672.2 58.9M689.6 57.8L690.1 57.9M642.8 62.8L641 63.6M653.9 69.7L653 71.2M638 80.4L637.1 81.6M634.9 77.2L638 80.4M638.4 103.5L641.3 102.7M673.1 64.3L671.9 68.9M667.2 91.6L670 91.9M669.3 80L670 79.2M666.8 69.9L667 68M695.4 59.4L694.8 60.4M633 74.7L633.9 71.8M653.2 84.6L654.1 85.5M654.1 85.5L654.8 90.5M661.6 99.8L660.3 101.8M658.3 104L658 102.2M660.3 101.8L658 102.2M696.1 68.2L695.5 67M691.8 83.4L690.7 82.2M686.5 88.2L690.3 87.2M645.4 81L647.7 78M642.5 70.5L640.6 70.4M647.6 83.3L649.6 86.2M678 95.8L678.4 95.2M677.4 102.3L680.2 99.1M683.9 92.9L683.9 93.9M648.9 98.9L650.9 97.2M654.7 102.1L653.4 100.7M654.9 96L654.4 96.3M652.9 90.7L651.7 90"/>
<path stroke="#eeeeee" stroke-width="0.9" stroke-linecap="round" fill="none" d="M696.1 78.6L694.8 79.2M631.3 85.3L630.8 85.6M679.5 56.3L679.2 56.1M689.5 73.4L689.7 72.2M663.5 71.9L663.5 71.7M657 62L657.1 62.9M632.2 56.2L636.2 56.5M637 87L636.2 87.8M631.3 85.3L632.6 88M665.7 87L663.8 87.6M696.1 59.1L695.4 59.4M680 79.7L682.4 84.7M677.4 80.7L677.8 80.7M637 87L634 82.4M633.8 82.4L634 82.4M641.4 88.5L644.6 85.5M631.9 74.8L633 74.7M642.1 101.5L641.3 102.7M692.6 100.1L690.9 103.9M688.3 102.2L690.9 103.9M671.2 94.8L670 91.9M671.2 83.8L669.9 87.5M677.9 88.3L677.4 90.9M682.7 69.7L688.3 67.4M682.2 59.2L684.7 64.3M686.8 62.2L685.4 64.2M646.3 71.5L649.6 69.6M643.1 66.8L644.2 67.8M653 82.4L653.2 84.6M665 94.5L665 99.2M638.8 97.7L642.1 96M648.4 56.5L651.7 55M695.5 67L696.1 65.4M695.6 85.1L694.3 86.5M641.6 74.2L642.5 70.5M638 73.9L638 74.8M635.8 70.6L638 73.9M660.7 95.2L655.5 94.8M644.6 85.5L647.4 89M685.2 98.4L684.9 95.3M681.7 104L681.7 104M653.4 100.7L653.4 100.5"/>
<path stroke="#dcdde0" stroke-width="0.7" stroke-linecap="round" fill="none" d="M695.7 85.1L696.1 85.5M675.5 60.1L677.9 56.5M677.9 56.5L679.2 56.1M674.2 60.4L673.1 64.2M659.3 75.5L662 76.8M658.1 68.7L658.5 71M654.6 64.7L652.5 64.8M653.9 69.7L651.9 65.5M647.3 61.6L644 60.6M640.3 55L641.5 57.5M639.2 62.2L641.2 57.8M635.6 93.9L635.6 93.9M637 87L638.4 86.6M673.1 64.2L669.3 64.1M658.5 71L655 74M641.4 83.2L638.9 84.9M634.9 77.2L633.2 79.6M641.3 102.7L641.5 104M636.1 100.6L638.4 103.5M665 94.5L661.2 94.5M674.6 99.2L677.8 95.8M675 85.6L672.3 83.5M676.6 75.5L674.9 77.6M676.1 72.5L673.7 72.6M667 68L668.9 67M684.7 64.3L685.4 64.2M685.5 80.1L689.2 78.8M658.2 90.2L655.8 90.9M661.6 99.8L665 99.2M647.4 94.9L646.7 97.6M644 101L645 98.6M691.2 64.1L691 66.6M690.3 87.2L690.5 87.3M651.5 95.3L651 94.7"/>
<path stroke="#eeeeee" stroke-width="1.1" stroke-linecap="round" fill="none" d="M631.4 55.1L630.8 55.3M630.8 60.7L632.4 63M631.4 83.9L631.3 85.3M684.7 56.9L687.5 55.2M658.3 75.9L658.4 79.6M659.6 64.9L657.1 62.9M694.8 79.2L694.4 82.8M646.8 63.9L647.5 62M644 60.6L642.8 57.4M631.4 55.1L632.2 56.2M630.8 59.2L632 58.4M631.9 100.7L630.8 102.5M675.5 55.1L675.5 55M659.9 60.3L660.7 56.6M638.4 103.5L638.2 104M658.5 86L658.2 90.2M672.8 95.1L674.2 93.8M673.2 97.8L674.6 99.2M685.6 103.1L685.3 104M665.5 94.2L665.3 94.2M665.5 94.2L668.9 95.9M655 58.4L655.1 57.7M668.9 67L671.5 69.2M682.2 59.2L684.4 58.7M690.1 57.9L692.3 60.6M630.8 68.2L634.2 67.4M633.9 71.8L635.8 70.6M673.2 97.8L669.7 99M657.5 83.2L655.7 80.9M653 82.4L654.6 80.8M666.1 102.9L666.2 102.4M657.2 101.8L654.7 102.1M696.1 90.9L695.9 90.8M640.6 79.1L638.7 75.3M644.5 75.8L641.6 74.2M644.3 92L647.4 89.1M677.8 95.8L678 95.8M683.2 99.8L684.1 99.5M675.2 101.8L676.7 102.6M649.1 102.2L649.9 100.9"/>
<path stroke="#a8abb0" stroke-width="1.1" stroke-linecap="round" fill="none" d="M631.4 55.1L631.4 55M678 65.6L678.8 62.5M662 76.8L661 80.1M659.3 75.5L660.7 72.3M695.7 85.1L695.6 85.1M639.2 62.2L636 58.9M631.6 93.6L630.8 92.2M635.6 93.9L636.6 90.9M633.9 96.8L635.6 93.9M630.8 89.5L632.2 88.7M638.8 98.2L636.1 100.6M664.9 80.7L666 83.1M669.3 80L668.4 82.6M675.5 55.1L672.1 55.4M685.2 74.5L683.8 77.3M676.6 75.5L679.3 76.3M676.1 72.5L675.1 69M665.7 87L667 88.1M674.4 92.1L674.2 93.8M660.7 56.6L660.6 56.5M660.6 56.5L660.5 55M683.7 64.8L684.7 64.3M688.3 67.4L685.4 64.2M652.9 71.2L648.1 75.2M644.2 68.4L644.2 67.8M644.2 68.4L644.2 69.8M665 99.2L666.1 100.4M645.5 104L645.3 102.4M647.4 94.9L644.4 92.4M695.9 90.8L692.6 91.5M688.3 84.2L690.7 82.2M640.6 79.1L642.4 78.7M677.4 90.9L678.8 92.2M683.9 93.9L683.8 93.9M678 95.8L679.9 98.2M651.3 86.3L651.7 90"/>
<path stroke="#dcdde0" stroke-width="1.1" stroke-linecap="round" fill="none" d="M630.8 64L632.4 63M684.7 56.9L683.7 55M652.5 64.8L651.2 61.5M651.9 60.1L651.2 61.5M696.1 98L696 97.9M636 58.9L636.4 56.9M633.7 62.9L634 60.1M641.2 57.8L636.4 56.9M638.8 97.7L636.5 94.4M663.9 59.9L663.7 57.6M664.9 66.4L664.7 64.6M666.9 56.5L670 55M692.5 55L690.1 57.9M679.7 71.3L676.5 72.7M676.5 72.7L676.6 75.5M638.9 84.9L637.1 81.6M662.6 89L665.3 94.2M696.1 102.8L692.6 100.1M690.8 97.9L687.7 99M677 66.7L675.1 69M671.2 83.8L672.3 83.5M688.7 70.3L688.9 67.7M643.1 66.8L638.5 67.8M636.2 69.2L635.8 70.6M653.8 104L654 103.9M642.1 101.5L644 101M644.3 92L644.4 92.4M655.1 57.7L654.5 56.1M693.1 71.1L691.1 66.7M691 63.1L691.2 64.1M690.9 79.4L690.7 82.2M647.6 83.3L645.9 83.4M645.9 83.4L645.4 81M641.6 74.2L638.7 75.3M679.9 98.2L683.8 93.9M681.7 104L677.4 102.3M651.7 90L649 90.1"/>
<path stroke="#c4c6ca" stroke-width="1.1" stroke-linecap="round" fill="none" d="M680 62L678.8 62.5M681.7 59.2L679.5 56.3M673.1 64.3L673.1 64.2M660.6 80.3L661 80.1M658.5 71L660.7 72.3M655 58.4L651.9 60.1M659.9 60.3L662.9 61.7M689.5 73.4L688.4 74.6M651.2 61.5L647.5 62M641.2 57.8L641.5 57.5M636.5 94.4L639.7 93M630.8 98.2L633.9 96.8M641.4 88.5L641.6 90M638.8 98.2L638.8 97.7M694.8 97.8L694.3 95.3M672.2 58.9L672.1 55.4M669 59.7L669.2 59.8M663.9 59.9L666.3 60.7M679.3 84.6L682.4 84.7M675 85.6L677.4 80.7M683.8 77.3L680.7 74.3M679.3 76.3L680.7 74.3M683.7 71.8L682.5 70.9M680.9 71.5L680.7 74.3M635 63.8L638.8 63.3M634 82.4L637.1 81.6M670 91.9L672.6 89.9M677.4 80.7L675.1 79.3M672.3 83.5L673.2 80.7M669.4 71.5L671.4 69.8M694.8 60.4L692.3 60.6M690.9 79.4L689.2 78.8M650 66.4L649.9 67M649.9 67L649.6 69.6M649.9 67L644.2 68.4M638.8 63.3L638.5 67.8M649.5 79.8L653.1 76.8M666.2 102.4L666.1 100.4M662.7 104L662.7 103.9M671 101.6L666.2 102.4M644 101L645.3 102.4M645 98.6L646.7 97.6M694.3 86.5L695.9 90.8M689.9 91.7L690.9 91M646.3 71.5L646.9 74.7M640.6 70.4L638 73.9M655.8 90.9L655.5 94.8M685.6 103.1L684.1 99.5M654.4 96.3L653.4 100.5M649 90.1L648.6 94.4"/>
<path stroke="#c4c6ca" stroke-width="0.9" stroke-linecap="round" fill="none" d="M680 62L681.7 59.2M678 65.6L677.1 66.4M687.5 55.2L687.5 55M679.5 56.3L682.7 55M659.3 75.5L658.3 75.9M648.4 56.5L648.1 56.9M656 68.4L658.1 68.7M659.9 60.3L657 62M680.9 71.5L682.5 70.9M647.3 61.6L647.5 62M646.8 63.9L642.8 62.8M634 60.1L636 58.9M634.1 104L634.4 101.5M696 97.9L694.8 97.8M669.2 59.8L669.2 63.9M693.9 55L694 55M675.4 86.2L676.9 86.7M680.7 79L683.7 78.4M650 66.4L646.9 64.3M630.8 74L631.9 74.8M665 94.5L665.3 94.2M694.3 95.3L692.9 94.2M690.8 97.9L692.6 99M665.6 75.7L669.1 75.1M666.8 69.9L669.4 71.5M671.5 69.2L671.4 69.8M671.9 68.9L671.5 69.2M689.6 57.8L686.7 59.9M686.8 62.2L691 63.1M630.8 69.6L633.9 71.8M634.2 67.4L636.2 69.2M671 101.6L669.7 99M669.7 99L669.4 98.8M660.7 82.1L657.5 83.2M653.3 76.8L654.6 80.8M649.1 102.2L645.3 102.4M641.6 90L644.3 92M654.5 56.1L653.4 55M695.5 67L691.1 66.7M689.4 94.6L690.4 96.1M648.1 75.2L647.5 75.2M661.2 94.5L660.7 95.2M653.2 84.6L651.3 86.3M678.8 92.2L678.4 95.2M647.4 94.9L648.6 94.4"/>
<path stroke="#eeeeee" stroke-width="0.7" stroke-linecap="round" fill="none" d="M683.7 64.8L682.4 66.8M695.6 71.8L693.1 71.1M660.6 80.3L658.4 79.6M644.2 56.6L647.3 57.3M659.6 64.9L659.6 67M662.8 63.4L662.9 61.7M677.1 66.4L677 66.7M679.7 71.3L680.9 71.5M688.7 70.3L689.7 72.2M642.8 62.8L644 60.6M632 58.4L634 60.1M636.6 55L636.2 56.5M634 93.2L632.2 88.7M666 83.1L668.4 82.6M669.3 64.1L669.2 63.9M677.8 80.7L680 79.7M639.2 63L641 63.6M639.2 63L638.8 63.3M644.6 85.5L644.7 84.7M635 76.1L633 74.7M690.4 96.1L690.8 97.9M674.2 93.8L677.8 95.8M680 79.7L680.7 79M686.7 59.9L684.4 58.7M683.7 85.3L683.7 85.8M646.9 64.3L644.2 67.8M669.4 98.8L666.1 100.4M657.2 101.8L658 102.2M688.9 67.7L691 66.6M692 86.5L690.5 87.3M683.7 85.8L686.5 88.2M640.4 79.4L640.6 79.1M644.2 69.8L642.5 70.5M649.6 86.2L651.3 86.3"/>
<path stroke="#a8abb0" stroke-width="0.9" stroke-linecap="round" fill="none" d="M689.5 73.4L692 74.7M648.4 56.5L648.1 55M657 62L655 58.4M641.1 90.4L636.6 90.9M661.2 83.6L660.7 82.1M661.2 83.6L665.9 83.5M665.9 83.5L666 83.1M661.2 83.6L660.4 85.2M664.7 64.6L666.6 63.8M666.9 56.5L669 59.7M672.2 58.9L669.2 59.8M683.7 78.4L683.8 77.3M655 74L655 74.5M651.9 65.5L650 66.4M674.9 77.6L675.1 79.3M665.8 56.1L665.7 55M669.3 64.1L668.9 67M683.7 78.4L685.5 80.1M655 74.5L653.3 76.8M668.9 95.9L669.4 98.8M654.7 102.1L654 103.9M692 86.5L691.8 83.4M685.4 83.4L688.3 84.2M686.5 88.2L686.6 91.1M645.4 81L642.4 78.7M649.5 79.8L647.7 78M644.7 84.7L645.9 83.4M678.8 92.2L682.6 91.5M681.7 104L683.2 99.8"/>
<path stroke="#d6d7da" stroke-width="0.8" fill="none" stroke-linejoin="round" stroke-linecap="round" d="M646.1 67.3L645.4 62.1L643.9 58L644 55.4M644 84.1L646.6 84L651.5 81.8L654.9 82.1M649.7 59.8L648.4 56.5L646.4 55.4L643.8 55.4L641.2 55.4M692.1 98.4L693.7 100.8L695.5 103.6L695.7 103.6M647.8 73.3L642.1 72.9L636.6 73.2L632.2 72L631.2 71.5M656.7 103.2L653.8 103.6L650 103.6L645.5 103.6L642.9 102.9L637.9 103.6M638.9 72.9L643.5 76.6L644.9 80.6L646.6 83.7L648.5 86.7L649.5 90M691.3 80.9L695.6 82.5L695.7 84.7L695.7 87.1M669.4 57.5L667.3 61L664.3 63.6L662 65.3L658.4 66.6M668.7 78.8L669 83L670.6 85.2L671.8 89.1L674.8 93.5L678.2 95.2M644.3 102L642.8 103.6L643.3 103.6L642.1 103.6L640.6 103.6L639.6 103.6M673.6 92.1L672.8 88.5L673.3 84.2L673.7 80.3L671.7 75.9M667.7 92.9L670.9 91.5L674 87.5L677.7 83.9L680.9 83.1L683.3 81.4M640.4 98.7L641.2 101.2L641.8 103.6L643.8 103.6M664.5 100L662.1 101.8L660.7 103.6L656.9 103.6M669.2 59.5L665.7 56.2L663.6 55.4L657.8 55.4L653.6 55.4M685.9 87.1L684.8 89.9L685.2 95.4L685.5 100.3L686.7 103.5M635.5 77.8L640.6 76L645.3 74.2L649.4 73.3L652.9 70.6L656.3 66.4M683.4 90.8L682.7 93.8L683.2 97.8L685 99.8M634.1 78.6L633.8 76L633.3 71.8L632.9 69L631.2 64.4L631.2 61.3M663.8 95.4L658.1 95.3L653.9 93.2L651.4 91.8M682.7 66.7L684.4 63.4L685.6 60.3L687.9 56.4L689.6 55.4M691.4 66.3L690.6 69L688.9 71.4L684.9 73.6M660.8 96.7L662.5 94.3L663.3 88.8L665.1 85.6M689.6 82.5L688.6 80.2L688.3 77.6L687.2 74.8L687.3 71.9L688.8 69.5M636.4 93.2L632.8 97.4L631.2 102.1L631.2 103.6L631.2 103.6M670.3 62.5L674.8 62.8L678.9 65.3L682.7 69.1M665.3 75.8L668.7 74.5L671.1 73.9L673.2 71.6M632.5 87.3L636.7 88.1L639.4 87.4L642 86.7L647.2 85.2L650 85M691.1 79L693.5 83.8L695.7 88.5L695.7 90.8L695.7 92.9L695.7 96M670.1 64.4L674.1 65.4L677.2 68.1L681 72M680.7 93.1L675 92.3L671 93L668.4 94.8L666.8 98.3L667 102.4M634 98.8L638.4 97.3L643.4 95.2L645.7 92.1M660.5 80.3L655.1 81.2L652.6 83.2L650.1 84.5L646.7 85.2L643.1 84.9M662.4 78L665 79.2L666.5 81.8L667.9 86.5L669.3 89.9M638.7 63.9L633.8 62.5L631.2 63.6L631.2 65.8L631.2 70.1M672.6 72.9L672.2 69.3L672.9 66.5L676.7 62.9L679.4 60.7L681.3 55.6M674 85.9L669.7 87.5L664.8 88.8L662.5 90L659.8 90.2L654.5 92.4M689.6 74.3L685.5 77.7L680.4 79.7L676.9 79.9M642 78.1L640.3 72.5L641 67.8L642.8 65.2L643.8 61.2M677.9 65.9L675 65.1L671.1 65L666.4 67.3L663.3 70.8M661 67.6L659.7 72.6L659.8 78.3L660.7 81.8M669.8 56.6L669.3 55.4L669.9 55.4L670.6 55.4L668.7 55.4M686.3 81.3L691.8 79.2L695.2 79.6L695.7 82.5L695.7 83.6M687.7 59L684.5 60.7L679.8 64.6L677.7 68.8L674.8 71.8L673.4 75.4M636.1 56L632.9 60.2L631.2 61.6L631.2 61.4L631.2 63.1L631.2 63M652.6 63.7L651.8 59.6L649.2 56.8L647.1 55.4L643.7 55.4L642 55.4M689.8 94L689.4 90.9L690.3 87.2L689 82L685 77.7L684.5 74.3M650.6 101.4L646 102.1L641.7 103.6L639 103.6L636.2 103.6L633.5 103.6M684.9 56.6L682.8 55.4L678 55.4L674.8 55.4L673.7 55.4M664.5 96.3L667 93.4L670.5 90L674.2 87.7M647.4 57.7L643.6 57.1L638.5 55.4L635.2 55.4L631.2 56.1M671.9 97.7L676.9 100.2L678.4 102.8L678.2 103.6L679 103.6L681.4 103.6M645.3 60L648.6 62.9L652.2 63.5L657.2 61.9L659.7 59.4L663.3 57.8M644.2 96.2L647 95.6L649.5 94.6L655.1 93.5L660 93.6"/>
</g>
<rect x="630.8" y="104" width="65.3" height="6.6" fill="#0b0b0b"/>
<text x="635.5" y="106.6" class="sb" textLength="38" lengthAdjust="spacingAndGlyphs">10.0kV 15.1mm x1.00k SE(M) 2/12/2013</text>
<text x="686" y="106.6" class="sb" textLength="7" lengthAdjust="spacingAndGlyphs">50&#956;m</text>
<g filter="url(#sb)">
<rect x="235.2" y="391.7" width="70" height="50.2" fill="#abafb4"/>
<path fill="#5c6065" d="M239.3 391.8L239.4 391.9L239.8 391.7L239.3 391.7ZM247.7 392.3L248.8 391.8L248.8 391.7L246.9 391.7L246.9 392ZM263.4 391.7L262.3 391.7L262.4 391.8L263.3 391.9ZM273.3 392.8L274.3 393.1L274.7 392.5L274.4 391.7L273.4 391.7ZM286.8 391.9L286.7 391.7L285.1 391.7L285.2 392L286 392.2ZM297.3 391.7L297.1 391.7L297.1 391.8ZM300.7 392.5L301.8 392.1L301.7 391.7L300 391.7ZM305.2 392.3L305.2 392.3L305.2 392.2ZM240 393L240.2 394.1L241.2 394.7L242 394.4L242.4 393.6L241.2 392.4ZM248.9 394.7L249.7 394.8L249.7 394.7L250.1 393L249.6 392.8L248.5 393.3ZM283.9 394.6L285.4 394.4L285.4 393.3L284.9 393.2L283.6 394.4ZM296.2 394.7L296.6 394.2L296.5 393.4L295.3 393.9L295.3 394ZM249.2 396.6L249.2 396L248.5 395.9L247.5 396.5L247.4 397.3L247.8 397.6ZM254.4 397.3L255.6 396.7L255.7 396L254 395.7L253.6 396.2ZM259.3 396.2L259.8 397.6L259.8 397.6L260.3 397.2L260.6 395.7ZM261.8 396L261.6 397.1L263.2 397.4L263.7 396.8L263.7 396.7L262.6 395.9ZM268.4 395.5L268.2 396.9L268.7 397.6L269.9 396.9L269.5 395.7L268.7 395.4ZM280.6 397.2L281.2 397.1L281.2 395.8L280 395.6L279.7 395.8L279.6 396.4ZM300 397L300.7 396.4L300.7 395.7L300.3 394.9L299.2 395.4L299.3 397ZM236 398.6L235.2 398.3L235.2 399.6L235.4 399.7L235.8 399.5ZM276.2 397.8L275.2 398.4L275.6 399.4L275.9 399.5L277.2 399.1L277 398.3ZM299.9 398.3L299.3 398.3L298.8 399.8L299.3 400.4L300.6 399.7ZM304.5 397.9L304.4 399.6L304.4 399.6L305.2 399.5L305.2 397.8L304.7 397.8ZM257.5 401.3L256.7 400.1L256.1 400.3L256.3 402L256.7 402.2ZM265.1 401.1L265 402L265.7 402.3L267.1 402.1L266.6 400.6L266.3 400.5ZM285.3 402.2L286.3 401.6L286.3 401.4L285.6 400.1L284.6 400.3ZM293.7 401.8L294.4 402.1L295 401.6L294.9 400.7L294.6 400.4L294.1 400.6ZM296.9 402.1L298.4 401.3L297.8 400.6L296.2 400.9L296.2 401.6ZM248.9 406.6L248.9 405.9L248.1 405.5L247.3 405.7L247.5 406.8L247.9 407ZM260.7 406.9L260.7 406.6L259.1 405.3L258.9 405.3L258.8 406.3L260.7 406.9ZM273.2 406.3L274.5 407.1L275.6 406.2L275.6 405.6L274.7 404.9L273.3 405.5ZM286.7 406.5L285.5 405.3L284.4 406.3L284.5 406.6L285.8 407.1L286.7 406.8ZM240.7 409.4L241 409.7L242.2 409.2L242.2 408.4L240.8 408.3ZM260.8 410.5L262.1 408.9L262 408.3L261.4 408L261.2 408.1L260.1 409.8ZM269.4 409.2L270.4 408.6L270.5 407.9L269.6 407.5L268.9 408.1L268.8 409ZM271.7 408.7L272.9 410L274 409.1L273.9 408.3L272.6 407.4L271.7 408ZM237.4 412.2L237 411.1L235.6 411.4L235.3 412L236.3 413.2ZM240.2 411.8L240.2 410.7L239.9 410.3L238.2 410.8L238.7 411.9L239.5 412.2ZM244.8 411.2L244.5 412.2L245.1 412.5L246.3 412.1L245.7 410.6ZM261.8 411.3L262.3 411.6L263.7 411L263.8 410.8L262.8 409.9ZM268 412L269.1 411.4L268.9 410.4L268.2 410.2L267.4 410.6L267.9 412ZM280.7 411.3L280.7 410.5L279.7 409.9L279.5 410L279.5 411.4L280.1 411.7ZM288.7 411.8L289.2 411.1L288.4 409.9L287.7 411.2L287.8 411.7ZM291.9 412.6L292.1 412.4L291.7 411.2L290.3 411.6L289.9 412.4ZM260.3 413L260.7 414.5L260.9 414.6L261.6 413.9L261.6 412.7L261 412.2ZM277.6 414.1L278.9 414.3L279.3 414.1L279.4 412.8L278.8 412.5L277.4 412.7ZM282.5 414.7L282.7 413.1L281.3 412.4L280.7 412.8L280.5 414.1L282 414.9ZM248.6 418L249.7 417.2L249 415.8L248.6 415.6L247.7 416.3ZM284.2 416.2L283.1 415.8L282.6 416L282.4 416.9L283.1 417.9L284.1 417.5ZM288.6 417.3L289 417.5L289.8 417.1L290 415.9L289.3 415.2L288 416ZM291.9 417.5L292.8 416.1L291.9 415.7L291.3 416.1L291.1 417.1ZM235.2 417.7L235.2 419.7L236.1 419.2L236.1 417.8L235.3 417.6ZM245.9 417.9L246.5 419.5L247.5 419.7L247.7 419.6L247.7 419.1L246.7 417.2ZM250.8 419.8L250.3 418.3L249 419.3L248.9 419.6L250.2 420.1ZM252.4 419.6L252.9 418.2L252.4 417.7L251.4 417.8L252 419.6ZM256.4 419.1L256.2 418.4L255.6 418.1L254.1 418.5L253.7 419.7L255.2 419.9ZM299.9 419.4L299.9 419.1L298.5 418L298 418.4L298.1 419.2L299.2 419.7ZM301.1 419.1L301.1 419.6L302 420.4L303.1 419.8L302.5 418L302.3 418ZM248.3 420.7L248.2 420.7L248 422.3L248 422.3L249.6 422.1L249.6 421.2ZM250.9 422.5L251.2 422.9L252.4 422.2L252.2 420.9L251.7 420.8L250.8 421.2ZM289.6 421.5L288.9 420.3L288.2 421L288.1 422.1L289.1 422.3L289.4 422.1ZM236 424.4L236.4 423L235.7 422.7L235.2 423.4L235.2 424.6ZM240.8 424.6L241.9 424.5L241.7 422.5L240.3 423.4L240.5 424.3ZM264.2 425.3L265 424.7L265 423.5L263.4 423.7L263.5 424.8ZM275.1 424.4L275.4 424.4L276 424.1L276 423.1L274.8 423.2ZM293.9 427.2L295.1 426.6L294.8 426.1L293.2 426.1L293.5 427ZM240.7 429.8L241.8 429.2L241.8 429.2L240.5 427.8L239.7 428.3L239.9 429.4ZM250.3 428.8L249.6 428.2L249.1 428.3L248.5 429.6L249.8 430.7L250.5 430ZM237.8 430.5L236.7 430.1L236.4 431.1L237.3 431.6ZM247.1 432.4L247.5 432.5L248.9 431.6L247.6 430.4L246.8 430.6ZM251.2 432.6L252.5 432.3L251.7 431L251.3 430.9L250.6 431.7ZM280.3 432.7L281 432L281.1 430.7L280.6 430.3L279 431.7ZM287.2 430.7L287.3 431.4L288.8 432.4L289.3 431.9L289 430.4L288.9 430.3ZM290.5 431.6L290.8 431.7L292.2 431.2L292.3 430.7L291.3 430.1L290.3 430.5ZM237.9 433.4L237.1 434.9L237.3 435.1L238.9 434.1L238.8 433.6ZM240.2 434.1L240.9 435L242.2 434.4L242.2 433.9L240.5 433L240 433.4ZM254.4 434.3L255.2 434.5L255.8 434L255.5 432.9L255.1 432.6L254.3 433ZM260 433.5L259.9 434.2L261.7 434.6L262.1 434.3L261.1 432.6ZM272.5 434.3L272.8 434.7L273.9 434.3L273.9 433.7L272.7 433.3ZM247.5 437.7L248.1 438L249.1 436.8L249 436.3L248.3 436L247.3 436.3ZM259 436.4L260.1 437.2L261.2 436.8L261.2 435.7L259.5 435.3L259.2 435.5ZM286.2 435.4L285 435.9L285 436.1L286 437.3L287 436.8L287.3 435.6ZM245.7 439.6L247.3 439.7L247.6 439.3L247.6 439.1L246.7 438.7L246 438.7ZM256.2 440L256.6 439.8L256.3 438.2L255.8 438.1L254 438.6L254.2 439.5ZM260.6 438.4L260.5 439.5L261.4 439.8L261.9 439.6L261.6 438ZM272.5 437.4L272.3 437.5L272.1 439.3L273 439.9L273.8 439.3L274.1 438.3ZM289.2 438.8L289 439.8L289.6 440.1L291.2 439.2L291.3 438.7L290.5 438.4ZM294.7 439.8L294 438.8L292.8 438.5L292.5 438.7L292.4 439.5L292.9 440.1ZM274.3 440.5L273.5 441L273.5 441.1L274.1 441.9L275 441.9L275.2 441.2Z"/>
<path fill="#505459" d="M243.1 392.6L243.1 391.7L242.3 391.7ZM250.8 391.9L250.9 391.9L251 391.7L250.3 391.7ZM279.9 392.3L280.9 391.9L280.9 391.7L279.4 391.7ZM283.8 391.7L282.2 391.7L282.2 392.1L283 393.2L284 392.3ZM288 391.9L288.8 392.2L289.2 392L289.2 391.7L288 391.7ZM292 391.9L292.2 391.8L292.2 391.7L290.4 391.7L290.4 391.8ZM266.9 393L266.2 393.6L266.3 394.1L267.8 394.5L267.9 394.4L267.8 393.5ZM279.2 394.6L279.2 393.3L278.4 392.5L278 392.8L278.4 394.3L279.2 394.7ZM288.3 393.4L287.4 393L286.6 393.3L286.7 394.7L287.1 395.3L288.3 394.4ZM304 394.5L304.4 395L305.2 393.9L305.2 393.8L304.3 393.2L304.3 393.2ZM237.2 397.3L237.3 396.1L236.2 395.7L235.2 396.5L235.2 396.9L236.7 397.5ZM238.7 397.5L240.5 396.9L240.5 395.7L239.6 395.2L238.5 396L238.4 397.4ZM246.3 396.4L245.6 395.9L244.5 396.3L244.6 397L245.2 397.5L246.2 397.1ZM270.7 395.4L271.2 396.7L272.2 397.3L272.5 397.2L272.7 396.3L271.1 395.1ZM286.3 396.3L285.8 395.6L284.7 395.8L285 396.4L286.2 396.6ZM237.7 400.2L238.4 399.7L238.1 398.6L237.7 398.4L237.3 398.6L237.1 399.7ZM246.6 398.3L245.6 398.7L245.2 399.9L246.2 400.1L247.4 399.3L247.2 398.8ZM262.7 398.6L261 398.3L260.7 398.5L260.8 398.9L262 399.5L262.6 399.2ZM302.4 399.7L303.1 399.4L303.3 398L301.5 397.4L301 397.8L301.9 399.5ZM236.1 402.5L236.9 402.2L237 401.2L236.3 400.7L236 400.7L236.1 402.4ZM251 402.7L252 401.5L251.8 400.8L251 400.4L249.9 400.8L249.7 402ZM254.9 400.4L254.1 400L253 400.7L253.2 401.2L254.2 401.9L255 401.8ZM289.3 401L287.5 401.8L287.5 401.9L288.5 402.9L289.9 401.3L289.9 401.2ZM235.2 403.5L235.2 405.1L235.4 405.2L235.5 405.1L235.5 403.5L235.3 403.5ZM252.8 402.5L251.8 403.7L251.8 404.4L252.4 404.8L253 404.6L253.3 402.8ZM256.2 403.3L255.5 403L254.5 403.1L254.2 404.7L255 405.1L256.3 403.5ZM258.6 404.1L258.9 404L259.8 402.8L258.7 402L258.5 402L257.5 403.1L257.5 403.3ZM268 403.6L267.7 403.3L266.2 403.5L266.1 404.8L266.8 404.9L268 404.1ZM296.4 404.2L296.2 403.2L295.6 402.7L295.1 403.1L294.7 404.5L296.1 404.5ZM241 407L242.7 407.2L243 407L243 406.5L242 405.7L240.9 405.9ZM257.7 405L257 404.5L255.9 406L256 406.5L257.1 406.8L257.5 406.4ZM278.3 406.2L277.3 405.5L276.9 405.7L276.8 406.3L277.6 406.9L278.2 406.8ZM280.4 406.9L280.4 406L279.6 406.4L279.4 407.1L279.7 407.5ZM281.7 406.9L282.5 407.5L283.3 406.9L283.1 406.4L282.2 405.6L281.6 405.7ZM291.7 407.2L292.6 406.6L292.9 405.6L291.7 404.7L290.6 405.2ZM301.2 407L301.2 405.8L300.1 405.1L299.8 407.1L300.1 407.3ZM304 406.3L304.1 405.4L303.8 405.2L302.4 405.9L302.4 407L303.1 407.3ZM239.5 409.1L239.5 408.4L237.7 408.3L237.9 409.6ZM247.7 409.1L247.4 408.1L247.1 408L246.3 408.9L246.3 409.4ZM258.2 407.5L257.9 407.7L258.2 408.6L259.2 409L259.8 408ZM294.1 409.6L294.3 408.6L293.2 407.7L292.3 408.3L292.5 410ZM305.2 409.7L305.2 407.6L304.8 407.3L303.9 408.3L304.1 409.3L304.9 409.9ZM250.5 410.7L250.3 411.4L251.3 412.4L252.3 412L251.9 410.8L250.7 410.6ZM266.1 410.8L266.1 410.8L265 411.2L264.8 411.5L265.6 412.9L266.7 412.2ZM278.2 411.3L278.2 410.2L277.4 410.1L277 410.4L277.3 411.5ZM293 411.2L293.3 412.2L294.7 412.6L295.1 412.4L295.1 411.5L294.5 410.8ZM303.5 410.3L301.9 411.2L301.7 412.1L302.7 412.5L304.2 410.9ZM238.8 413.3L238.3 413.1L237.2 414L238.2 415.1L238.8 414.7ZM247.1 413.1L245.8 413.6L246.2 414.7L247 415.2L247.8 414.6L247.7 413.3ZM253 413.2L252.9 413.1L251.7 413.5L251.7 414.1L252.6 414.4L252.6 414.3ZM269.1 414.1L270.7 414.4L270.8 414.4L270.8 412.9L269.9 412.5L268.7 413ZM274.9 413.1L274.7 414.2L275.8 414.9L276.4 414.3L276.2 413ZM301 415.1L301.4 415.3L302.5 414.1L302.3 413.7L301.2 413.3ZM235.3 415.8L235.5 416.3L236.7 416.6L237.5 416.1L237.5 416.1L236.2 414.8ZM253.2 416.7L253.8 417.3L254.9 417L254.7 416.1L253.3 415.5ZM237.9 417.3L237.4 417.6L237.4 419.1L238.5 419.5L239.2 418.8ZM265.2 418.4L264.3 418.1L264.1 418.2L263.6 419.6L264.2 419.9L265.3 419ZM278.8 417.7L277.4 418.1L277.5 418.6L279 419.4L279 419.4L279.3 418.1ZM291.4 418.6L290.4 418.2L289.6 418.5L289.6 419.1L290.5 420.6L291.7 420.1ZM296.9 419.5L296.8 418.7L295.7 418.5L295.5 418.7L295.4 420L296 420.5ZM240.9 421.1L239.8 419.9L239.3 420.5L239.3 422L239.7 422.4L241 421.5ZM239.1 423.5L238.5 423L237.6 423.2L237.3 424.5L238 424.9L239.2 424.3ZM256 423.5L255.6 423.4L254.9 423.8L254.9 424.2L255.5 425.1L256.2 424.7ZM267.9 425.1L267.6 423.4L266.8 423.2L266.3 423.4L266.2 424.7L267.3 425.6ZM270.7 424.1L269.6 423L268.9 423.3L269.1 424.8L269.7 424.9ZM273.2 425.1L273.9 424.7L273.5 423L272.3 424.2ZM296.9 424.5L296.1 423.4L295.7 423.6L295.7 425.3L296.1 425.9ZM236.1 427.5L237.1 427L237.3 425.9L236.5 425.5L235.5 425.9L235.5 427.2ZM254.3 427.2L254.6 427L254.7 426.1L254.1 425.2L253.1 425.8L253.7 427ZM269.4 426.1L268.8 426L268 426.7L268 427.3L268.9 427.7L269.7 427.5ZM277 427.7L277.3 427.4L277.6 425.7L276.7 425.2L276.2 425.4L276.5 427.5ZM299 425.2L298 425.1L297.1 426.7L297.9 427.4L298.6 427.1ZM303.7 427.3L303.7 426L302.7 425L302.2 425.3L302.4 426.6ZM305.2 427.2L305.2 426L305 426.1L304.9 427.2ZM245.6 429.9L245.2 429L243.8 428.6L243.1 429.3L243 429.4L243.8 430.2ZM261.6 430.1L261.7 428.8L260.2 429L259.8 429.6L261.4 430.3ZM272.1 428.7L273.4 430.3L273.7 430.1L273.5 428.5L273 428.2L272.1 428.7ZM243 431.1L242.3 430.4L241.3 430.9L241.1 431.9L242.6 432.7L243 432.2ZM245.9 432.5L245.7 431.1L244.2 431.4L244.2 432ZM253.8 431.9L254.6 431.4L254.6 431.1L254.1 430.1L252.9 430.7ZM259 431.9L259.4 432.3L260.7 431.4L259.1 430.7ZM297.4 430.7L296.9 431.1L296.7 432L297.9 432.8L298.4 432L298.2 431.3ZM246.6 433.6L246.1 434.9L246.7 435.2L247.6 434.9L247.1 433.7L246.7 433.5ZM281.9 434.6L283.2 434.5L283.1 433.8L281.6 433.1L280.9 433.7ZM284.5 434.7L285.5 434.4L285.3 433.1L284.7 433.1L284.3 433.6ZM301.4 434.2L302.6 434.7L302.7 434.6L302.9 434L301.9 432.5L301.5 433ZM263.7 436.7L263.3 435.3L263 435.1L262.5 435.5L262.5 436.8ZM270.1 436.3L271.6 436.5L271.9 436.3L271.9 435.7L271.5 435.1L269.7 435.6ZM292.1 435.5L290.4 435.9L291 437.2L291.9 437.7L292.1 437.5L292.4 435.6ZM303.1 435.8L302.9 436.6L303.9 438L304.7 437.3L303.9 436L303.3 435.8ZM239.3 438.3L238 438.1L238 438.1L237.6 439.5L238.4 440.3L239.7 439.8ZM252.4 441L253 439.9L252.8 438.5L252.2 438.5L251.6 439.8ZM275.1 439.5L276.1 440.3L277.3 440.3L277.5 440L277.3 438.8L275.3 438.5ZM302.1 437.6L301.3 438.1L301.4 439.7L301.4 439.7L303.1 439.2L303.1 439.1ZM254.1 441.9L255.1 441.9L255.4 441.1L254 440.8L253.5 441.5ZM256.5 441.9L257.8 441.9L257.6 441L257.3 440.8L256.8 441.1ZM259.1 441.9L260.5 441.9L260.7 440.9L259.9 440.5L258.8 441ZM267.8 441.3L267.7 441.9L269.4 441.9L269 440.6ZM280.2 441.6L280.4 440.8L280.1 440.6L278.5 440.7L278.4 440.9L278.6 441.4ZM295 441L293.3 441.3L293.3 441.8L293.8 441.9L294.8 441.9ZM302 440.8L302.1 441.9L304.2 441.9L304.1 441.1L303.4 440.4Z"/>
<path fill="#565a5f" d="M245.7 392.2L245.7 391.7L244.3 391.7L244.4 392.6L245.3 392.6ZM252.2 392.1L253.4 392.9L254.4 392L254.3 391.7L252.4 391.7ZM303.9 392L304 391.7L303 391.7L303.1 391.9L303.7 392.1ZM235.4 394.7L235.2 394L235.2 394.9ZM236.6 394.5L237.8 395L238.9 394.2L238.7 392.9L238.5 392.7L236.2 392.9ZM245.1 394.8L245 393.9L243.9 393.8L243.6 393.9L243.2 394.7L243.9 395.2ZM297.9 394L298.5 394.4L299.9 393.6L299.9 393.5L298.9 392.3L297.7 392.9ZM250.4 396.8L251.1 397.6L251.8 396.5L250.4 395.9ZM256.8 397L257.5 397.9L258.5 397.6L258 396.2L257.1 395.7L257 395.8ZM275.5 395.9L274.8 395.3L273.9 396.3L273.7 397.2L274.3 397.4L275.6 396.7ZM278.5 395.7L277.9 395.4L276.8 395.9L276.8 396.7L277.5 397.1L278.3 396.3ZM282.4 395.6L282.5 397.3L282.8 397.7L283.8 396.8L283.2 395.7L282.8 395.3ZM296.7 396.5L298 396.8L297.9 395.5L297.4 395.2L296.8 395.8ZM305.1 396.1L305.1 396.5L305.2 396.6L305.2 396ZM244.4 398.4L243.9 398.1L242.5 398.7L242.5 398.9L244 399.7ZM270.4 399.7L271.4 398.9L271.5 398.3L270.7 397.9L269.1 398.8ZM295.4 399.4L295.7 399.7L297.6 399.3L298 398.1L296.2 397.7L295.5 398.1ZM243.6 400.9L241.9 400L241.2 400.8L241.3 401.5L242.8 402.1L243.3 401.9ZM244.6 402.2L245.5 403L246.1 402.2L245.8 401.3L244.8 401.1ZM271.2 402.2L272.5 401.3L272.5 401L271.8 400.1L271.1 400.8L270.9 402.1ZM276.4 400.7L276.2 401.6L277.9 402.1L277.8 400.2ZM279.4 400.3L279 400.4L279.2 402.1L279.9 402.3L281.2 401.2L281.2 401ZM304.1 401.9L303.7 400.7L303.6 400.6L302.9 400.8L302.6 402.4L303.5 402.9ZM240.5 404.8L241.7 404.5L242 403.1L240.9 402.7L239.9 403.8L240 404.4ZM246.3 404.4L246.7 404.6L247.7 404.3L248.1 402.9L247.2 403L246.2 404.1ZM273 404.2L274.1 403.7L274.2 403L273.2 402.4L272.2 403ZM239.1 405.7L238.5 407.1L239.7 407.2L239.7 405.7L239.4 405.5ZM252.9 405.9L252.8 406.5L254 407.9L254.8 406.9L254.6 406.3L253.5 405.7ZM289 405.5L288 406.5L287.9 407L288.6 407.7L290.4 407.4L289.3 405.5ZM295.1 407.6L296.5 407.4L296 405.8L294.1 405.8L293.9 406.7ZM298.9 405.1L297.3 405L297.1 405.3L297.7 406.9L298.6 406.8ZM249.9 408.2L249.4 407.7L248.6 408L249 409.2L249.9 409.6ZM252.1 407.5L251.2 408.3L251.2 409.4L252.3 409.6L253.3 408.9ZM281.2 409.4L281.9 408.8L281.9 408.6L281.1 408L280.3 408.6L280.3 408.8ZM286.3 408.2L285.9 409.6L286.8 410.2L287.7 408.6L287 407.9ZM302.7 408.5L301.8 408.1L300.6 408.5L300.6 409.2L301.4 410L302.8 409.3ZM241.5 411.8L242.7 412.5L243.3 412.2L243.5 411.1L242.7 410.4L241.5 410.8ZM258.6 410.1L257.8 409.8L256.7 410.9L256.9 411.9ZM244.5 413.6L243.8 413.3L243.3 413.6L243.2 414.1L243.6 415L244.9 414.6ZM248.9 413.1L249.1 414.5L249.4 414.6L250.4 414.2L250.5 413.3L249.6 412.5ZM263.8 412.3L262.8 412.8L262.8 413.7L264.3 414.1L264.6 413.9ZM273.7 412.8L272.9 411.9L272 412.8L272 414.2L272.1 414.2L273.5 414ZM290.8 414.9L291.2 414.6L291.4 413.8L290 413.7L290 414.2ZM261.1 418.6L261 419L262.2 419.7L262.3 419.6L262.9 418.1L261.9 417.6ZM268.1 419.2L267.6 418.3L267.1 418.1L266.5 418.3L266.5 419.1L267.1 420ZM303.7 417.8L304.3 419.5L304.7 419.6L304.9 419.5L305.2 417.8L304.5 417.4ZM244.8 421.8L245.3 422.7L246.8 422.1L246.9 420.9L246.1 420.7L245 421.2ZM263.9 421.1L262.9 420.7L262.8 420.8L262.5 422.3L262.9 422.5L264.4 422.3ZM281.3 420.9L279.6 420.4L279.6 420.5L279.3 421.4L280 422.4L281.4 422.1ZM282.8 420.4L282.5 420.7L282.7 422.3L282.7 422.3L284.5 422.1L284.4 421.2ZM301.1 421.2L300.4 420.6L299.7 420.8L299.3 421.9L299.8 422.2ZM303.2 422.7L304.7 422.1L304.4 420.8L304 420.8L302.6 421.5ZM244.4 423.7L243.7 422.6L243 422.6L243.2 424.5L243.9 424.7L244.2 424.6ZM247.6 424.4L247.2 423.2L247.2 423.2L245.6 424L245.4 424.7L246.8 425.4ZM259.3 423.5L258.5 422.7L257.2 423.3L257.5 424.5L258.8 424.9L259.1 424.7ZM280.3 423.6L280 424.6L280.8 425L281.8 424.3L281.9 423.3ZM283 424.4L283.9 425.1L285.2 424.2L285.2 423.5L285 423.3L283.1 423.5ZM288.7 424.7L288.6 423.5L287.5 423.3L286.5 423.6L286.4 424.3L287.5 425.8ZM297.9 423.8L299.1 423.9L299.1 423.3L298.4 422.7L297.3 422.9ZM301.4 424.3L302.2 423.8L302.3 423.6L301.6 422.4L300.4 423.3L300.3 424.2ZM239.9 426.6L240 425.6L239.8 425.4L238.5 426L238.3 427.1L239 427.3ZM280.1 428L280.6 427.2L280.3 426.1L279.2 425.6L278.8 425.7L278.6 427.4ZM283.2 426.2L282.3 425.4L281.5 426L281.7 426.7L283.1 426.6ZM238.5 428.5L237.7 428.1L236.8 428.6L236.9 428.9L238.6 429.5L238.6 429.4ZM247.9 427.8L247.2 427.2L246.3 428.5L246.7 429.4L247.3 429.2ZM255 429.1L255.5 430.1L257 429.4L256.6 428.4L255.3 428.1L255 428.3ZM265.2 429.5L265.2 429.2L263.8 428.3L262.9 428.7L262.9 430L263.8 430.4ZM270.9 428.8L270.3 428.6L269.4 428.9L269.3 430.2L269.9 430.7ZM274.8 428.6L274.9 430.1L275.4 430.2L276.2 429.8L276.3 428.8L275.8 428.5ZM279.9 429.3L279.9 429.2L278 428.5L277.6 428.7L277.5 430L278.2 430.7ZM282.7 429.6L282.8 427.9L281.6 428L281.1 428.8L281.2 429.1L282 429.8ZM286.5 428.2L286.5 429.4L286.7 429.6L288.4 429.1L288.3 428.3L287.4 427.3ZM289.7 429.3L290.9 428.9L291 428.5L290.4 428L289.6 428.4L289.7 429.3ZM292.1 429.1L293 429.7L293.4 429.4L293.4 428.3L293.1 428.2L292.2 428.7ZM300.5 429.8L299.1 428.2L298.3 428.5L298.1 429.7L298.9 430.3ZM302.2 429.7L302.5 429.5L302.9 428.4L301.7 427.7L300.6 428L301.9 429.6ZM263.5 432.4L263.3 431.6L262.3 431.1L262 431.4L262 431.6L263 433.3ZM271 431.4L272.1 432.1L272.5 431.1L271.6 430.1ZM283.5 432.6L283.7 432.3L283.3 430.8L283.3 430.8L282.4 431L282.2 432ZM285.7 430.4L284.6 430.7L284.9 431.8L285.6 431.9L286 431.5L285.9 430.6ZM299.6 431.6L300.7 432L301.5 431.2L301.6 430.8L299.5 431.4ZM302.7 431.4L303.7 433L304.7 432.2L304.7 431.9L302.9 430.7L302.8 430.8ZM264.5 433.2L263.9 434.2L264 434.2L265.1 434.2L265.5 433.3ZM266.2 434.7L266.9 435.4L268.1 434.8L267.9 434L266.9 433.4ZM271.3 433.9L271.5 433.1L270.2 432.5L269.1 433.7L269.3 434.4ZM276.3 433.8L275.4 433.5L275.2 433.6L275.2 434.4L275.8 435.1L276.5 434.7ZM288.1 433.5L286.7 432.6L286.5 432.7L286.7 434.2L287.9 434.4ZM289.4 433.5L289.2 434.6L289.5 434.8L291.2 434.4L290.4 432.9L290.2 432.8ZM255.1 437L254.9 435.7L254 435.5L253.8 435.8L253.6 437.4ZM256.4 437L256.7 437.1L257.8 436.3L257.9 435.5L256.6 434.9L256.1 435.4ZM300 435.5L300.1 436.7L300.7 437L301.7 436.4L301.9 435.8L300.7 435.3ZM257.5 438.1L257.8 439.7L258.2 439.9L259.3 439.4L259.4 438.2L258.3 437.5ZM286.4 438.5L286.3 439.5L287.1 439.8L287.8 439.7L288 438.6L287.4 438ZM244.7 441.2L245.9 441.9L246.7 441.9L246.9 440.9L245.1 440.8L244.7 441.1ZM291.6 440.4L290.3 441.1L290.3 441.9L292.1 441.9L292 441.1ZM297.7 441.5L297.7 440.6L297.6 440.5L296.3 440.8L296.1 441.9L297.4 441.9ZM299.4 441.9L300.8 441.9L300.7 440.8L300.6 440.7L299 440.9L298.9 441.5Z"/>
<path fill="#44484d" d="M255.6 391.9L257.2 392.9L257.9 392.2L257.9 391.9L257.7 391.7L255.6 391.7ZM266.2 392L266.2 391.7L264.7 391.7L264.6 392L265.4 392.6ZM267.4 391.9L268.2 392.3L268.7 391.7L267.4 391.7ZM271.8 392.8L272.1 392.7L272.2 391.7L271.1 391.7ZM275.8 391.9L277.1 391.9L277.4 391.7L275.8 391.7ZM294.7 392.8L295.9 392.3L295.5 391.7L293.6 391.7L293.5 391.9ZM247 395.4L247.7 395L247.2 393.4L246.5 393.2L246.2 393.5L246.3 394.9ZM257.9 394L257.7 394.6L258.5 395.1L260.1 394.6L260 394L258.6 393.2ZM263.5 395L264.2 395.5L265.1 394.5L265 393.7L264 393.1ZM269.1 393.2L269.2 394.3L269.9 394.5L270.6 393.9L270.8 393.5L269.9 392.1ZM277.1 394.4L276.9 393.2L275.7 393.2L275.2 394L275.2 394.1L276.2 394.8ZM243.2 396.3L242.3 395.6L241.7 395.8L241.7 397.1L242 397.6L243.3 397ZM241.2 398.5L240.9 398.1L239.4 398.6L239.7 399.5L240.4 399.8L241.2 399ZM248.6 399.1L249.5 399.6L250.5 399.3L250.5 398.9L249.7 397.8L248.5 398.7ZM254.7 398.9L255.5 399.3L256.5 398.8L256.5 398.7L256 397.9L254.8 398.5ZM259.6 399.2L259.4 398.8L259.2 398.7L257.7 399.2L257.7 399.2L258.6 400.7ZM264.9 398L264.5 397.8L264 398.3L263.8 399.4L264.6 400L265.5 399.5ZM267 399.4L267.9 398.7L267.9 398.5L267.3 397.7L266.2 398L266.7 399.3ZM284.8 397.6L283.5 398.8L283.5 399L283.9 399.1L285.5 398.9L285.9 397.8ZM286.6 399.4L287.3 400.5L288.5 400L288.1 398.7L287.1 398.3ZM289.3 398.5L289.7 399.8L290.3 400.1L290.9 399.6L290.8 398.5L290 398ZM292 398.4L292.1 399.3L293.5 399.4L294.2 399.2L294.2 398.1L293.2 397.4ZM269.7 402.1L269.8 400.8L268.5 399.8L267.9 400.3L268.4 402.3L268.8 402.5ZM282.5 400.9L282.4 401.3L283.7 402.4L284 402.4L283.3 400.3L283.1 400.2ZM305.1 400.8L305.2 401.2L305.2 400.8ZM236.7 404.7L238.4 404.7L238.8 404.4L238.7 404L237.4 403.3L236.7 403.6ZM250.5 403.9L249.4 403.2L248.9 404.5L249.5 404.8L250.6 404.4ZM261.1 405.3L262.1 403.8L261.4 403.3L260.9 403.3L260.2 404.5ZM271.8 404.7L270.9 403.4L270.3 403.2L269.3 403.7L269.2 404.3L269.3 404.5ZM280.8 403.2L281.4 404.4L282 404.4L282.7 403.2L281.8 402.4ZM293.8 403.2L293 402.9L292.4 403.3L292.4 403.7L293.5 404.5ZM303.1 404.2L301.9 403.4L300.7 403.9L300.7 404L301.8 404.8ZM246 405.7L245.8 405.5L244.3 406.6L244.2 407L245.5 407.8L246.2 407ZM262.5 407.2L263.8 406.6L264 405.9L262.9 404.9L261.9 406.4L262 406.9ZM236.7 409.9L236.5 408.3L235.7 407.9L235.2 408.3L235.2 409.8L235.4 410.2ZM264.7 410L265.3 409.7L265.1 408.4L264.3 407.8L263.2 408.2L263.4 408.7ZM267.6 409.1L267.6 408.2L267 407.9L266.3 408.3L266.6 409.6ZM276.2 407.4L275.2 408.2L275.2 408.9L276.2 409.4L276.7 409.1L276.8 407.8ZM279 408.5L278.5 408L278 408.1L277.9 408.9L278.7 409L279 408.8ZM290.2 410.4L291.2 410L291.1 408.6L289.2 408.9ZM259.5 411L258.5 412.1L259.4 412.1L260 411.4ZM284.9 410.7L284.6 411.9L286.4 412.2L286.6 412L286.5 411.5L285.1 410.6ZM258.8 414.8L259.4 414.6L259.2 413.4L257.4 413.2ZM298.6 415L298.9 415.4L299.8 415.1L299.9 413.3L298.9 413.2L298.4 413.6ZM239.5 415.7L238.7 416.3L238.7 416.4L240 417.8L240.8 417.4L240 415.8ZM255.9 415.8L256.2 417L256.7 417.2L257.6 416.4L257.9 415.7L256.8 414.4ZM260.2 415.7L259.1 416.1L258.9 416.6L260.4 417.5L261 416.7L260.7 415.8ZM275.2 416.3L275.2 416L273.9 415.2L273 415.3L273.9 417ZM277.2 415.3L276.5 416L276.4 416.4L276.9 416.9L278.4 416.6L278.4 415.5ZM303.3 415L302.3 416.1L302.6 416.8L302.9 416.9L303.9 416.3L303.9 415.3ZM241.6 419.9L242.5 419.2L242.4 418.2L241.8 418.2L240.6 418.9ZM273.1 420.3L273.6 419.9L273.4 418.4L271.9 418.9L271.7 419.7ZM282.3 418.9L281.5 417.8L280.5 418.3L280.3 419.3L281.7 419.7L282.2 419.3ZM285.3 419.1L284.7 418.6L283.5 419.1L283.5 419.3L284.8 420L285.2 419.5ZM257.9 421.6L257.8 420.8L257 420.1L256 420.9L256.1 422.3L256.4 422.3ZM261.2 422.2L261.5 420.7L260.4 420.1L259.1 420.8L259.2 421.7L260.1 422.6ZM269.7 420.5L268.9 420.1L267.5 421.2L267.4 422L268.1 422.2L269.3 421.8ZM298.1 421.5L298.4 420.7L297.7 420.4L296.7 421.6L296.7 421.7ZM248.6 423.5L248.7 423.9L250.3 424L250.3 423.9L249.9 423.3ZM261.1 425.3L262.3 424.7L262.2 423.5L261.8 423.3L260.5 423.8L260.3 424.7ZM305.2 424.5L305.2 423.3L303.5 424L303.5 424L304.4 425ZM246.2 426.4L244.7 425.7L244.6 425.8L244.4 427.4L245.3 427.7ZM252.4 427.2L251.8 426.1L251.2 425.8L250.5 427.3L251 427.7ZM259.4 426L259.3 426.3L260.2 427.7L261.2 427.6L260.6 426.4L259.7 425.8ZM274.2 427.4L275.2 427.3L275 425.6L274.8 425.6L273.7 426.2L273.6 427.1ZM285.7 425.4L284.4 426.3L284.4 426.7L285.7 427.2L286.5 426.5ZM235.7 429.3L235.5 428.6L235.2 428.4L235.2 430.8ZM258.3 429.2L258.5 429.3L259.1 428.4L258.5 427.4L257.8 428ZM305.2 430.7L305.2 428.5L304.4 428.3L304.2 428.5L303.7 429.7ZM276.7 431L276 431.3L276 432.4L276.6 432.6L277.5 431.7ZM293.6 430.8L293.4 431.5L294.6 432.7L295.4 431.9L295.6 431.1L294.1 430.5ZM243.5 433.7L243.5 434.4L244.3 435L244.8 434.8L245.3 433.6L243.8 433.2ZM292.6 434.4L293 434.5L293.8 433.9L293.8 433.8L292.6 432.4L291.7 432.7ZM304 434.7L304.3 434.9L305.2 434.5L305.2 433.4L304.1 434.2ZM275 436L274.4 435.4L273.1 435.9L273.2 436.3L274.7 437.2ZM276.3 436.3L275.9 437.3L277.6 437.6L278.3 437L278 436L277.3 435.7ZM279.5 436.7L280.1 436.9L280.6 436.8L281 435.5L280.2 434.8L279.3 435.7ZM236.4 439.1L236.6 438.4L235.2 438.3L235.2 439.5ZM243.7 438.3L243.5 439.7L244.1 440L244.4 439.8L244.8 438.3L244.2 437.8ZM248.8 439.2L249.3 439.5L250.5 439.3L250.9 438.2L249.9 437.7L248.8 439ZM270.9 439L271 437.7L270.1 437.6L269.7 438.7L269.8 439.1ZM278.5 438.5L278.6 439.4L279.6 439.4L279.4 438L279.1 437.9ZM297.1 439.3L297.1 438.5L296.3 437.5L295.2 438.3L296.1 439.6ZM238.8 441.5L238.7 441.7L238.9 441.9L240.3 441.9L240.1 441ZM250.6 440.6L250.1 440.7L250.4 441.4L251.3 441.5ZM283.7 441.3L283.8 440.9L282.7 440.3L281.6 440.9L281.5 441.9L282.9 441.9Z"/>
<path fill="#4a4e53" d="M260.5 392.8L261.2 392.2L260.9 391.7L259.3 391.7L259.1 391.8L259.1 392.1ZM254.2 393.9L254.3 394.5L256.3 394.8L256.5 394.6L256.6 394L255.1 393ZM262.2 393L261.3 393.8L261.5 394.6L261.5 394.7L262.3 394.7L262.7 393.1ZM271.9 394.1L273.3 395.2L274 394.3L274 394.3L272.6 393.9L271.9 394ZM281.3 393.1L280.4 393.5L280.5 394.5L281.6 394.6L282.2 394.2ZM291.5 394.7L291.5 393.1L290 393L289.6 393.3L289.6 394.4L290.2 394.9ZM301.1 393.9L301.6 394.7L302.8 394.3L303 393.2L302.6 393.1L301.1 393.7ZM288.5 397.5L289.4 396.9L289.4 395.9L289 395.5L287.5 396.5L287.4 397.1ZM291.9 395.9L290.6 396.1L290.6 396.9L291.3 397.3L292.5 396.4ZM294.9 397L295.4 396.6L295.6 395.8L294.8 395.2L293.8 396.2ZM302 396.2L303.8 396.9L303.9 396.9L303.8 396.2L303.2 395.5L302 395.9ZM251.7 398.8L251.7 399.4L252.3 399.7L253.5 398.9L253.6 398.2L252.8 397.2ZM278.3 398.2L278.5 399.2L278.5 399.2L279.1 399.1L279.7 398.1L279 397.5ZM247.1 401L247.3 401.7L248.5 401.7L248.7 400.6L248.1 400.3ZM260.8 402.1L261.1 402.1L261.3 400.6L260.5 400.2L259.8 401.2ZM263.8 401L263.1 400.4L262.5 400.6L262.3 402.4L262.7 402.7L263.7 402ZM273.8 401.2L273.8 401.3L274.8 401.9L275 401.8L275.1 400.5L275.1 400.5ZM291.1 401.2L291.9 402.1L292.4 401.8L292.8 400.6L291.7 400.5L291.1 401ZM300.5 402.7L301.3 402.3L301.6 400.8L301.4 400.7L299.8 401.5ZM264.8 405L264.9 403.4L264.4 403.1L263.4 403.7ZM276.8 404.3L277.3 403.2L275.7 402.8L275.5 403L275.4 403.8L276.4 404.6ZM278.1 404.6L279.1 405.2L280.2 404.8L279.6 403.6L278.7 403.3ZM283.9 403.7L283.2 404.9L283.7 405.2L284.8 404.2L284.7 403.5ZM291.2 403.6L291.2 403.2L290.5 402.4L289.2 403.9L289.3 404.3L289.6 404.3ZM305.1 402.7L304.4 403.9L304.5 404.1L304.8 404.4L305.2 404.3L305.2 402.7ZM236.4 405.9L236.3 406.2L236.3 406.8L237.1 407.2L237.1 407.2L237.6 405.9ZM251.6 406.3L251.7 405.8L251.2 405.5L250.1 405.9L250.2 406.7L250.6 407.1ZM266.3 406.8L266.3 406.1L265.5 406L265.3 406.2L265.1 406.8L265.6 407.3ZM268.4 405.4L267.6 405.9L267.6 406.8L268.1 407.1L268.7 406.5L268.4 405.4ZM270 406.3L271.1 406.9L272 406.3L272 405.9L269.8 405.8ZM243.6 408.1L243.5 408.2L243.4 409.4L244.3 410.1L245.1 409.6L245 409ZM255.9 409.8L257 408.8L256.7 408L255.8 407.7L254.8 408.9ZM285 408.1L284.1 407.8L283.2 408.6L283.2 408.8L284.4 409.6L284.6 409.4ZM295.8 410.4L296.6 409.8L296.4 408.7L295.5 408.8L295.3 409.9ZM297.9 409.6L298.4 409.9L299.3 409.2L299.3 408.3L299 408L297.6 408.1ZM248.4 410.3L247 410.6L247.6 412L248.1 412.2L249 411.3L249.2 410.6ZM255.4 411L254 409.9L253.2 410.5L253.6 412.1L253.9 412.3L255.6 412ZM296.4 411.6L296.4 412.3L297.6 412.6L298.1 412.3L297.9 411L297.4 410.8ZM299.1 410.8L299.3 412L300.5 412.1L300.5 412.1L300.6 411L299.9 410.3ZM242 413.7L242 413.5L240.9 412.9L240.1 413.3L240 414.6L240.4 414.7ZM254.1 413.5L253.9 414.4L255 414.9L256.1 413.3L256.1 413.2ZM267.3 414.9L267.9 414.4L267.5 413.1L266.1 414ZM284 413L283.9 413.1L283.7 414.7L284.8 415.2L285.8 414.8L285.9 413.4ZM287.2 413.2L287.1 415L287.2 415L288.8 414.1L288.7 413.1L288.7 413.1L287.5 412.9ZM292.7 413.6L292.5 414.6L293.7 415.1L294.1 415L294.2 413.8L292.9 413.4ZM305.1 414L305.2 412.7L304.8 412.1L303.5 413.4L303.7 413.8L304.5 414.2ZM242.6 415.8L242.3 415L241.3 415.6L242 417L242.4 416.9ZM252 416.5L252.1 415.5L251.1 415.3L250.3 415.6L250.8 416.7ZM262.3 416.4L263.7 417L263.7 417L263.8 415.2L262.4 414.9L261.9 415.4ZM270 416.2L270.1 415.6L268.8 415.3L268 416L267.8 417L268.1 417.2ZM272.7 417.3L271.6 415.4L271.5 415.4L271.4 415.4L271.2 416.5L271.7 417.6ZM293.4 417.5L294.7 417.8L294.9 417.6L294.5 416.3L294.5 416.2L294.1 416.3ZM298 416.3L297.8 416L295.8 416.4L296.1 417.3L297.2 417.5L297.9 416.9ZM301.1 416.5L300.3 416.2L299.3 416.6L299.2 417L300.4 418L301.4 417.1ZM305.1 416.3L305.2 416.4L305.2 415.3L305.1 415.3ZM243.8 419.1L244.6 420L245.3 419.7L244.7 418.3L243.6 418.2ZM270.7 418.4L270.3 417.5L268.9 418.1L269.3 418.9L270.4 419.5ZM274.8 419.5L275.4 419.6L276.3 418.8L276.1 417.9L275.7 417.4L274.6 418.1ZM287.5 419.9L288.4 419L288.4 418.6L288.1 418.4L286.5 419.2L286.5 419.4ZM236.1 421.5L237.2 422L238 421.8L238 420.7L236.8 420.3L235.9 420.7ZM242.4 421.4L243.6 421.3L243.7 420.9L243.1 420.3L242.2 421L242.2 421.4ZM253.6 422.2L254.4 422.7L254.9 422.4L254.8 421.1L253.5 420.9ZM266.2 422.1L266.3 421L265.8 420.2L265.1 420.8L265.8 422.2ZM270.5 422.2L271.5 423.2L272.8 422L272.7 421.4L271 420.7ZM275.7 421.9L275.2 420.8L274.5 420.8L273.9 421.2L274 421.8L274.2 422ZM278.3 420.4L277 419.8L276.4 420.4L276.9 421.6L278.1 421.1ZM285.6 421L285.7 422.3L286 422.5L286.9 422.2L286.9 421.1L286 420.6ZM290.8 421.8L290.7 422.2L292.4 423L292.6 422.9L292.2 421.2ZM252.2 424.9L253.7 424L253.7 423.7L253 423.3L251.5 424.2L251.4 424.5ZM277.3 424.1L278.3 424.6L278.7 424.4L279.1 423.2L278.5 422.3L277.2 422.9ZM291.8 424.1L290 423.2L289.9 423.3L289.9 424.6L291.1 425.2L291.7 425ZM294.5 424.8L294.5 423.9L293.5 423.8L293.1 424.1L293 424.9ZM242.6 425.7L241.2 425.8L241.2 426.7L242.5 428.1L243.1 427.5L243.3 425.9ZM257 425.6L255.9 426.3L255.8 426.9L256.9 427.2L258.1 426.1L258.1 426ZM263.3 427.2L263.5 426.4L262.8 425.8L261.9 426.3L262.5 427.5ZM266.7 426.7L265.6 425.8L264.7 426.5L264.5 427.3L265.8 428.1L266.8 427.4ZM290 426.8L290.2 426.1L289.4 425.7L288.5 426.6L289.1 427.3ZM292.3 427.2L291.9 426.2L291.5 426.3L291.2 427.1L291.8 427.5ZM301.1 426.6L301 425.5L300.2 425.4L299.9 426.9ZM268.1 429.9L268.2 428.7L267.5 428.4L266.5 429.1L266.5 429.7L266.9 430.2ZM294.7 429.3L296.2 430L296.8 429.6L297.1 428.3L296.1 427.5L296 427.5L294.6 428.3ZM239.2 432.5L239.8 431.9L240 430.9L239.3 430.5L239.1 430.6L238.4 432.2ZM268.3 432.8L269.2 431.8L268.5 431.1L267.3 431.4L267.3 432.3ZM258.6 434.4L258.7 434.3L258.7 433.4L258.1 432.8L256.8 433.1L257 433.7ZM298.8 433.8L299 434.2L299.4 434.4L300.2 434.1L300.2 433.2L299.4 432.8ZM235.4 437.1L237 437.1L236.7 436.2L236.3 435.9ZM243.6 436.1L242.8 435.5L241.3 436.2L241.2 436.6L243 437.3L243.6 436.7ZM245.7 437.5L246.2 437.4L246.1 436.3L245.3 436L244.8 436.2L244.8 436.7ZM250.2 436.1L250.3 436.5L251.9 437.2L252.4 437.2L252.5 435.9L251 435.1ZM265.2 435.4L264.7 435.5L265.1 436.9L265.5 437.3L265.8 437.1L266.1 436.4ZM269.1 436.9L268.6 436L267.3 436.7L267.1 437.1L268.7 437.8ZM281.8 437.1L282.3 437.4L283.7 436.1L283.7 435.7L283.7 435.7L282.2 435.8ZM294.4 435.1L293.6 435.6L293.4 437.3L294.2 437.5L295.8 436.3L295.8 436.2ZM297.1 436.4L297.9 437.4L298.9 436.7L298.8 435.5L298.5 435.4L297.1 436.3ZM242.3 439.4L242.5 438.4L240.6 437.7L240.4 437.9L240.9 439.6ZM264.3 438L262.9 438L263.2 439.5L263.5 439.6L264.8 438.9L264.9 438.3ZM281.1 439.8L282 439.3L281.8 438.5L281 438L280.7 438.1L280.8 439.6ZM298.5 439.7L300.1 439.5L300.1 438.1L299.5 437.8L298.4 438.6L298.4 439.5ZM249.2 441.8L248.7 440.6L248.3 440.4L248.2 440.6L248 441.9L249.1 441.9ZM262.6 440.7L262 440.9L261.8 441.9L263.2 441.9L263 440.8ZM270.7 441.6L271.4 441.7L272.2 440.9L271.3 440.2L270.2 440.3ZM277.3 441.6L276.4 441.6L276.3 441.9L277.5 441.9ZM286.4 440.9L285.6 440.6L285 440.9L284.9 441.5L285.2 441.9L286.6 441.9Z"/>
<path fill="#62666b" d="M251 394.8L252.6 395.5L253.1 394.8L252.9 394.1L251.4 393.1ZM292.7 394.9L293 395.2L294 394.1L294 393.8L292.8 393ZM264.9 396.6L264.9 396.6L265.5 396.9L267 396.5L267.1 395.6L266 395.4ZM273.9 398.6L273 398.3L272.7 398.4L272.6 399.1L273.3 400L274.3 399.5ZM280.4 399.3L281.7 399.8L282.3 399.3L282.2 398.9L281.7 398.3L280.9 398.5ZM239.1 402.8L240.1 401.8L239.9 401L239.2 400.7L238.2 401.3L238.1 402.3ZM243.7 403.1L243.3 403.2L242.9 404.8L243.7 405.5L245.1 404.5L245 404.3ZM287.9 404.1L286.7 402.8L285.9 403.2L286.1 404.1L287.4 405.4L288.1 404.6ZM299.5 403.6L298.9 402.5L297.5 403.2L297.6 403.8L299.4 403.9L299.5 403.8ZM270.4 411.3L271.3 411.8L272.1 410.9L270.9 409.8L270.2 410.2ZM274.7 411.9L276 411.7L275.7 410.5L274.8 410.1L273.7 411ZM282.5 409.9L281.9 410.4L281.9 411.3L283.3 412L283.3 411.9L283.6 410.6ZM235.3 413.9L235.2 413.8L235.2 414ZM297.3 414.8L297.2 413.8L295.8 413.4L295.4 413.7L295.3 415.2ZM245.6 415.8L243.8 416.3L243.6 417L245 417.1L246 416.1ZM266.7 416L265.2 414.9L265.1 415.1L265 417L265.8 417.3L266.5 417ZM281.3 416L279.8 415.2L279.6 415.3L279.6 416.8L280 417.1L281.2 416.6ZM287.3 417.5L286.7 416.2L286.3 416L285.4 416.3L285.4 417.6L286 418.1ZM258.2 417.6L257.4 418.2L257.6 419L258.5 419.7L259.8 419L259.8 418.6ZM292.9 420L294.2 419.7L294.2 419L292.7 418.7ZM294.9 422.6L295.6 422.2L295.5 421.7L294.6 420.9L293.5 421.2L293.8 422.6ZM248.9 427L249.3 427L250.1 425.3L248.6 425.2L247.9 426.1ZM271.4 427.7L272.3 427.1L272.4 426.1L271.5 425.1L270.6 425.8L270.9 427.5ZM251.9 429.8L253.7 428.9L253.7 428.4L253.2 428.2L251.6 428.8L251.7 429.7ZM285.2 429.3L285.2 428.4L284.1 427.9L284 429.6ZM255.9 431.4L255.8 431.6L256.2 431.9L257.8 431.6L257.9 430.4L257.8 430.4ZM266 431.2L265.7 430.7L264.5 431.4L264.7 431.9L266.1 432.1ZM274.5 432.6L274.7 432.5L274.8 431.3L274.4 431.2L273.7 431.5L273.4 432.2ZM236.8 432.8L235.6 432.1L235.5 432.1L235.2 433L235.2 433.8L236 434.3ZM250.3 433.5L249.6 432.6L248.4 433.4L248.9 434.9L249.4 435.1L250.2 434.1ZM253 434.7L253.2 434.6L253.1 433.4L251.5 433.8L251.5 434ZM277.5 433.5L277.7 434.5L278.4 434.8L279.6 433.7L278.3 432.7ZM297.7 434.4L297.6 434.1L296 433.1L295.1 433.9L295.1 434L296.5 435.1ZM238 436.1L238.2 436.8L239.5 437L239.9 436.6L240.1 435.9L239.5 435.2ZM288.2 437L288.8 437.6L289.7 437.3L289 435.9L288.6 435.7ZM266.4 438.2L266.2 438.4L266 439.1L267.2 440.1L268.6 439.4L268.5 439ZM283.1 438.4L283.2 439.2L284.5 439.8L285 439.5L285.2 438.3L284.3 437.2ZM304.3 439.3L304.3 439.4L304.9 440.1L305.2 440L305.2 438.5ZM237.6 441.2L236.7 440.3L235.4 440.7L235.9 441.8L236 441.9L237.1 441.9L237.4 441.6ZM241.3 440.8L241.5 441.9L243.2 441.9L243.5 441.4L243.5 441.1L242.7 440.6ZM264.3 440.7L264.5 441.9L266.5 441.9L266.5 441.1L265.3 440.1ZM289 441.2L288.3 440.8L287.7 441L287.8 441.9L289.1 441.9Z"/>
<circle cx="245" cy="427.8" r="1.6" fill="#5e6268"/>
<circle cx="301.7" cy="414.3" r="1.6" fill="#5e6268"/>
<circle cx="256.2" cy="399.2" r="1.6" fill="#5e6268"/>
</g>
<rect x="235.2" y="441.9" width="70" height="7.3" fill="#0b0b0b"/>
<text x="239.8" y="444.5" class="sb" textLength="20.4" lengthAdjust="spacingAndGlyphs">10kV 12mm x1.00k SE</text>
<text x="293.8" y="444.5" class="sb" textLength="7.2" lengthAdjust="spacingAndGlyphs">50&#956;m</text>
<g filter="url(#sb)">
<rect x="414.3" y="327.2" width="79.5" height="53.8" fill="#6c7075"/>
<path fill="#6c7075" d="M415.3 330.6L420.2 327.8L420.1 327.2L414.3 327.2L414.3 329.9ZM440.7 327.2L435.8 327.2L437.1 329.2L439.6 329.1L440.8 328.2ZM447.2 327.2L440.7 327.2L440.8 328.2L444.1 329.5L447.4 328.4ZM447.4 328.4L449.4 329.3L452.5 327.6L452.6 327.2L447.2 327.2ZM452.5 327.6L455.5 329.5L457.2 329.1L457.4 327.2L452.6 327.2ZM472.1 328.6L472.2 328.9L475.5 330.2L477.9 327.2L472.8 327.2ZM430.5 333.1L434.3 332.5L434.9 330.8L431.2 327.5L428.9 330.2L429.1 331.7ZM447.4 335.5L449.9 332.2L449.4 329.3L447.4 328.4L444.1 329.5L444.3 334.3ZM479.8 333L483.1 334.8L486.7 332.9L485.9 328.4L485.3 327.9L481.4 328.4ZM414.5 336.5L414.5 336.2L414.3 336.1L414.3 336.6ZM414.5 336.2L414.5 336.5L417.9 339.5L420.3 338.5L419.6 333.6L416.3 333.5ZM447.5 335.9L449.9 338.2L453.1 338.2L452.9 333.9L449.9 332.2L447.4 335.5ZM454.4 339.2L457.2 338.2L457.6 334.4L455.1 332.7L452.9 333.9L453.1 338.2ZM476.7 339.3L482.6 339.2L483.2 338.3L483.1 334.8L479.8 333L479.7 333L476.4 338.9L476.6 339.3ZM430.4 344.3L431.7 342.7L432.3 338.6L430.1 336.9L426.9 337.8L427.4 342.9ZM489.7 343.7L492.3 342L492.6 339.8L488.9 338.4L488.7 338.6L487.7 342.8ZM493.8 343.6L493.8 339.3L492.6 339.8L492.3 342ZM458.5 343.9L454.2 341L453.2 342.9L454 346.3L454.6 346.6L456.1 346.5ZM465.6 349L468.6 347.1L467.4 343.7L465 343L462.3 344.8L462.5 346.4ZM468.6 347.1L470.4 347.2L472.8 345.6L472.8 344.1L469.8 341.5L467.4 343.7ZM483.5 342.8L479.5 345.6L479.4 345.8L482 349L486.1 348.4L485.9 343.8ZM443 351.1L443.8 347.5L442.3 346.1L437.7 346.9L437.5 347.3L438.2 351.6L439.6 352.3ZM454.6 346.6L454 346.3L449.5 348.7L449.7 351.1L451.7 353.3L455.1 351.3ZM456.1 346.5L454.6 346.6L455.1 351.3L458.9 351.9L459.3 349.1ZM482 349L479.4 345.8L475.8 347.4L475.6 351.5L477.4 352.6L481.4 350.6ZM485.6 354.8L487.1 350.6L486.8 348.9L486.1 348.4L482 349L481.4 350.6L483.5 354.5ZM487.1 350.6L491.9 352.9L493 352L493 347.7L491.8 347.3L486.8 348.9ZM424.7 355.2L428.5 356.2L428.6 356.1L430.6 352.2L426.6 350.3L424.1 353.2ZM445 356.9L445.5 353L443 351.1L439.6 352.3L440.5 357.1ZM473.8 357L473 352.6L471.6 352.4L468.6 353.7L468 356.9L470.8 359.7L471.1 359.7ZM477.3 357.1L478.4 355.3L477.4 352.6L475.6 351.5L473 352.6L473.8 357ZM485.9 355.2L490.8 355.5L491.9 352.9L487.1 350.6L485.6 354.8ZM493 352L491.9 352.9L490.8 355.5L492.3 359L492.6 359L493.8 357.9L493.8 352.4ZM428.5 356.2L428.3 360.9L430.5 362.1L433.4 360.8L434.2 357.8L428.6 356.1ZM439.8 357.9L439.9 360.4L441.4 362.5L445 362.5L445.2 357.1L445 356.9L440.5 357.1ZM453 356.4L452 355.5L448.7 357.5L449.3 361.5L452.1 363.1L453.7 361.4ZM477.3 357.1L473.8 357L471.1 359.7L474.5 362.4L478.2 360.6ZM480.5 361.6L481.9 361.1L481.7 355.7L478.4 355.3L477.3 357.1L478.2 360.6ZM424.2 363.7L423.9 362.5L419.1 363L418 366.4L422 368.4ZM445.7 364.6L445.2 362.7L445 362.5L441.4 362.5L439.9 366L444.5 366.3ZM455.7 367.4L458.5 366.5L458.9 362.7L458.2 361.6L453.7 361.4L452.1 363.1L452 365.8ZM474.5 362.4L474.4 366L477.4 367.2L479.6 366.5L480.5 361.6L478.2 360.6ZM479.6 366.5L482.1 368.1L484.7 366.6L484.8 361.5L481.9 361.1L480.5 361.6ZM493.8 365.8L493.8 359.7L492.6 359L492.3 359L489.8 361.7L490.7 364.5L491.9 365.9ZM450.3 367.2L445.7 364.6L444.5 366.3L444.4 370.7L444.9 370.8L449.8 368.8ZM451.9 372.9L455.3 371.6L455.7 367.4L452 365.8L450.3 367.2L449.8 368.8ZM414.6 370.2L414.7 375L416.3 375.8L419.4 374.7L420.1 372.8L416.2 369ZM420.1 372.8L419.4 374.7L421.9 376.8L424.4 376.4L425.4 370.9L423 370.4ZM432.1 375.6L435.9 375L435.9 371.6L433 368.7L429.4 371.6L430.6 374.8ZM470.3 376.2L473.7 374.2L473.7 372.5L471.5 370.4L467.8 371.9L467.5 374.8ZM427 380.2L429.2 381L431.3 381L432.5 378.9L432.1 375.6L430.6 374.8L427 378ZM437.7 376L435.9 375L432.1 375.6L432.5 378.9L436.9 381L438.2 379.4ZM451.8 373.3L449 376.4L449.1 377.2L451.2 379.6L455.4 379.1L455.3 376.5ZM451.2 379.6L449.1 377.2L445.9 380.1L446 381L451 381ZM456.2 379.5L455.4 379.1L451.2 379.6L451 381L456.4 381ZM469.1 381L475 381L475.4 379.3L471.2 379.2Z"/>
<path fill="#64686d" d="M420.2 327.8L422.1 330.1L425.8 328.2L425.9 327.2L420.1 327.2ZM457.2 329.1L459.6 329.9L461.7 327.2L457.4 327.2ZM489.2 327.5L492.5 330.8L493.8 330L493.8 327.2L489.5 327.2ZM414.5 336.2L416.3 333.5L415.3 330.6L414.3 329.9L414.3 336.1ZM424.5 333.9L429.1 331.7L428.9 330.2L425.8 328.2L422.1 330.1L422.1 331.8ZM437.1 329.2L434.9 330.8L434.3 332.5L436.2 335.6L439.6 333L439.6 329.1ZM457.2 329.1L455.5 329.5L455.1 332.7L457.6 334.4L460.7 332.5L459.6 329.9ZM459.6 329.9L460.7 332.5L463.8 334L465.6 333L466 328.9L463 327.2L461.7 327.2ZM471.1 331.9L473.3 335.1L476.3 331.7L475.5 330.2L472.2 328.9ZM419.6 333.6L420.3 338.5L422.3 338.8L425 336.9L424.5 333.9L422.1 331.8ZM425 336.9L426.9 337.8L430.1 336.9L430.5 333.1L429.1 331.7L424.5 333.9ZM439.6 333L436.2 335.6L436.2 337.2L437.9 338.7L441.9 336.7L442.5 335.2ZM442.5 335.2L441.9 336.7L444.4 340.2L447.5 335.9L447.4 335.5L444.3 334.3ZM479.7 333L476.3 331.7L473.3 335.1L473.2 337L476.4 338.9ZM414.5 336.5L414.3 336.6L414.3 342.8L415.4 343.2L417.4 341.9L417.9 339.5ZM441.9 336.7L437.9 338.7L438.3 340.7L442.8 342.3L444.4 341.2L444.4 340.2ZM476.7 339.3L479.5 345.6L483.5 342.8L482.6 339.2ZM415.4 343.2L415.4 346L416.9 347.6L419.4 347.4L420.1 343.9L417.4 341.9ZM424.2 343.6L423.4 343.1L420.1 343.9L419.4 347.4L421 348.7L424 347.3ZM430.5 345.1L430.4 344.3L427.4 342.9L424.2 343.6L424 347.3L426.4 349.1ZM442.8 342.3L442.3 346.1L443.8 347.5L447.8 347L448.2 343L447.8 342.5L444.4 341.2ZM453.2 342.9L448.2 343L447.8 347L449.5 348.7L454 346.3ZM472.8 344.1L472.8 345.6L475.8 347.4L479.4 345.8L479.5 345.6L476.7 339.3L476.6 339.3ZM485.9 343.8L486.1 348.4L486.8 348.9L491.8 347.3L489.7 343.7L487.7 342.8ZM491.8 347.3L493 347.7L493.8 347.2L493.8 343.6L492.3 342L489.7 343.7ZM424 347.3L421 348.7L421 351.8L424.1 353.2L426.6 350.3L426.4 349.1ZM426.6 350.3L430.6 352.2L431.7 351.8L432.5 347.3L430.5 345.1L426.4 349.1ZM438.2 351.6L437.5 347.3L432.5 347.3L431.7 351.8L434.5 353.4ZM458.9 351.9L459.2 352.4L462.1 353.2L465.6 350.9L465.6 349L462.5 346.4L459.3 349.1ZM421 351.8L418.7 353.1L420 357.4L422.9 357.7L424.7 355.2L424.1 353.2ZM434.2 357.8L434.6 357.3L434.5 353.4L431.7 351.8L430.6 352.2L428.6 356.1ZM445.2 357.1L448.7 357.5L452 355.5L451.7 353.3L449.7 351.1L445.5 353L445 356.9ZM459.2 352.4L457.4 356.1L459.2 358.8L463.5 357.6L462.1 353.2ZM481.4 350.6L477.4 352.6L478.4 355.3L481.7 355.7L483.5 354.5ZM422.9 357.7L424.3 361.8L428.3 360.9L428.5 356.2L424.7 355.2ZM445 362.5L445.2 362.7L449.3 361.5L448.7 357.5L445.2 357.1ZM428.3 360.9L424.3 361.8L423.9 362.5L424.2 363.7L427.3 366.8L430.4 364.3L430.5 362.1ZM430.4 364.3L433.3 367.7L436.5 365.9L435.7 362.6L433.4 360.8L430.5 362.1ZM463.1 362.8L465 366.3L468.2 364.8L468.5 362.9L464.2 360.5ZM423 370.4L425.4 370.9L427.1 370.5L427.3 366.8L424.2 363.7L422 368.4ZM433.3 367.7L433 368.7L435.9 371.6L439.7 369.1L439 366.8L436.5 365.9ZM455.3 371.6L457.9 373L460.3 370.4L460.1 367.8L458.5 366.5L455.7 367.4ZM467.8 371.9L471.5 370.4L472.1 367.6L468.2 364.8L465 366.3L465 366.4L466.1 370.7ZM439.7 369.1L435.9 371.6L435.9 375L437.7 376L441.2 374L442.2 371.3ZM458 373.5L461.2 377.1L462.2 376.6L462.9 371.8L460.3 370.4L457.9 373ZM473.7 374.2L476 377.8L480 375.2L479.9 373.1L477.3 371.4L473.7 372.5ZM485.7 372.2L482.2 370.8L479.9 373.1L480 375.2L483 377.2L486.4 375.5ZM488.6 375L491.6 371.2L490.8 369.9L487.7 370L485.7 372.2L486.4 375.5L486.5 375.5ZM416.6 380.6L416.3 375.8L414.7 375L414.3 375.1L414.3 381L415.9 381ZM421.5 379.4L421.9 376.8L419.4 374.7L416.3 375.8L416.6 380.6L417.6 381L420.3 381ZM443.3 376.5L441.2 374L437.7 376L438.2 379.4L441.6 380.4L443 379.3ZM436.9 381L432.5 378.9L431.3 381L436.9 381ZM461 377.8L456.2 379.5L456.4 381L462 381Z"/>
<path fill="#74787d" d="M425.8 328.2L428.9 330.2L431.2 327.5L431.3 327.2L425.9 327.2ZM466 328.9L467.9 327.2L463 327.2ZM481.4 328.4L485.3 327.9L485.3 327.2L480.2 327.2ZM485.9 328.4L489.2 327.5L489.5 327.2L485.3 327.2L485.3 327.9ZM466 328.9L465.6 333L466.6 333.3L471.1 331.9L472.2 328.9L472.1 328.6L468.2 327.2L467.9 327.2ZM475.5 330.2L476.3 331.7L479.7 333L479.8 333L481.4 328.4L480.2 327.2L477.9 327.2ZM460.7 332.5L457.6 334.4L457.2 338.2L460.1 339.4L463 337.6L463.8 334ZM470.2 337.9L466.6 333.3L465.6 333L463.8 334L463 337.6L465.4 339.6L469.5 339.1ZM473.2 337L473.3 335.1L471.1 331.9L466.6 333.3L470.2 337.9ZM488.7 338.6L488.9 338.4L489.3 334.4L486.7 332.9L483.1 334.8L483.2 338.3ZM437.2 342.7L438.3 340.7L437.9 338.7L436.2 337.2L432.3 338.6L431.7 342.7ZM444.4 341.2L447.8 342.5L449.9 338.2L447.5 335.9L444.4 340.2ZM454.2 341L454.4 339.2L453.1 338.2L449.9 338.2L447.8 342.5L448.2 343L453.2 342.9ZM458.5 343.9L460.5 343.2L460.1 339.4L457.2 338.2L454.4 339.2L454.2 341ZM469.8 341.5L472.8 344.1L476.6 339.3L476.4 338.9L473.2 337L470.2 337.9L469.5 339.1ZM462.5 346.4L462.3 344.8L460.5 343.2L458.5 343.9L456.1 346.5L459.3 349.1ZM419.4 347.4L416.9 347.6L415.4 351.9L416 352.7L418.7 353.1L421 351.8L421 348.7ZM449.7 351.1L449.5 348.7L447.8 347L443.8 347.5L443 351.1L445.5 353ZM471.6 352.4L473 352.6L475.6 351.5L475.8 347.4L472.8 345.6L470.4 347.2ZM415.4 351.9L414.3 351.6L414.3 355.8L414.8 355.6L416 352.7ZM455.1 351.3L451.7 353.3L452 355.5L453 356.4L457.4 356.1L459.2 352.4L458.9 351.9ZM435.7 362.6L439.9 360.4L439.8 357.9L434.6 357.3L434.2 357.8L433.4 360.8ZM481.7 355.7L481.9 361.1L484.8 361.5L485.9 360.9L485.9 355.2L485.6 354.8L483.5 354.5ZM489.8 361.7L492.3 359L490.8 355.5L485.9 355.2L485.9 360.9ZM492.6 359L493.8 359.7L493.8 357.9ZM471.1 359.7L470.8 359.7L468.5 362.9L468.2 364.8L472.1 367.6L474.4 366L474.5 362.4ZM490.7 364.5L489.8 361.7L485.9 360.9L484.8 361.5L484.7 366.6L486 367.2ZM418 366.4L417 367L416.2 369L420.1 372.8L423 370.4L422 368.4ZM427.3 366.8L427.1 370.5L429.4 371.6L433 368.7L433.3 367.7L430.4 364.3ZM460.3 370.4L462.9 371.8L466.1 370.7L465 366.4L460.1 367.8ZM477.3 371.4L479.9 373.1L482.2 370.8L482.1 368.1L479.6 366.5L477.4 367.2ZM414.7 375L414.6 370.2L414.3 370.1L414.3 375.1ZM492.6 376.9L493.7 375.2L493.8 373.9L493.8 372.4L491.6 371.2L488.6 375ZM493.7 375.2L493.8 375.2L493.8 373.9ZM426.2 381L426.3 381L427 380.2L427 378L424.4 376.4L421.9 376.8L421.5 379.4ZM467.3 380.4L465.9 376.5L462.2 376.6L461.2 377.1L461 377.8L462 381L466.1 381ZM467.3 380.4L468.6 381L469.1 381L471.2 379.2L470.3 376.2L467.5 374.8L465.9 376.5ZM488.7 379.7L486.5 375.5L486.4 375.5L483 377.2L482.8 380.9L482.9 381L483.9 381ZM421.5 379.4L420.3 381L426.2 381ZM427 380.2L426.3 381L429.2 381ZM467.3 380.4L466.1 381L468.6 381ZM475 381L478.6 381L475.7 379.1L475.4 379.3ZM482.8 380.9L482.3 381L482.9 381Z"/>
<path fill="#5c6065" d="M431.2 327.5L434.9 330.8L437.1 329.2L435.8 327.2L431.3 327.2ZM492.5 330.8L489.2 327.5L485.9 328.4L486.7 332.9L489.3 334.4L491.5 333.5ZM492.5 330.8L491.5 333.5L493.8 335L493.8 330ZM430.1 336.9L432.3 338.6L436.2 337.2L436.2 335.6L434.3 332.5L430.5 333.1ZM417.9 339.5L417.4 341.9L420.1 343.9L423.4 343.1L422.3 338.8L420.3 338.5ZM427.4 342.9L426.9 337.8L425 336.9L422.3 338.8L423.4 343.1L424.2 343.6ZM467.4 343.7L469.8 341.5L469.5 339.1L465.4 339.6L465 343ZM483.5 342.8L485.9 343.8L487.7 342.8L488.7 338.6L483.2 338.3L482.6 339.2ZM415.4 346L415.4 343.2L414.3 342.8L414.3 346.5ZM430.5 345.1L432.5 347.3L437.5 347.3L437.7 346.9L437.2 342.7L431.7 342.7L430.4 344.3ZM438.3 340.7L437.2 342.7L437.7 346.9L442.3 346.1L442.8 342.3ZM415.4 351.9L416.9 347.6L415.4 346L414.3 346.5L414.3 351.6ZM493.8 352.4L493.8 347.2L493 347.7L493 352ZM414.3 355.8L414.3 361.2L417.2 360.2L417.4 359.6L414.8 355.6ZM459.2 358.8L458.2 361.6L458.9 362.7L463.1 362.8L464.2 360.5L464.2 358L463.5 357.6ZM452 365.8L452.1 363.1L449.3 361.5L445.2 362.7L445.7 364.6L450.3 367.2ZM465 366.4L465 366.3L463.1 362.8L458.9 362.7L458.5 366.5L460.1 367.8ZM474.4 366L472.1 367.6L471.5 370.4L473.7 372.5L477.3 371.4L477.4 367.2ZM487.7 370L486 367.2L484.7 366.6L482.1 368.1L482.2 370.8L485.7 372.2ZM491.9 365.9L490.7 364.5L486 367.2L487.7 370L490.8 369.9ZM491.9 365.9L490.8 369.9L491.6 371.2L493.8 372.4L493.8 365.8ZM451.8 373.3L451.9 372.9L449.8 368.8L444.9 370.8L448.2 375.9L449 376.4ZM458 373.5L457.9 373L455.3 371.6L451.9 372.9L451.8 373.3L455.3 376.5ZM475.4 379.3L475.7 379.1L476 377.8L473.7 374.2L470.3 376.2L471.2 379.2ZM488.7 379.7L490.2 380.7L492.4 380L492.6 376.9L488.6 375L486.5 375.5ZM493.6 380.7L493.8 380.7L493.8 375.2L493.7 375.2L492.6 376.9L492.4 380ZM445.9 380.1L443 379.3L441.6 380.4L441.7 381L446 381ZM490.2 380.7L488.7 379.7L483.9 381L490 381Z"/>
<path fill="#7c8085" d="M472.1 328.6L472.8 327.2L468.2 327.2ZM422.1 330.1L420.2 327.8L415.3 330.6L416.3 333.5L419.6 333.6L422.1 331.8ZM444.1 329.5L440.8 328.2L439.6 329.1L439.6 333L442.5 335.2L444.3 334.3ZM452.9 333.9L455.1 332.7L455.5 329.5L452.5 327.6L449.4 329.3L449.9 332.2ZM491.5 333.5L489.3 334.4L488.9 338.4L492.6 339.8L493.8 339.3L493.8 335ZM465 343L465.4 339.6L463 337.6L460.1 339.4L460.5 343.2L462.3 344.8ZM465.6 349L465.6 350.9L468.6 353.7L471.6 352.4L470.4 347.2L468.6 347.1ZM416 352.7L414.8 355.6L417.4 359.6L420 357.4L418.7 353.1ZM439.6 352.3L438.2 351.6L434.5 353.4L434.6 357.3L439.8 357.9L440.5 357.1ZM463.5 357.6L464.2 358L468 356.9L468.6 353.7L465.6 350.9L462.1 353.2ZM423.9 362.5L424.3 361.8L422.9 357.7L420 357.4L417.4 359.6L417.2 360.2L419.1 363ZM457.4 356.1L453 356.4L453.7 361.4L458.2 361.6L459.2 358.8ZM468.5 362.9L470.8 359.7L468 356.9L464.2 358L464.2 360.5ZM417 367L418 366.4L419.1 363L417.2 360.2L414.3 361.2L414.3 365.3ZM436.5 365.9L439 366.8L439.9 366L441.4 362.5L439.9 360.4L435.7 362.6ZM414.6 370.2L416.2 369L417 367L414.3 365.3L414.3 370.1ZM444.4 370.7L444.5 366.3L439.9 366L439 366.8L439.7 369.1L442.2 371.3ZM427 378L430.6 374.8L429.4 371.6L427.1 370.5L425.4 370.9L424.4 376.4ZM444.9 370.8L444.4 370.7L442.2 371.3L441.2 374L443.3 376.5L448.2 375.9ZM467.5 374.8L467.8 371.9L466.1 370.7L462.9 371.8L462.2 376.6L465.9 376.5ZM448.2 375.9L443.3 376.5L443 379.3L445.9 380.1L449.1 377.2L449 376.4ZM455.4 379.1L456.2 379.5L461 377.8L461.2 377.1L458 373.5L455.3 376.5ZM478.6 381L482.3 381L482.8 380.9L483 377.2L480 375.2L476 377.8L475.7 379.1ZM441.6 380.4L438.2 379.4L436.9 381L436.9 381L441.7 381Z"/>
<path stroke="#2a2c30" stroke-width="2.2" stroke-linecap="round" opacity="0.55" d="M418.3 330.7h0M425.4 330.4h0M431.8 330h0M437.5 332.6h0M441.8 332.3h0M468.8 330.6h0M473.5 332h0M478 329.3h0M483.2 331.7h0M489.3 330.6h0M418.1 336.1h0M421.3 336.2h0M427.9 334.8h0M432.9 334.7h0M439.6 335.2h0M444.2 337.1h0M459.8 335.6h0M466.3 337.7h0M476.5 334h0M479.9 336.8h0M486.5 336.6h0M420.7 341.2h0M425.6 339.9h0M429 339.8h0M447.2 339.5h0M451 341.3h0M457.4 341.5h0M463 341h0M467.4 341.2h0M472.7 340.8h0M480.7 341.4h0M485.7 340.4h0M490.9 341.5h0M418 344.9h0M421.8 345.6h0M435.2 344.4h0M439.6 343.9h0M445.3 344.7h0M450.5 345.4h0M456.3 343.9h0M466.2 345.6h0M469 344.5h0M476.2 344h0M483.1 345.7h0M488.8 346h0M418 349.8h0M429.8 349.3h0M441.2 348.9h0M453.2 349.7h0M456.5 348.9h0M462.2 349.9h0M472.5 349.2h0M478.5 350.1h0M484.3 351.8h0M489.8 350.4h0M437.8 354.9h0M442.7 353.6h0M447.6 355.2h0M456.1 354.1h0M460 355.6h0M465.1 354.3h0M474.9 354.9h0M480.9 353.7h0M426 357.8h0M431.2 358.7h0M437 360.3h0M451.3 360h0M456.5 358.6h0M461.5 360.3h0M467.1 360.4h0M475.4 358.7h0M480.1 357.6h0M488.8 357.6h0M415.7 364h0M421.3 365.2h0M427 364.4h0M438.5 363.5h0M442.6 365.4h0M448.2 363.8h0M455.4 363.7h0M470.9 363.8h0M478 363.9h0M482.8 364.5h0M486.8 365.4h0M424.8 367.2h0M430.2 367h0M442.3 366.9h0M446.8 367.1h0M452.9 370h0M463.5 369h0M475.7 369.2h0M479.4 369.7h0M488.9 366.9h0M426 374.4h0M433.4 371.8h0M438.1 371.9h0M448.4 372.6h0M455.6 374.7h0M461.3 373.2h0M464.2 373.8h0M471.1 374.5h0M488.9 372.9h0M419.4 378.7h0M429.6 379h0M434.8 378.1h0M441.6 377.7h0M445.2 377.8h0M453.4 377h0M456.8 376.8h0M464.8 379.6h0M469 377.8h0M485.8 379h0M489.8 377.6h0"/>
<path stroke="#c0c2c6" stroke-width="0.9" stroke-linecap="round" fill="none" d="M493.8 380.7L493.6 380.7M415.4 343.2L414.3 342.8M486.7 332.9L485.9 328.4M445 362.5L445.2 357.1M452.6 327.2L452.5 327.6M457.2 329.1L457.4 327.2M460.7 332.5L457.6 334.4M479.8 333L481.4 328.4M470.8 359.7L468.5 362.9M489.3 334.4L488.9 338.4M482.8 380.9L482.3 381M473.7 374.2L473.7 372.5M475.6 351.5L477.4 352.6M481.4 328.4L480.2 327.2M473.3 335.1L471.1 331.9M443.3 376.5L443 379.3M435.9 375L437.7 376M444.4 370.7L442.2 371.3M433 368.7L429.4 371.6M491.8 347.3L486.8 348.9M493.7 375.2L493.8 373.9M483.2 338.3L482.6 339.2M489.7 343.7L487.7 342.8M479.5 345.6L476.7 339.3M479.5 345.6L483.5 342.8M474.4 366L477.4 367.2M471.5 370.4L473.7 372.5M477.3 357.1L478.2 360.6M479.9 373.1L482.2 370.8M458.5 343.9L454.2 341M420.1 343.9L423.4 343.1M438.3 340.7L442.8 342.3M444.4 341.2L444.4 340.2M447.5 335.9L449.9 338.2M437.2 342.7L431.7 342.7M465.6 349L468.6 347.1M465.4 339.6L465 343M414.7 375L414.6 370.2M416.6 380.6L417.6 381M464.2 358L463.5 357.6M465.6 350.9L462.1 353.2M467.3 380.4L465.9 376.5M434.6 357.3L434.2 357.8M451.7 353.3L449.7 351.1M459.2 352.4L458.9 351.9M428.5 356.2L424.7 355.2M434.3 332.5L430.5 333.1M430.5 345.1L430.4 344.3M423.4 343.1L424.2 343.6M425 336.9L426.9 337.8M449.9 332.2L447.4 335.5M447.5 335.9L447.4 335.5M487.7 370L485.7 372.2M419.6 333.6L422.1 331.8M460.3 370.4L457.9 373"/>
<path stroke="#c0c2c6" stroke-width="1.1" stroke-linecap="round" fill="none" d="M414.3 346.5L415.4 346M491.5 333.5L493.8 335M457.6 334.4L455.1 332.7M455.1 332.7L452.9 333.9M448.7 357.5L445.2 357.1M455.5 329.5L452.5 327.6M468.5 362.9L468.2 364.8M492.3 342L489.7 343.7M483 377.2L480 375.2M475 381L475.4 379.3M468 356.9L468.6 353.7M420 357.4L417.4 359.6M416 352.7L418.7 353.1M459.6 329.9L461.7 327.2M476.3 331.7L479.7 333M439.9 366L439 366.8M445 362.5L441.4 362.5M445.7 364.6L444.5 366.3M429.4 371.6L427.1 370.5M433 368.7L435.9 371.6M433.3 367.7L430.4 364.3M436.5 365.9L435.7 362.6M486.1 348.4L486.8 348.9M486.1 348.4L482 349M485.9 355.2L485.6 354.8M481.9 361.1L484.8 361.5M485.9 343.8L487.7 342.8M474.4 366L474.5 362.4M477.3 371.4L477.4 367.2M482.1 368.1L479.6 366.5M482.2 370.8L482.1 368.1M419.4 347.4L420.1 343.9M420.1 327.2L420.2 327.8M436.2 337.2L432.3 338.6M479.7 333L476.4 338.9M465.6 349L462.5 346.4M470.4 347.2L468.6 347.1M416.3 375.8L419.4 374.7M425.4 370.9L423 370.4M423.9 362.5L419.1 363M457.4 356.1L459.2 352.4M458.2 361.6L459.2 358.8M470.3 376.2L467.5 374.8M462.9 371.8L460.3 370.4M467.3 380.4L466.1 381M454.6 346.6L456.1 346.5M454 346.3L454.6 346.6M451.7 353.3L455.1 351.3M436.2 335.6L434.3 332.5M426.6 350.3L426.4 349.1M449.4 329.3L447.4 328.4M452.9 333.9L449.9 332.2M439.8 357.9L440.5 357.1M491.9 365.9L490.8 369.9M420.2 327.8L422.1 330.1M450.3 367.2L449.8 368.8M458.5 366.5L455.7 367.4M452.1 363.1L452 365.8M451.8 373.3L455.3 376.5"/>
<path stroke="#d0d1d4" stroke-width="0.9" stroke-linecap="round" fill="none" d="M415.4 346L415.4 343.2M489.5 327.2L489.2 327.5M489.3 334.4L491.5 333.5M457.2 338.2L454.4 339.2M449.3 361.5L448.7 357.5M455.5 329.5L455.1 332.7M492.6 376.9L492.4 380M465 366.3L463.1 362.8M493.8 347.2L493 347.7M478.4 355.3L477.3 357.1M414.3 355.8L414.8 355.6M490.2 380.7L488.7 379.7M436.9 381L438.2 379.4M439.7 369.1L439 366.8M430.6 374.8L427 378M427 380.2L427 378M481.4 350.6L483.5 354.5M481.7 355.7L483.5 354.5M483.5 342.8L482.6 339.2M417.4 341.9L417.9 339.5M414.5 336.2L416.3 333.5M442.3 346.1L437.7 346.9M447.8 347L443.8 347.5M436.2 337.2L437.9 338.7M432.3 338.6L431.7 342.7M441.9 336.7L442.5 335.2M466.6 333.3L470.2 337.9M468.6 347.1L467.4 343.7M465 343L462.3 344.8M469.8 341.5L467.4 343.7M415.9 381L416.6 380.6M420.1 372.8L423 370.4M419.1 363L418 366.4M422.9 357.7L424.3 361.8M458.2 361.6L453.7 361.4M460.3 370.4L460.1 367.8M458.9 362.7L458.5 366.5M431.7 351.8L434.5 353.4M454.6 346.6L455.1 351.3M449.7 351.1L449.5 348.7M434.2 357.8L428.6 356.1M435.8 327.2L437.1 329.2M437.1 329.2L439.6 329.1M437.5 347.3L437.7 346.9M449.4 329.3L449.9 332.2M447.4 335.5L444.3 334.3M443 351.1L445.5 353M445 356.9L440.5 357.1M486 367.2L487.7 370M493.8 372.4L491.6 371.2M488.7 379.7L486.5 375.5M422.1 330.1L422.1 331.8M455.3 371.6L451.9 372.9"/>
<path stroke="#c0c2c6" stroke-width="0.7" stroke-linecap="round" fill="none" d="M492.5 330.8L491.5 333.5M489.2 327.5L492.5 330.8M452.9 333.9L453.1 338.2M445.2 362.7L449.3 361.5M457.2 329.1L459.6 329.9M464.2 358L464.2 360.5M485.9 355.2L485.9 360.9M476 377.8L475.7 379.1M475.7 379.1L475.4 379.3M480 375.2L476 377.8M479.9 373.1L480 375.2M473 352.6L473.8 357M477.3 357.1L473.8 357M473.8 357L471.1 359.7M417.4 359.6L414.8 355.6M417.2 360.2L414.3 361.2M471.6 352.4L470.4 347.2M472.8 345.6L470.4 347.2M475.5 330.2L477.9 327.2M472.1 328.6L472.2 328.9M468.2 327.2L472.1 328.6M476.3 331.7L475.5 330.2M466.6 333.3L465.6 333M435.9 375L435.9 371.6M493.8 357.9L492.6 359M492.6 359L493.8 359.7M482 349L481.4 350.6M479.4 345.8L475.8 347.4M483.1 334.8L483.2 338.3M474.5 362.4L478.2 360.6M472.1 367.6L474.4 366M471.1 359.7L474.5 362.4M484.7 366.6L482.1 368.1M414.5 336.5L417.9 339.5M414.5 336.5L414.5 336.2M437.2 342.7L438.3 340.7M443.8 347.5L442.3 346.1M473.2 337L476.4 338.9M467.4 343.7L465 343M416.3 375.8L416.6 380.6M414.3 365.3L417 367M417 367L416.2 369M424.3 361.8L423.9 362.5M427.3 366.8L424.2 363.7M417 367L418 366.4M453 356.4L457.4 356.1M467.8 371.9L466.1 370.7M467.8 371.9L467.5 374.8M467.3 380.4L468.6 381M461 377.8L462 381M461.2 377.1L461 377.8M435.7 362.6L433.4 360.8M430.4 364.3L430.5 362.1M456.1 346.5L459.3 349.1M458.5 343.9L456.1 346.5M418.7 353.1L421 351.8M434.9 330.8L437.1 329.2M430.5 345.1L426.4 349.1M422.3 338.8L425 336.9M444.1 329.5L444.3 334.3M428.9 330.2L425.8 328.2M430.5 333.1L429.1 331.7M445.7 364.6L450.3 367.2M444.9 370.8L449.8 368.8M449.1 377.2L449 376.4"/>
<path stroke="#b0b2b6" stroke-width="0.9" stroke-linecap="round" fill="none" d="M489.3 334.4L486.7 332.9M415.4 346L416.9 347.6M485.9 328.4L485.3 327.9M485.3 327.9L481.4 328.4M493.8 375.2L493.7 375.2M493 347.7L493 352M492.3 359L489.8 361.7M490.8 355.5L485.9 355.2M473.7 374.2L470.3 376.2M460.7 332.5L463.8 334M463 337.6L463.8 334M479.7 333L479.8 333M471.1 331.9L472.2 328.9M432.5 378.9L436.9 381M452.1 363.1L449.3 361.5M445.9 380.1L443 379.3M441.4 362.5L439.9 366M427.3 366.8L430.4 364.3M441.4 362.5L439.9 360.4M487.1 350.6L486.8 348.9M491.9 352.9L487.1 350.6M479.4 345.8L482 349M478.4 355.3L481.7 355.7M484.8 361.5L484.7 366.6M448.2 343L447.8 342.5M447.8 347L449.5 348.7M417.9 339.5L420.3 338.5M416.9 347.6L419.4 347.4M414.3 336.6L414.5 336.5M442.3 346.1L442.8 342.3M447.8 342.5L444.4 341.2M472.8 345.6L472.8 344.1M462.3 344.8L462.5 346.4M465.6 350.9L465.6 349M414.3 375.1L414.7 375M423.9 362.5L424.2 363.7M417.2 360.2L419.1 363M423 370.4L422 368.4M457.4 356.1L459.2 358.8M465 366.4L466.1 370.7M437.5 347.3L432.5 347.3M437.5 347.3L438.2 351.6M438.2 351.6L434.5 353.4M484.7 366.6L486 367.2M458.9 351.9L459.3 349.1M419.4 347.4L421 348.7M430.6 352.2L426.6 350.3M426.6 350.3L424.1 353.2M421 351.8L424.1 353.2M440.7 327.2L440.8 328.2M452.5 327.6L449.4 329.3M443.3 376.5L448.2 375.9M491.6 371.2L488.6 375M483 377.2L486.4 375.5M425.8 328.2L422.1 330.1M458 373.5L457.9 373M451.9 372.9L449.8 368.8M451.8 373.3L449 376.4M448.2 375.9L449 376.4"/>
<path stroke="#d0d1d4" stroke-width="0.7" stroke-linecap="round" fill="none" d="M489.2 327.5L485.9 328.4M445 362.5L445.2 362.7M416.9 347.6L415.4 351.9M455.5 329.5L457.2 329.1M486.7 332.9L483.1 334.8M483.1 334.8L479.8 333M493.7 375.2L492.6 376.9M465 366.3L468.2 364.8M468 356.9L464.2 358M492.6 339.8L488.9 338.4M492.6 339.8L492.3 342M414.8 355.6L416 352.7M460.1 339.4L463 337.6M472.8 327.2L472.1 328.6M475.5 330.2L472.2 328.9M452 355.5L448.7 357.5M453 356.4L453.7 361.4M443.3 376.5L441.2 374M441.6 380.4L443 379.3M432.1 375.6L435.9 375M432.1 375.6L432.5 378.9M444.5 366.3L444.4 370.7M441.2 374L442.2 371.3M439 366.8L436.5 365.9M492.3 359L492.6 359M488.9 338.4L488.7 338.6M479.6 366.5L480.5 361.6M472.1 367.6L471.5 370.4M423.4 343.1L422.3 338.8M415.4 343.2L417.4 341.9M415.3 330.6L414.3 329.9M420.2 327.8L415.3 330.6M473.2 337L470.2 337.9M465.4 339.6L463 337.6M414.3 370.1L414.6 370.2M424.4 376.4L421.9 376.8M463.5 357.6L462.1 353.2M458.9 362.7L463.1 362.8M462.2 376.6L465.9 376.5M465 366.3L465 366.4M461.2 377.1L462.2 376.6M434.2 357.8L433.4 360.8M424.3 361.8L428.3 360.9M493.8 365.8L491.9 365.9M424.7 355.2L424.1 353.2M431.7 351.8L430.6 352.2M431.3 327.2L431.2 327.5M424.2 343.6L424 347.3M424 347.3L426.4 349.1M426.9 337.8L427.4 342.9M444.1 329.5L447.4 328.4M442.5 335.2L444.3 334.3M440.8 328.2L444.1 329.5M444.4 370.7L444.9 370.8M439.6 352.3L440.5 357.1M449.7 351.1L445.5 353M445.2 357.1L445 356.9M428.9 330.2L429.1 331.7M455.7 367.4L452 365.8M449.1 377.2L451.2 379.6"/>
<path stroke="#d0d1d4" stroke-width="1.1" stroke-linecap="round" fill="none" d="M457.6 334.4L457.2 338.2M485.3 327.2L485.3 327.9M493.8 352.4L493 352M489.8 361.7L485.9 360.9M493 347.7L491.8 347.3M476 377.8L473.7 374.2M475.4 379.3L471.2 379.2M479.9 373.1L477.3 371.4M477.4 352.6L478.4 355.3M468.6 353.7L471.6 352.4M470.8 359.7L471.1 359.7M432.5 378.9L431.3 381M490.2 380.7L490 381M482.8 380.9L482.9 381M437.7 376L441.2 374M441.7 381L441.6 380.4M435.9 371.6L439.7 369.1M445.2 362.7L445.7 364.6M429.4 371.6L430.6 374.8M427 378L424.4 376.4M429.2 381L427 380.2M433.3 367.7L436.5 365.9M427.3 366.8L427.1 370.5M490.8 355.5L491.9 352.9M485.6 354.8L483.5 354.5M477.4 352.6L481.4 350.6M481.9 361.1L481.7 355.7M488.7 338.6L483.2 338.3M486.1 348.4L485.9 343.8M479.6 366.5L477.4 367.2M468.2 364.8L472.1 367.6M454.4 339.2L454.2 341M449.9 338.2L447.8 342.5M420.1 343.9L417.4 341.9M438.3 340.7L437.9 338.7M476.4 338.9L476.6 339.3M421.5 379.4L420.3 381M419.4 374.7L420.1 372.8M424.2 363.7L422 368.4M462.9 371.8L462.2 376.6M471.5 370.4L467.8 371.9M456.2 379.5L456.4 381M433.4 360.8L430.5 362.1M489.8 361.7L490.7 364.5M490.7 364.5L486 367.2M428.5 356.2L428.6 356.1M422.9 357.7L424.7 355.2M434.9 330.8L431.2 327.5M432.3 338.6L430.1 336.9M430.1 336.9L430.5 333.1M430.1 336.9L426.9 337.8M447.2 327.2L447.4 328.4M444.9 370.8L448.2 375.9M491.6 371.2L490.8 369.9M492.6 376.9L488.6 375M429.1 331.7L424.5 333.9M431.2 327.5L428.9 330.2M452 365.8L450.3 367.2M457.9 373L455.3 371.6"/>
<path stroke="#b0b2b6" stroke-width="0.7" stroke-linecap="round" fill="none" d="M454.4 339.2L453.1 338.2M470.3 376.2L471.2 379.2M471.6 352.4L473 352.6M417.2 360.2L417.4 359.6M475.8 347.4L475.6 351.5M466 328.9L463 327.2M471.1 331.9L466.6 333.3M488.7 379.7L483.9 381M452 355.5L453 356.4M452.1 363.1L453.7 361.4M439.9 366L444.5 366.3M432.1 375.6L430.6 374.8M439.9 360.4L435.7 362.6M487.1 350.6L485.6 354.8M485.9 360.9L484.8 361.5M476.7 339.3L482.6 339.2M481.9 361.1L480.5 361.6M460.1 339.4L460.5 343.2M460.5 343.2L458.5 343.9M454.2 341L453.2 342.9M448.2 343L447.8 347M422.3 338.8L420.3 338.5M437.9 338.7L441.9 336.7M441.9 336.7L444.4 340.2M436.2 335.6L439.6 333M439.6 333L442.5 335.2M472.8 344.1L476.6 339.3M476.7 339.3L476.6 339.3M473.3 335.1L473.2 337M468.6 353.7L465.6 350.9M460.5 343.2L462.3 344.8M427 380.2L426.3 381M421.9 376.8L419.4 374.7M426.2 381L421.5 379.4M420.1 372.8L416.2 369M459.2 352.4L462.1 353.2M467.5 374.8L465.9 376.5M458.5 366.5L460.1 367.8M434.6 357.3L439.8 357.9M434.5 353.4L434.6 357.3M439.6 329.1L440.8 328.2M434.9 330.8L434.3 332.5M427.4 342.9L424.2 343.6M443.8 347.5L443 351.1M487.7 370L490.8 369.9M486.4 375.5L486.5 375.5M424.5 333.9L422.1 331.8M425.9 327.2L425.8 328.2M461.2 377.1L458 373.5M455.3 371.6L455.7 367.4M451.2 379.6L455.4 379.1M451.9 372.9L451.8 373.3"/>
<path stroke="#b0b2b6" stroke-width="1.1" stroke-linecap="round" fill="none" d="M414.3 351.6L415.4 351.9M460.7 332.5L459.6 329.9M493.6 380.7L492.4 380M468.5 362.9L464.2 360.5M468 356.9L470.8 359.7M493.8 339.3L492.6 339.8M493.8 343.6L492.3 342M491.8 347.3L489.7 343.7M483 377.2L482.8 380.9M478.6 381L475.7 379.1M477.3 371.4L473.7 372.5M475.6 351.5L473 352.6M420 357.4L418.7 353.1M415.4 351.9L416 352.7M475.8 347.4L472.8 345.6M466 328.9L467.9 327.2M463.8 334L465.6 333M465.6 333L466 328.9M473.3 335.1L476.3 331.7M438.2 379.4L441.6 380.4M439.7 369.1L442.2 371.3M427.1 370.5L425.4 370.9M483.5 342.8L485.9 343.8M479.4 345.8L479.5 345.6M453.1 338.2L449.9 338.2M449.5 348.7L454 346.3M414.5 336.2L414.3 336.1M416.3 333.5L415.3 330.6M419.6 333.6L420.3 338.5M419.6 333.6L416.3 333.5M437.2 342.7L437.7 346.9M421.9 376.8L421.5 379.4M414.7 375L416.3 375.8M414.6 370.2L416.2 369M418 366.4L422 368.4M422.9 357.7L420 357.4M459.2 358.8L463.5 357.6M458.9 362.7L458.2 361.6M466.1 370.7L462.9 371.8M432.5 347.3L431.7 351.8M428.3 360.9L430.5 362.1M490.7 364.5L491.9 365.9M455.1 351.3L458.9 351.9M462.5 346.4L459.3 349.1M428.3 360.9L428.5 356.2M439.6 333L439.6 329.1M430.4 344.3L427.4 342.9M432.5 347.3L430.5 345.1M431.7 342.7L430.4 344.3M421 348.7L424 347.3M443 351.1L439.6 352.3M445.5 353L445 356.9M438.2 351.6L439.6 352.3M488.6 375L486.5 375.5M425 336.9L424.5 333.9M455.4 379.1L455.3 376.5M451 381L451.2 379.6M456.2 379.5L455.4 379.1"/>
<path stroke="#d6d7da" stroke-width="0.8" fill="none" stroke-linejoin="round" stroke-linecap="round" d="M417.8 334.6L414.7 333.9L414.7 331.7L414.7 330.7L414.7 330M424.6 367.8L421.3 368.7L417.3 367.4L414.7 365.7M459.5 333.5L460.8 328.9L464.3 327.6L465.1 327.6L464.2 327.6M431 376.3L435.4 377.1L437.6 378.3L441.1 379.8L443.8 379.5L447.2 376.9M477 362.9L477.8 359.5L479.7 355.1L479.4 349.7L480.4 344.3M433.8 358.4L429.1 359.6L424.7 361.7L421.9 361.4L419.3 361M437.8 358.7L443 357.5L448.4 358.4L451.9 357.2L456.6 357.3M429 363.3L424.5 364.4L420.5 368L417.7 369.1L415.4 370.5"/>
</g>
<rect x="414.3" y="381" width="79.5" height="7.6" fill="#0b0b0b"/>
<text x="419.8" y="383.6" class="sb" textLength="46.4" lengthAdjust="spacingAndGlyphs">10.0kV 15.2mm x1.00k SE(M) 2/12/2013 10:25</text>
<text x="481.7" y="383.6" class="sb" textLength="7.7" lengthAdjust="spacingAndGlyphs">50&#956;m</text>
<rect x="47" y="6.9" width="285.2" height="209.6" fill="none" stroke="#111" stroke-width="1.75"/>
<path d="M41.8 216.5H47M41.8 174.58H47M41.8 132.66H47M41.8 90.74H47M41.8 48.82H47M41.8 6.9H47M44 195.54H47M44 153.62H47M44 111.7H47M44 69.78H47M44 27.86H47M47 216.5V221.7M142.07 216.5V221.7M237.13 216.5V221.7M332.2 216.5V221.7M94.53 216.5V219.5M189.6 216.5V219.5M284.67 216.5V219.5" stroke="#111" stroke-width="1.75" fill="none"/>
<text class="tk" transform="translate(36.7 219.85) scale(0.84 1)" text-anchor="end">0</text>
<text class="tk" transform="translate(36.7 177.93) scale(0.84 1)" text-anchor="end">5</text>
<text class="tk" transform="translate(36.7 136.01) scale(0.84 1)" text-anchor="end"><tspan class="one">1</tspan>0</text>
<text class="tk" transform="translate(36.7 94.09) scale(0.84 1)" text-anchor="end"><tspan class="one">1</tspan>5</text>
<text class="tk" transform="translate(36.7 52.17) scale(0.84 1)" text-anchor="end">20</text>
<text class="tk" transform="translate(36.7 10.25) scale(0.84 1)" text-anchor="end">25</text>
<text class="tk" transform="translate(47.5 233.5) scale(0.84 1)" text-anchor="middle">60</text>
<text class="tk" transform="translate(142.57 233.5) scale(0.84 1)" text-anchor="middle">70</text>
<text class="tk" transform="translate(237.63 233.5) scale(0.84 1)" text-anchor="middle">80</text>
<text class="tk" transform="translate(332.7 233.5) scale(0.84 1)" text-anchor="middle">90</text>
<rect x="415.9" y="6.9" width="286.1" height="210.1" fill="none" stroke="#111" stroke-width="1.75"/>
<path d="M410.7 217H415.9M410.7 174.98H415.9M410.7 132.96H415.9M410.7 90.94H415.9M410.7 48.92H415.9M410.7 6.9H415.9M412.9 195.99H415.9M412.9 153.97H415.9M412.9 111.95H415.9M412.9 69.93H415.9M412.9 27.91H415.9M415.9 217V222.2M511.27 217V222.2M606.63 217V222.2M702 217V222.2M463.58 217V220M558.95 217V220M654.32 217V220" stroke="#111" stroke-width="1.75" fill="none"/>
<text class="tk" transform="translate(406.6 220.35) scale(0.84 1)" text-anchor="end">0</text>
<text class="tk" transform="translate(406.6 178.33) scale(0.84 1)" text-anchor="end">5</text>
<text class="tk" transform="translate(406.6 136.31) scale(0.84 1)" text-anchor="end"><tspan class="one">1</tspan>0</text>
<text class="tk" transform="translate(406.6 94.29) scale(0.84 1)" text-anchor="end"><tspan class="one">1</tspan>5</text>
<text class="tk" transform="translate(406.6 52.27) scale(0.84 1)" text-anchor="end">20</text>
<text class="tk" transform="translate(406.6 10.25) scale(0.84 1)" text-anchor="end">25</text>
<text class="tk" transform="translate(416.4 234) scale(0.84 1)" text-anchor="middle">0</text>
<text class="tk" transform="translate(511.77 234) scale(0.84 1)" text-anchor="middle">5</text>
<text class="tk" transform="translate(607.13 234) scale(0.84 1)" text-anchor="middle"><tspan class="one">1</tspan>0</text>
<text class="tk" transform="translate(702.5 234) scale(0.84 1)" text-anchor="middle"><tspan class="one">1</tspan>5</text>
<rect x="222" y="280" width="286.9" height="211" fill="none" stroke="#111" stroke-width="1.75"/>
<path d="M216.8 491H222M216.8 448.8H222M216.8 406.6H222M216.8 364.4H222M216.8 322.2H222M216.8 280H222M219 469.9H222M219 427.7H222M219 385.5H222M219 343.3H222M219 301.1H222M222 491V496.2M279.38 491V496.2M336.76 491V496.2M394.14 491V496.2M451.52 491V496.2M508.9 491V496.2M250.69 491V494M308.07 491V494M365.45 491V494M422.83 491V494M480.21 491V494" stroke="#111" stroke-width="1.75" fill="none"/>
<text class="tk" transform="translate(213.6 494.35) scale(0.84 1)" text-anchor="end">0</text>
<text class="tk" transform="translate(213.6 452.15) scale(0.84 1)" text-anchor="end">5</text>
<text class="tk" transform="translate(213.6 409.95) scale(0.84 1)" text-anchor="end"><tspan class="one">1</tspan>0</text>
<text class="tk" transform="translate(213.6 367.75) scale(0.84 1)" text-anchor="end"><tspan class="one">1</tspan>5</text>
<text class="tk" transform="translate(213.6 325.55) scale(0.84 1)" text-anchor="end">20</text>
<text class="tk" transform="translate(213.6 283.35) scale(0.84 1)" text-anchor="end">25</text>
<text class="tk" transform="translate(222.5 508) scale(0.84 1)" text-anchor="middle">0.0</text>
<text class="tk" transform="translate(279.88 508) scale(0.84 1)" text-anchor="middle">0.5</text>
<text class="tk" transform="translate(337.26 508) scale(0.84 1)" text-anchor="middle"><tspan class="one">1</tspan>.0</text>
<text class="tk" transform="translate(394.64 508) scale(0.84 1)" text-anchor="middle"><tspan class="one">1</tspan>.5</text>
<text class="tk" transform="translate(452.02 508) scale(0.84 1)" text-anchor="middle">2.0</text>
<text class="tk" transform="translate(509.4 508) scale(0.84 1)" text-anchor="middle">2.5</text>
<text class="pl" transform="translate(-0.6 12.1) scale(1.03 1)"><tspan class="pp">(</tspan>a<tspan class="pp">)</tspan></text>
<text class="pl" transform="translate(365.3 12.1) scale(1.03 1)"><tspan class="pp">(</tspan>b<tspan class="pp">)</tspan></text>
<text class="pl" transform="translate(172.7 284.4) scale(1.03 1)"><tspan class="pp">(</tspan>c<tspan class="pp">)</tspan></text>
<text class="ti" transform="translate(188.9 252.3) scale(0.858 1)" text-anchor="middle">THF content (%)</text>
<text class="ti2" transform="translate(560.4 253) scale(0.89 1)" text-anchor="middle">Swelling time(min)</text>
<text class="ti2" transform="translate(369 526.2) scale(0.887 1)" text-anchor="middle">Freezing time(h)</text>
<text class="ti" transform="translate(13.5 107.85) rotate(-90) scale(0.871 1)" text-anchor="middle">Weight gain (%)</text>
<text class="ti" transform="translate(382.3 103.75) rotate(-90) scale(0.846 1)" text-anchor="middle">Weight gain (%)</text>
<text class="ti" transform="translate(186.3 385) rotate(-90) scale(0.84 1)" text-anchor="middle">Weight gain (%)</text>
<path d="M56.4 19.3H61.8M72.2 19.3H77.6" stroke="#e0201f" stroke-width="1.9"/>
<circle cx="68" cy="19.3" r="2.6" fill="#e0201f"/>
<path d="M56.4 31.7H61.8M72.2 31.7H77.6" stroke="#111" stroke-width="1.9"/>
<rect x="65.9" y="29.6" width="4.2" height="4.2" fill="#111"/>
<text class="lg" transform="translate(82.4 22.5) scale(0.9 1)">Oil</text>
<text class="lg" transform="translate(82.9 34.8) scale(0.9 1)">Water</text>
<path d="M428.9 20H434.7M444.7 20H450.3" stroke="#e0201f" stroke-width="1.9"/>
<circle cx="440.2" cy="20" r="2.6" fill="#e0201f"/>
<path d="M428.9 31.9H434.8M444.7 31.9H450.6" stroke="#111" stroke-width="1.9"/>
<rect x="438.1" y="29.8" width="4.2" height="4.2" fill="#111"/>
<text class="lg" transform="translate(454.5 23.9) scale(0.9 1)">Oil</text>
<text class="lg" transform="translate(455 34.9) scale(0.9 1)">Water</text>
<path d="M230.3 291.9H237.5M245.8 291.9H252.8" stroke="#e0201f" stroke-width="1.6"/>
<circle cx="241.7" cy="291.9" r="2.35" fill="#e0201f"/>
<path d="M230.3 303.9H236.8M247.2 303.9H252.8" stroke="#111" stroke-width="1.6"/>
<rect x="239.6" y="301.8" width="4.2" height="4.2" fill="#111"/>
<text class="lg" transform="translate(255.9 294.8) scale(0.9 1)">Oil</text>
<text class="lg" transform="translate(256.4 307) scale(0.9 1)">Water</text>
<path d="M146.9 143.35L237.4 111.8" stroke="#111" stroke-width="1.9" stroke-dasharray="6.6 7.7" stroke-dashoffset="15.6" fill="none"/>
<rect x="138.9" y="142.1" width="6" height="6" fill="#111"/>
<rect x="234.4" y="108.8" width="6" height="6" fill="#111"/>
<path d="M147.34 101.62L237.1 115.4" stroke="#e0201f" stroke-width="1.9" stroke-dasharray="6 7.5" stroke-dashoffset="15.1" fill="none"/>
<circle cx="142" cy="100.8" r="3.6" fill="#e0201f"/>
<circle cx="237.1" cy="115.4" r="3.6" fill="#e0201f"/>
<path d="M515.32 143.52L606.8 98.5" stroke="#111" stroke-width="1.9" stroke-dasharray="7.6 4.6 1.6 4.6" stroke-dashoffset="21.2" fill="none"/>
<rect x="508.1" y="142.6" width="6" height="6" fill="#111"/>
<rect x="603.8" y="95.5" width="6" height="6" fill="#111"/>
<path d="M516.56 99.37L606.7 78.7" stroke="#e0201f" stroke-width="1.9" stroke-dasharray="6.6 6.9" stroke-dashoffset="13.4" fill="none"/>
<circle cx="511.2" cy="100.6" r="3.6" fill="#e0201f"/>
<circle cx="606.7" cy="78.7" r="3.6" fill="#e0201f"/>
<path d="M336.9 419.6L393.9 374.9" stroke="#111" stroke-width="1.9" stroke-dasharray="9 5.2 1.5 5.2" stroke-dashoffset="20.3" fill="none"/>
<rect x="333.9" y="416.6" width="6" height="6" fill="#111"/>
<rect x="390.9" y="371.9" width="6" height="6" fill="#111"/>
<path d="M339.8 371.44L393.9 318.1" stroke="#e0201f" stroke-width="1.9" stroke-dasharray="10.9 5.6 1.6 5.1" stroke-dashoffset="8.5" fill="none"/>
<circle cx="336.6" cy="374.6" r="3.6" fill="#e0201f"/>
<circle cx="393.9" cy="318.1" r="3.6" fill="#e0201f"/>
</svg>
</body></html>
